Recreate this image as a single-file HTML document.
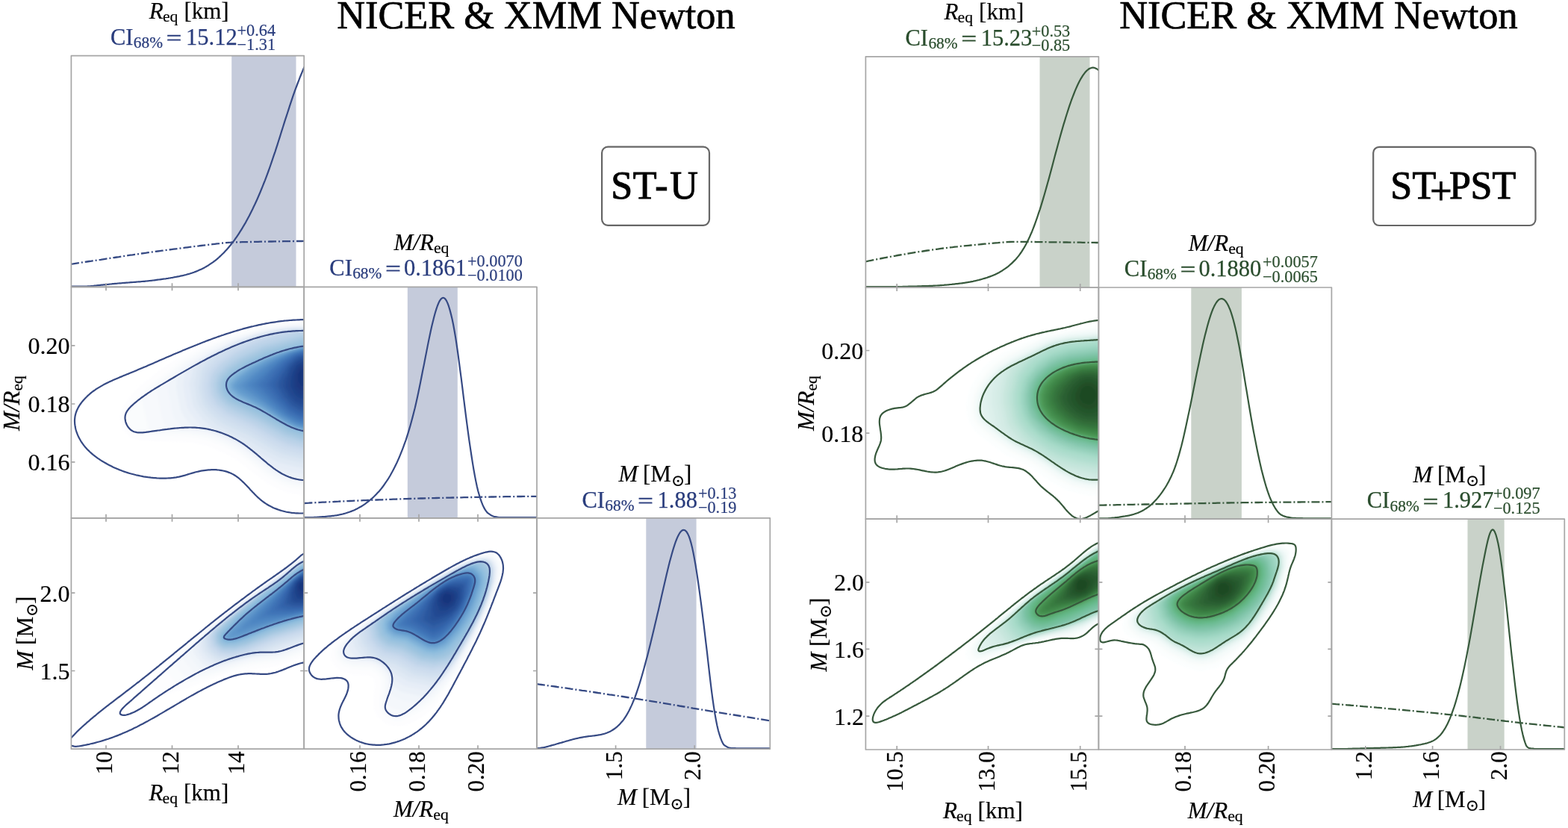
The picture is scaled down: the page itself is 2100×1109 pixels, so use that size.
<!DOCTYPE html>
<html><head><meta charset="utf-8"><style>
html,body{margin:0;padding:0;background:#fff;}
svg{display:block;}
text{font-family:"Liberation Serif","Times New Roman",serif;}
</style></head><body>
<svg width="2100" height="1109" viewBox="0 0 2100 1109">
<defs>
<filter id="bl" x="-5%" y="-5%" width="110%" height="110%"><feGaussianBlur stdDeviation="1.8"/></filter>
<clipPath id="Lclip00"><rect x="95.4" y="74.7" width="311.8" height="309.6"/></clipPath><clipPath id="Lclip11"><rect x="407.2" y="384.3" width="311.8" height="309.5"/></clipPath><clipPath id="Lclip22"><rect x="719" y="693.8" width="312.3" height="309.4"/></clipPath><clipPath id="Lclip10"><rect x="95.4" y="384.3" width="311.8" height="309.5"/></clipPath><clipPath id="Lclip20"><rect x="95.4" y="693.8" width="311.8" height="309.4"/></clipPath><clipPath id="Lclip21"><rect x="407.2" y="693.8" width="311.8" height="309.4"/></clipPath><clipPath id="Rclip00"><rect x="1159.4" y="75.8" width="312" height="309.2"/></clipPath><clipPath id="Rclip11"><rect x="1471.4" y="385" width="312" height="310.2"/></clipPath><clipPath id="Rclip22"><rect x="1783.4" y="695.2" width="311.9" height="308.8"/></clipPath><clipPath id="Rclip10"><rect x="1159.4" y="385" width="312" height="310.2"/></clipPath><clipPath id="Rclip20"><rect x="1159.4" y="695.2" width="312" height="308.8"/></clipPath><clipPath id="Rclip21"><rect x="1471.4" y="695.2" width="312" height="308.8"/></clipPath>
</defs>
<rect width="2100" height="1109" fill="#fff"/>
<rect x="310.2" y="74.7" width="86.3" height="309.6" fill="#c5cbdb"/>
<g clip-path="url(#Lclip00)">
<path d="M95 353.7L98.1 353.3L101.1 352.8L104.2 352.3L107.2 351.9L110.3 351.4L113.3 351L116.4 350.5L119.5 350L122.5 349.6L125.6 349.1L128.6 348.7L131.7 348.2L134.8 347.8L137.8 347.3L140.9 346.8L143.9 346.4L147 345.9L150 345.4L153.1 345L156.2 344.5L159.2 344.1L162.3 343.6L165.3 343.1L168.4 342.7L171.4 342.2L174.5 341.7L177.6 341.3L180.6 340.8L183.7 340.4L186.7 340L189.8 339.5L192.9 339.1L195.9 338.7L199 338.2L202 337.8L205.1 337.4L208.1 336.9L211.2 336.5L214.3 336.1L217.3 335.7L220.4 335.3L223.4 334.9L226.5 334.5L229.5 334.1L232.6 333.7L235.7 333.3L238.7 332.9L241.8 332.5L244.8 332.1L247.9 331.7L251 331.3L254 330.9L257.1 330.5L260.1 330.1L263.2 329.7L266.2 329.4L269.3 329L272.4 328.6L275.4 328.3L278.5 327.9L281.5 327.6L284.6 327.2L287.6 326.8L290.7 326.4L293.8 326.1L296.8 325.7L299.9 325.4L302.9 325.1L306 324.8L309.1 324.7L312.1 324.5L315.2 324.4L318.2 324.3L321.3 324.3L324.3 324.2L327.4 324.1L330.5 324.1L333.5 324L336.6 324L339.6 323.9L342.7 323.9L345.7 323.8L348.8 323.7L351.9 323.7L354.9 323.6L358 323.6L361 323.5L364.1 323.5L367.2 323.4L370.2 323.4L373.3 323.3L376.3 323.3L379.4 323.2L382.4 323.2L385.5 323.2L388.6 323.1L391.6 323.1L394.7 323L397.7 323L400.8 323L403.8 323L406.9 322.9" fill="none" stroke="#364a84" stroke-width="2.3" stroke-dasharray="11 3 2 3"/>
<path d="M95 383.5L96.5 383.5L98 383.5L99.5 383.5L101 383.5L102.6 383.5L104.1 383.5L105.6 383.5L107.1 383.5L108.6 383.5L110.1 383.5L111.6 383.5L113.1 383.5L114.6 383.5L116.2 383.5L117.7 383.4L119.2 383.4L120.7 383.3L122.2 383.1L123.7 383L125.2 382.9L126.7 382.7L128.2 382.6L129.7 382.4L131.3 382.2L132.8 382.1L134.3 381.9L135.8 381.7L137.3 381.6L138.8 381.4L140.3 381.3L141.8 381.1L143.3 381L144.9 380.8L146.4 380.7L147.9 380.5L149.4 380.4L150.9 380.2L152.4 380.1L153.9 379.9L155.4 379.8L156.9 379.7L158.5 379.5L160 379.4L161.5 379.3L163 379.2L164.5 379L166 378.9L167.5 378.8L169 378.7L170.5 378.6L172 378.5L173.6 378.3L175.1 378.2L176.6 378.1L178.1 378L179.6 377.9L181.1 377.8L182.6 377.6L184.1 377.5L185.6 377.4L187.2 377.3L188.7 377.2L190.2 377L191.7 376.9L193.2 376.8L194.7 376.6L196.2 376.5L197.7 376.3L199.2 376.2L200.8 376L202.3 375.8L203.8 375.7L205.3 375.5L206.8 375.3L208.3 375.1L209.8 374.9L211.3 374.7L212.8 374.5L214.4 374.3L215.9 374.1L217.4 373.9L218.9 373.7L220.4 373.5L221.9 373.3L223.4 373L224.9 372.8L226.4 372.5L227.9 372.3L229.5 372L231 371.8L232.5 371.5L234 371.2L235.5 371L237 370.7L238.5 370.4L240 370.1L241.5 369.7L243.1 369.4L244.6 369.1L246.1 368.7L247.6 368.3L249.1 368L250.6 367.5L252.1 367.1L253.6 366.7L255.1 366.2L256.7 365.7L258.2 365.2L259.7 364.7L261.2 364.1L262.7 363.6L264.2 362.9L265.7 362.3L267.2 361.6L268.7 360.9L270.3 360.2L271.8 359.5L273.3 358.7L274.8 357.9L276.3 357L277.8 356.1L279.3 355.2L280.8 354.2L282.3 353.2L283.8 352.2L285.4 351.1L286.9 349.9L288.4 348.8L289.9 347.6L291.4 346.3L292.9 345L294.4 343.6L295.9 342.2L297.4 340.8L299 339.3L300.5 337.7L302 336.1L303.5 334.5L305 332.8L306.5 331L308 329.2L309.5 327.3L311 325.4L312.6 323.4L314.1 321.4L315.6 319.2L317.1 317.1L318.6 314.9L320.1 312.6L321.6 310.2L323.1 307.8L324.6 305.4L326.1 302.8L327.7 300.2L329.2 297.6L330.7 294.8L332.2 292L333.7 289.2L335.2 286.2L336.7 283.2L338.2 280.2L339.7 277L341.3 273.8L342.8 270.5L344.3 267.2L345.8 263.7L347.3 260.2L348.8 256.7L350.3 253L351.8 249.3L353.3 245.5L354.9 241.6L356.4 237.6L357.9 233.6L359.4 229.5L360.9 225.3L362.4 221L363.9 216.6L365.4 212.2L366.9 207.7L368.5 203.1L370 198.4L371.5 193.8L373 189L374.5 184.3L376 179.5L377.5 174.7L379 170L380.5 165.2L382 160.4L383.6 155.7L385.1 151L386.6 146.3L388.1 141.7L389.6 137.1L391.1 132.7L392.6 128.2L394.1 123.9L395.6 119.7L397.2 115.5L398.7 111.5L400.2 107.6L401.7 103.7L403.2 100L404.7 96.3L406.2 92.8L407.7 89.4" fill="none" stroke="#364a84" stroke-width="2.2" stroke-linejoin="round"/>
</g>
<path d="M142 384.3v-5M230.5 384.3v-5M319 384.3v-5" stroke="#a6a6a6" stroke-width="1.7"/>
<rect x="545.8" y="384.3" width="67" height="309.5" fill="#c5cbdb"/>
<g clip-path="url(#Lclip11)">
<path d="M407.4 674L410.5 673.8L413.5 673.7L416.6 673.5L419.7 673.3L422.7 673.2L425.8 673L428.8 672.9L431.9 672.7L434.9 672.6L438 672.4L441 672.3L444.1 672.1L447.1 672L450.2 671.8L453.3 671.7L456.3 671.5L459.4 671.4L462.4 671.3L465.5 671.1L468.5 671L471.6 670.9L474.6 670.7L477.7 670.6L480.7 670.5L483.8 670.3L486.9 670.2L489.9 670.1L493 670L496 669.9L499.1 669.7L502.1 669.6L505.2 669.5L508.2 669.4L511.3 669.3L514.3 669.2L517.4 669L520.5 668.9L523.5 668.8L526.6 668.7L529.6 668.6L532.7 668.5L535.7 668.4L538.8 668.3L541.8 668.2L544.9 668.1L547.9 668L551 667.9L554.1 667.8L557.1 667.7L560.2 667.6L563.2 667.5L566.3 667.5L569.3 667.4L572.4 667.3L575.4 667.2L578.5 667.2L581.5 667.1L584.6 667L587.7 666.9L590.7 666.9L593.8 666.8L596.8 666.7L599.9 666.7L602.9 666.6L606 666.5L609 666.5L612.1 666.4L615.1 666.3L618.2 666.3L621.2 666.2L624.3 666.1L627.4 666.1L630.4 666L633.5 666L636.5 665.9L639.6 665.8L642.6 665.8L645.7 665.7L648.7 665.7L651.8 665.6L654.8 665.6L657.9 665.5L661 665.5L664 665.4L667.1 665.4L670.1 665.3L673.2 665.3L676.2 665.2L679.3 665.2L682.3 665.1L685.4 665.1L688.4 665.1L691.5 665L694.6 665L697.6 665L700.7 664.9L703.7 664.9L706.8 664.9L709.8 664.8L712.9 664.8L715.9 664.8L719 664.8" fill="none" stroke="#364a84" stroke-width="2.3" stroke-dasharray="11 3 2 3"/>
<path d="M407.4 693L409 693L410.5 693L412 693L413.5 693L415 693L416.5 693L418 693L419.5 693L421.1 692.9L422.6 692.9L424.1 692.8L425.6 692.7L427.1 692.6L428.6 692.4L430.1 692.3L431.6 692.2L433.1 692.1L434.7 692L436.2 691.8L437.7 691.7L439.2 691.5L440.7 691.4L442.2 691.3L443.7 691.1L445.2 690.9L446.8 690.8L448.3 690.5L449.8 690.3L451.3 690.1L452.8 689.8L454.3 689.5L455.8 689.2L457.3 688.8L458.9 688.5L460.4 688.1L461.9 687.7L463.4 687.3L464.9 686.8L466.4 686.3L467.9 685.8L469.4 685.2L471 684.6L472.5 684L474 683.4L475.5 682.7L477 681.9L478.5 681.2L480 680.4L481.5 679.5L483.1 678.7L484.6 677.8L486.1 676.8L487.6 675.8L489.1 674.8L490.6 673.7L492.1 672.5L493.6 671.4L495.2 670.2L496.7 668.9L498.2 667.6L499.7 666.2L501.2 664.8L502.7 663.3L504.2 661.7L505.7 660.1L507.3 658.4L508.8 656.7L510.3 654.9L511.8 653L513.3 651L514.8 648.9L516.3 646.7L517.8 644.5L519.4 642.2L520.9 639.7L522.4 637.2L523.9 634.5L525.4 631.8L526.9 628.9L528.4 626L529.9 622.9L531.5 619.7L533 616.4L534.5 613L536 609.4L537.5 605.7L539 601.8L540.5 597.8L542 593.6L543.6 589.3L545.1 584.7L546.6 579.9L548.1 574.9L549.6 569.7L551.1 564.3L552.6 558.6L554.1 552.7L555.7 546.5L557.2 540L558.7 533.3L560.2 526.2L561.7 519L563.2 511.6L564.7 504L566.2 496.3L567.8 488.6L569.3 480.8L570.8 473.1L572.3 465.4L573.8 457.9L575.3 450.6L576.8 443.5L578.3 436.7L579.9 430.3L581.4 424.3L582.9 418.8L584.4 413.9L585.9 409.5L587.4 405.8L588.9 402.8L590.4 400.6L592 399.3L593.5 398.8L595 399.2L596.5 400.6L598 402.9L599.5 406.1L601 410.2L602.5 415.1L604 420.9L605.6 427.5L607.1 434.8L608.6 443L610.1 451.9L611.6 461.6L613.1 472L614.6 483.1L616.1 494.7L617.7 506.6L619.2 518.7L620.7 530.9L622.2 542.9L623.7 554.8L625.2 566.4L626.7 577.7L628.2 588.7L629.8 599.3L631.3 609.5L632.8 619.1L634.3 628.2L635.8 636.6L637.3 644.4L638.8 651.4L640.3 657.7L641.9 663.2L643.4 668.1L644.9 672.4L646.4 676.2L647.9 679.4L649.4 682.1L650.9 684.4L652.4 686.3L654 687.6L655.5 688.7L657 689.7L658.5 690.6L660 691.3L661.5 691.8L663 692.1L664.5 692.4L666.1 692.7L667.6 692.9L669.1 693L670.6 693L672.1 693L673.6 693L675.1 693L676.6 693L678.2 693L679.7 693L681.2 693L682.7 693L684.2 693L685.7 693L687.2 693L688.7 693L690.3 693L691.8 693L693.3 693L694.8 693L696.3 693L697.8 693L699.3 693L700.8 693L702.4 693L703.9 693L705.4 693L706.9 693L708.4 693L709.9 693L711.4 693L712.9 693L714.5 693L716 693L717.5 693L719 693" fill="none" stroke="#364a84" stroke-width="2.2" stroke-linejoin="round"/>
</g>
<path d="M482 693.8v-5M561 693.8v-5M640 693.8v-5" stroke="#a6a6a6" stroke-width="1.7"/>
<rect x="865.3" y="693.8" width="67.3" height="309.4" fill="#c5cbdb"/>
<g clip-path="url(#Lclip22)">
<path d="M718.9 916.2L722 916.6L725 917L728 917.4L731.1 917.8L734.1 918.3L737.1 918.7L740.2 919.1L743.2 919.5L746.2 920L749.3 920.4L752.3 920.8L755.3 921.3L758.4 921.7L761.4 922.1L764.4 922.6L767.5 923L770.5 923.5L773.5 923.9L776.6 924.3L779.6 924.8L782.6 925.2L785.7 925.7L788.7 926.1L791.7 926.6L794.8 927L797.8 927.5L800.8 928L803.9 928.4L806.9 928.9L809.9 929.3L813 929.8L816 930.3L819 930.7L822.1 931.2L825.1 931.6L828.1 932.1L831.2 932.6L834.2 933L837.2 933.5L840.3 934L843.3 934.5L846.3 934.9L849.4 935.4L852.4 935.9L855.4 936.4L858.5 936.9L861.5 937.3L864.5 937.8L867.6 938.3L870.6 938.8L873.6 939.3L876.7 939.8L879.7 940.3L882.7 940.8L885.8 941.4L888.8 941.9L891.8 942.4L894.9 942.9L897.9 943.4L900.9 943.9L904 944.4L907 944.9L910 945.5L913.1 946L916.1 946.5L919.1 947L922.2 947.5L925.2 948L928.2 948.6L931.3 949.1L934.3 949.6L937.3 950.1L940.4 950.6L943.4 951.1L946.4 951.6L949.5 952.1L952.5 952.6L955.5 953.1L958.6 953.6L961.6 954.1L964.6 954.6L967.7 955.1L970.7 955.6L973.7 956.1L976.8 956.6L979.8 957L982.8 957.5L985.9 958L988.9 958.5L991.9 959L995 959.5L998 960L1001 960.4L1004.1 960.9L1007.1 961.4L1010.1 961.9L1013.2 962.4L1016.2 962.9L1019.2 963.3L1022.3 963.8L1025.3 964.3L1028.3 964.8L1031.4 965.2" fill="none" stroke="#364a84" stroke-width="2.3" stroke-dasharray="11 3 2 3"/>
<path d="M718.9 1002.3L720.5 1002.2L722 1002L723.5 1001.9L725 1001.6L726.5 1001.4L728 1001.2L729.5 1000.9L731 1000.5L732.5 1000.1L734 999.7L735.5 999.3L737.1 998.9L738.6 998.4L740.1 998L741.6 997.6L743.1 997.2L744.6 996.7L746.1 996.3L747.6 995.9L749.1 995.4L750.6 995L752.2 994.6L753.7 994.1L755.2 993.7L756.7 993.3L758.2 992.8L759.7 992.4L761.2 992L762.7 991.5L764.2 991.1L765.7 990.7L767.2 990.3L768.8 989.9L770.3 989.5L771.8 989.2L773.3 988.8L774.8 988.5L776.3 988.2L777.8 987.9L779.3 987.6L780.8 987.3L782.3 987L783.8 986.8L785.4 986.6L786.9 986.4L788.4 986.2L789.9 986L791.4 985.8L792.9 985.7L794.4 985.5L795.9 985.3L797.4 985.1L798.9 984.9L800.4 984.7L802 984.4L803.5 984.2L805 983.9L806.5 983.5L808 983.1L809.5 982.7L811 982.2L812.5 981.7L814 981.1L815.5 980.4L817.1 979.7L818.6 978.9L820.1 978L821.6 977L823.1 976L824.6 974.9L826.1 973.7L827.6 972.3L829.1 970.9L830.6 969.3L832.1 967.6L833.7 965.8L835.2 963.8L836.7 961.6L838.2 959.3L839.7 956.9L841.2 954.2L842.7 951.4L844.2 948.3L845.7 945.1L847.2 941.7L848.7 938L850.3 934.1L851.8 930L853.3 925.7L854.8 921.2L856.3 916.5L857.8 911.6L859.3 906.5L860.8 901.3L862.3 896L863.8 890.4L865.3 884.8L866.9 879L868.4 873.1L869.9 867.1L871.4 861L872.9 854.8L874.4 848.6L875.9 842.2L877.4 835.8L878.9 829.4L880.4 822.9L882 816.4L883.5 809.8L885 803.2L886.5 796.6L888 790.1L889.5 783.5L891 777L892.5 770.5L894 764.2L895.5 758L897 752L898.6 746.3L900.1 740.8L901.6 735.6L903.1 730.8L904.6 726.4L906.1 722.5L907.6 718.9L909.1 716L910.6 713.5L912.1 711.6L913.6 710.4L915.2 709.9L916.7 710L918.2 710.9L919.7 712.6L921.2 715.1L922.7 718.4L924.2 722.7L925.7 727.9L927.2 734.1L928.7 741.3L930.2 749.4L931.8 758.3L933.3 767.9L934.8 778L936.3 788.6L937.8 799.6L939.3 810.9L940.8 822.6L942.3 834.7L943.8 847.2L945.3 860L946.9 873.2L948.4 886.5L949.9 899.6L951.4 912.4L952.9 924.6L954.4 936L955.9 946.4L957.4 955.8L958.9 964.2L960.4 971.7L961.9 978.2L963.5 983.7L965 988.4L966.5 992.2L968 995.3L969.5 997.6L971 998.7L972.5 999.6L974 1000.5L975.5 1001.2L977 1001.7L978.5 1001.9L980.1 1002L981.6 1002.1L983.1 1002.1L984.6 1002.2L986.1 1002.3L987.6 1002.4L989.1 1002.4L990.6 1002.4L992.1 1002.4L993.6 1002.4L995.1 1002.4L996.7 1002.4L998.2 1002.4L999.7 1002.4L1001.2 1002.4L1002.7 1002.4L1004.2 1002.4L1005.7 1002.4L1007.2 1002.4L1008.7 1002.4L1010.2 1002.4L1011.8 1002.4L1013.3 1002.4L1014.8 1002.4L1016.3 1002.4L1017.8 1002.4L1019.3 1002.4L1020.8 1002.4L1022.3 1002.4L1023.8 1002.4L1025.3 1002.4L1026.8 1002.4L1028.4 1002.4L1029.9 1002.4L1031.4 1002.4" fill="none" stroke="#364a84" stroke-width="2.2" stroke-linejoin="round"/>
</g>
<path d="M824.6 1003.2v-5M930.2 1003.2v-5" stroke="#a6a6a6" stroke-width="1.7"/>
<path d="M142 693.8v-5M142 384.3v5M230.5 693.8v-5M230.5 384.3v5M319 693.8v-5M319 384.3v5M95.4 462.8h5M407.2 462.8h-5M95.4 541h5M407.2 541h-5M95.4 618.8h5M407.2 618.8h-5" stroke="#a6a6a6" stroke-width="1.7"/>
<g clip-path="url(#Lclip10)">
<g filter="url(#bl)"><path d="M447.8 430.2 446.2 428.8 399.2 428.8 376.2 430.8 350.8 435.2 310.2 446.8 285.8 456.2 257.8 469.2 236.2 480.8 215.2 494.2 189.2 515.2 176.2 528.8 165.8 542.2 161.8 550.8 160.8 562.2 164.2 574.2 172.8 584.8 184.8 589.8 254.2 592.8 269.8 595.2 284.2 599.8 312.8 613.2 359.2 648.2 372.2 655.2 383.2 659.2 407.2 663.8 436.2 663.8 440.2 662.2 446.8 653.2 449.2 636.2 450.8 578.8 450.8 462.2 449.8 440.8Z" fill="#fdfdfe" fill-rule="evenodd"/><path d="M445.8 432.2 442.8 430.8 393.2 431.2 355.8 436.8 310.8 449.8 266.2 469.2 241.8 483.8 198.8 517.8 177.8 539.8 170.8 552.8 172.2 565.8 175.8 575.2 180.8 579.8 189.2 582.2 242.2 583.8 257.8 585.2 277.2 589.2 297.8 596.8 312.8 604.2 325.8 612.8 357.2 637.8 376.8 648.8 388.2 652.8 403.8 655.8 439.2 655.2 444.2 650.2 447.2 643.2 448.8 590.8 450.2 577.8 450.2 463.2 448.8 442.2Z" fill="#fafcfd" fill-rule="evenodd"/><path d="M445.8 435.8 442.8 432.8 408.2 432.2 384.8 433.8 356.8 438.2 312.2 451.2 290.2 460.2 267.2 471.8 249.2 483.2 213.8 510.8 191.2 532.2 190.2 537.8 198.8 575.8 204.2 578.2 250.8 580.2 277.8 585.2 300.8 593.8 317.2 602.2 359.2 634.2 378.8 645.2 394.8 650.2 408.2 652.2 439.2 651.2 443.2 647.8 445.8 642.8 448.2 584.8 449.8 577.8 449.8 463.2 448.2 456.2 448.2 444.2Z" fill="#f7f9fc" fill-rule="evenodd"/><path d="M444.8 437.8 440.2 434.2 402.2 434.2 366.2 438.2 343.8 443.2 316.8 451.8 277.8 469.8 251.8 486.2 217.8 512.8 210.8 519.8 209.8 524.2 216.8 559.8 219.8 567.2 226.8 574.2 268.8 579.2 285.2 583.8 303.2 590.8 322.8 601.2 366.8 634.8 385.2 643.8 404.8 648.2 437.8 648.2 443.2 643.2 447.8 581.2 449.2 577.8 449.2 463.2 447.8 459.8 447.2 443.8Z" fill="#f4f7fb" fill-rule="evenodd"/><path d="M225.2 512.2 224.2 519.8 231.2 554.8 234.2 561.2 242.8 571.8 277.8 578.8 308.2 590.2 327.2 601.2 367.8 632.2 384.8 640.8 406.2 645.8 437.2 645.8 440.2 643.8 444.2 621.8 447.2 580.8 449.2 576.2 449.2 464.2 447.2 460.2 446.2 443.8 441.8 436.8 439.8 435.8 385.8 436.8 353.8 442.2 321.8 451.8 305.8 458.2 267.8 478.8 243.8 495.8Z" fill="#f1f5fa" fill-rule="evenodd"/><path d="M239.2 503.2 236.8 509.2 235.8 518.8 241.8 548.8 246.2 557.8 257.2 571.2 287.8 579.8 315.8 591.8 330.8 601.2 364.8 627.8 381.2 636.8 403.8 642.8 434.2 643.2 438.2 641.8 443.8 614.2 446.2 582.2 448.8 577.2 448.8 463.8 446.2 458.8 445.2 443.8 440.8 437.8 438.2 436.8 387.2 437.8 361.8 441.8 336.8 448.2 313.8 456.8 281.8 472.8 255.8 489.2Z" fill="#ebf1f8" fill-rule="evenodd"/><path d="M250.2 496.8 247.8 501.8 245.2 514.8 250.2 544.2 254.8 553.2 269.8 571.2 315.8 589.8 335.2 602.2 359.8 621.2 371.8 627.8 405.2 635.2 435.8 635.2 437.8 633.8 442.8 611.8 445.8 581.2 448.8 576.2 448.8 464.8 445.8 459.8 444.8 445.2 440.8 439.2 437.2 437.8 392.8 438.2 365.2 442.2 341.2 448.2 317.8 456.8 288.8 470.8 258.8 489.2Z" fill="#e6edf7" fill-rule="evenodd"/><path d="M258.8 492.2 253.2 514.2 257.8 541.2 259.8 546.2 271.8 562.2 284.2 572.8 321.2 590.2 348.8 607.8 372.8 619.8 404.8 627.2 436.2 627.2 437.8 625.8 441.2 612.8 445.2 581.2 448.2 577.2 448.2 463.8 445.2 459.8 443.2 443.8 440.2 440.2 436.2 438.8 393.8 439.2 371.2 442.2 342.2 449.2 317.8 458.2 290.8 471.2 274.2 480.8Z" fill="#e0e9f4" fill-rule="evenodd"/><path d="M266.2 490.2 264.2 494.2 260.2 513.8 263.8 537.2 266.8 544.2 275.2 555.8 290.2 568.8 307.2 578.2 331.8 589.2 352.2 601.8 375.2 613.2 404.2 620.2 436.2 620.2 437.8 618.8 441.8 603.2 444.2 582.2 448.2 576.2 448.2 464.8 444.2 458.8 442.2 443.8 439.2 440.8 394.2 440.2 369.2 443.8 344.8 449.8 317.2 459.8 300.2 467.8 275.8 481.8Z" fill="#dae5f2" fill-rule="evenodd"/><path d="M277.2 485.2 271.8 492.8 269.2 498.8 266.2 519.8 271.8 540.8 280.2 552.2 287.8 559.2 300.8 568.2 332.8 582.8 366.8 602.8 379.2 608.2 404.2 614.2 436.2 614.2 437.8 612.8 440.8 602.8 443.8 581.2 448.2 575.2 448.2 465.8 443.8 459.8 442.2 446.8 439.2 441.8 434.8 440.8 394.2 441.2 372.2 444.2 348.8 449.8 309.2 464.8 287.2 476.8Z" fill="#d3e1f0" fill-rule="evenodd"/><path d="M277.2 494.2 274.2 500.8 271.8 513.2 271.8 520.2 274.2 532.2 277.2 539.2 282.8 546.8 296.8 559.2 336.8 578.8 367.2 596.8 380.2 602.8 403.8 608.8 437.2 608.2 440.2 599.8 443.2 580.8 447.8 576.8 447.8 464.2 443.2 460.2 439.8 443.2 436.2 441.8 394.2 442.2 375.8 444.8 346.2 451.8 321.8 460.8 303.2 470.2 290.8 479.2Z" fill="#ceddee" fill-rule="evenodd"/><path d="M283.2 494.2 279.2 501.2 276.2 517.8 278.2 528.8 281.8 537.2 285.8 542.8 300.2 555.8 339.8 574.8 360.2 587.2 382.2 598.2 406.2 604.2 435.2 604.2 437.8 602.8 442.8 580.2 447.8 575.8 447.8 465.2 442.8 460.8 440.2 446.2 438.2 443.2 395.2 443.2 370.2 447.2 347.8 453.2 329.8 460.2 313.8 468.8 294.8 482.2Z" fill="#c8d9ec" fill-rule="evenodd"/><path d="M286.2 497.8 282.8 504.8 280.8 514.8 282.8 528.2 290.2 541.2 304.8 553.2 338.2 568.8 372.2 588.8 385.8 594.8 405.2 599.8 435.8 599.8 437.8 598.2 441.8 580.8 447.2 576.8 447.8 467.2 447.2 464.2 441.8 460.2 438.2 444.8 395.2 444.8 372.2 449.8 348.2 457.2 334.8 462.8 314.2 473.8 296.2 486.8Z" fill="#bfd4e9" fill-rule="evenodd"/><path d="M288.2 502.2 284.8 515.8 287.2 528.8 292.8 537.8 305.2 548.8 342.2 566.2 372.8 584.2 386.8 590.8 406.2 595.8 435.2 595.8 437.8 594.2 441.2 580.2 447.2 576.2 447.2 464.8 441.8 461.2 437.2 446.2 405.8 445.8 399.8 446.8 346.8 462.2 326.8 471.2 310.2 481.2 299.8 489.2Z" fill="#b8d1e7" fill-rule="evenodd"/><path d="M292.8 502.2 288.8 513.8 289.8 524.2 294.8 534.2 303.2 542.8 320.2 552.2 344.8 563.2 380.2 583.8 404.2 591.8 436.2 591.8 438.8 588.2 440.8 580.2 446.8 576.2 447.2 465.8 446.2 463.8 440.8 460.8 438.8 452.8 436.2 449.2 405.8 449.2 352.2 464.2 318.8 480.2 303.2 491.2Z" fill="#afcce4" fill-rule="evenodd"/><path d="M296.2 503.2 292.2 513.8 293.2 523.8 297.2 531.8 305.8 540.2 345.8 559.8 382.2 580.8 404.2 588.2 436.2 588.2 439.8 580.2 446.8 575.8 446.8 464.8 439.8 460.8 436.2 452.8 405.8 452.8 354.2 467.2 324.8 480.8 305.8 493.8Z" fill="#a6c8e1" fill-rule="evenodd"/><path d="M297.8 507.2 295.8 512.8 295.8 520.8 300.2 530.2 307.2 537.2 347.2 556.8 384.8 578.2 406.8 585.2 435.2 585.2 437.2 584.2 440.8 578.2 446.8 575.2 446.8 465.8 445.2 463.8 440.2 462.2 436.8 456.2 404.8 456.2 355.8 470.2 323.8 485.2 307.2 496.8Z" fill="#9ec4df" fill-rule="evenodd"/><path d="M446.2 465.2 434.2 458.8 409.8 458.8 382.2 465.2 355.2 473.8 332.8 483.8 309.8 498.8 299.8 510.2 299.2 521.8 302.2 527.8 313.8 537.8 348.2 553.8 390.2 577.2 408.2 582.2 436.8 581.8 439.8 578.2 446.2 575.8Z" fill="#98c1df" fill-rule="evenodd"/><path d="M303.8 508.8 301.2 515.2 301.8 520.2 304.8 526.2 311.2 532.8 350.2 551.8 384.2 571.8 394.8 576.2 408.2 579.8 436.8 579.2 445.8 575.8 446.2 466.2 444.2 464.2 435.2 461.2 407.2 461.2 369.2 471.8 352.2 477.8 330.2 488.2 311.8 500.8Z" fill="#90bede" fill-rule="evenodd"/><path d="M445.8 465.8 436.2 462.8 408.8 462.2 358.2 477.2 335.2 487.8 315.2 500.8 305.2 510.8 303.8 519.2 306.8 525.2 316.8 533.8 347.8 548.2 372.2 563.2 393.8 574.2 407.8 578.2 437.2 577.8 444.2 576.2 445.8 574.8Z" fill="#87b8db" fill-rule="evenodd"/><path d="M306.2 513.8 305.8 517.8 307.8 522.8 315.2 530.2 350.8 548.2 390.8 571.8 405.2 576.8 436.8 576.8 443.8 575.8 445.2 574.2 445.8 467.8 444.2 465.2 436.8 463.8 407.2 463.2 374.2 472.8 353.2 480.8 331.8 491.8 314.2 504.2Z" fill="#7fb1d8" fill-rule="evenodd"/><path d="M308.8 514.8 310.2 521.8 318.8 529.8 351.2 546.8 380.2 565.2 392.2 571.2 409.8 576.2 444.2 574.2 445.2 468.2 443.8 465.8 408.2 463.8 374.2 473.8 355.2 481.2 333.8 492.8 316.8 505.2Z" fill="#75a9d4" fill-rule="evenodd"/><path d="M311.8 515.2 312.2 519.8 319.8 527.2 352.8 545.8 383.2 565.8 395.8 571.8 409.2 575.2 441.8 573.8 443.8 571.8 444.2 467.8 442.2 466.2 408.8 464.2 376.8 473.8 360.8 480.2 338.2 492.2 321.2 504.8Z" fill="#6ba1d0" fill-rule="evenodd"/><path d="M314.8 516.2 315.8 519.8 321.8 525.2 351.2 542.8 381.2 563.2 397.2 571.2 405.8 573.8 438.2 572.8 440.8 572.2 442.2 570.2 443.8 537.2 443.2 468.8 441.2 467.2 410.2 464.8 395.2 468.2 376.8 474.8 357.8 483.2 336.2 496.2 318.2 511.2Z" fill="#649bcd" fill-rule="evenodd"/><path d="M318.8 515.8 319.2 518.8 324.8 523.8 354.8 542.8 375.8 558.2 393.2 568.2 406.2 572.8 439.2 570.8 440.8 568.8 442.8 532.2 442.2 470.2 439.8 468.2 418.8 465.8 406.8 465.8 386.8 471.8 370.2 478.8 349.2 490.2 330.8 503.8Z" fill="#5f96cb" fill-rule="evenodd"/><path d="M323.2 515.8 323.2 517.8 330.8 524.2 353.2 539.2 376.8 557.2 396.2 568.2 405.2 571.2 412.2 571.8 435.2 569.8 439.2 567.2 441.8 526.2 441.2 472.2 439.2 469.8 421.2 466.8 407.2 466.2 386.2 472.8 367.2 481.8 349.2 492.8 332.8 505.8Z" fill="#5990c7" fill-rule="evenodd"/><path d="M327.8 516.2 330.8 520.2 373.8 553.2 393.8 565.8 406.8 570.2 415.8 570.2 435.8 567.8 437.8 565.2 440.8 519.8 439.8 472.8 437.8 470.8 422.8 467.8 407.8 466.8 387.2 473.2 369.2 482.2 351.8 493.8 338.2 504.8Z" fill="#528ac4" fill-rule="evenodd"/><path d="M333.8 513.8 332.8 516.8 375.8 552.8 392.8 563.8 406.2 568.8 421.2 568.2 435.2 565.2 438.2 542.2 439.8 510.8 438.8 474.8 437.2 472.2 411.2 467.2 391.8 472.2 377.2 479.2 360.8 489.8 345.2 502.2Z" fill="#4d85c2" fill-rule="evenodd"/><path d="M337.8 514.8 337.8 516.8 371.8 547.2 383.2 556.2 396.2 563.8 406.8 567.2 415.2 567.2 431.2 564.8 434.2 562.2 438.2 520.2 437.8 479.2 436.8 474.2 434.2 472.8 414.2 468.2 407.2 468.2 393.8 472.2 379.8 479.2 362.2 491.2Z" fill="#4880be" fill-rule="evenodd"/><path d="M408.8 468.8 391.2 474.2 373.2 485.2 347.2 508.8 342.8 514.2 342.8 516.2 371.8 544.8 385.2 555.8 400.2 563.8 407.2 565.8 413.8 565.8 429.2 563.2 432.8 560.2 436.8 524.2 436.8 484.8 434.8 474.8 422.8 470.8Z" fill="#447abb" fill-rule="evenodd"/><path d="M407.2 469.8 396.8 472.8 379.2 482.8 362.2 497.2 347.2 515.2 362.8 532.8 384.8 553.2 400.8 562.2 410.8 564.2 426.8 561.8 430.8 559.2 435.2 525.8 435.8 490.8 434.8 478.2 432.8 475.8 418.2 470.8Z" fill="#4175b7" fill-rule="evenodd"/><path d="M406.8 470.8 397.8 473.2 379.8 484.2 364.8 498.2 351.8 515.2 369.8 536.8 388.2 553.8 401.8 560.8 412.8 562.2 425.8 559.8 429.2 556.8 434.2 520.2 434.2 488.8 433.2 479.2 431.2 476.8 415.8 471.2Z" fill="#3d71b5" fill-rule="evenodd"/><path d="M406.2 471.8 392.8 476.8 382.8 483.8 367.2 499.2 356.2 515.2 369.8 533.2 386.8 550.2 401.8 558.8 413.2 560.2 425.8 557.2 427.8 553.8 432.8 521.2 432.8 487.2 431.8 480.2 430.2 478.2 417.2 472.8Z" fill="#3a6cb1" fill-rule="evenodd"/><path d="M406.2 472.8 395.8 476.2 383.2 485.2 366.8 504.2 360.8 513.2 360.8 516.2 375.8 536.8 386.8 547.8 398.2 555.2 405.2 557.8 412.8 558.2 423.8 555.2 426.2 550.8 431.2 521.8 431.8 493.2 430.8 482.8 428.2 479.2 414.8 473.2Z" fill="#3667ae" fill-rule="evenodd"/><path d="M406.2 473.8 395.2 477.8 381.2 489.8 368.2 507.2 364.8 513.8 364.8 516.8 376.8 534.2 388.8 546.8 397.8 552.8 410.2 556.2 422.2 553.2 424.8 547.8 429.8 521.8 430.2 492.8 429.2 483.8 427.2 480.8 415.8 474.8Z" fill="#3363aa" fill-rule="evenodd"/><path d="M407.2 474.8 396.8 478.2 386.2 486.8 373.8 503.8 368.2 515.8 378.2 532.2 390.2 545.2 402.2 552.2 411.8 553.8 421.2 550.2 424.8 539.8 428.8 516.2 428.8 492.8 427.8 484.8 424.2 480.8 415.8 476.2Z" fill="#305ea5" fill-rule="evenodd"/><path d="M405.8 476.2 398.2 478.8 386.8 488.8 378.2 501.2 372.8 512.2 372.2 517.2 380.2 530.8 390.8 542.8 401.2 549.2 411.2 551.2 418.8 548.8 423.2 537.2 427.2 515.8 427.2 493.2 426.2 486.2 423.8 482.8 413.2 476.8Z" fill="#2c59a0" fill-rule="evenodd"/><path d="M404.8 477.8 396.8 481.2 387.8 490.2 378.8 506.2 375.8 513.8 375.8 517.2 383.8 531.2 393.2 541.8 401.8 546.8 412.2 548.2 417.2 545.8 422.8 531.2 425.8 514.8 425.8 494.2 424.2 486.2 420.8 482.8 411.2 477.8Z" fill="#29549b" fill-rule="evenodd"/><path d="M404.8 479.2 394.8 484.8 388.2 492.8 380.2 510.2 379.2 517.8 387.2 531.8 394.2 539.2 402.8 544.2 412.2 545.2 416.8 540.8 422.8 523.2 424.2 513.2 424.2 495.2 422.8 487.8 420.2 484.8 411.2 479.2Z" fill="#264f97" fill-rule="evenodd"/><path d="M405.2 480.8 397.8 484.2 390.2 493.2 384.2 507.2 382.8 518.2 388.8 529.2 396.8 537.8 403.2 541.2 411.2 541.8 415.2 537.2 420.8 523.2 422.8 511.2 422.8 497.8 421.2 489.2 417.2 484.8 411.8 481.2Z" fill="#234a92" fill-rule="evenodd"/><path d="M404.2 482.8 399.2 485.2 392.2 493.8 387.2 506.8 385.8 516.8 389.2 524.8 397.8 534.8 403.2 537.8 409.2 538.2 413.8 533.8 418.2 524.2 420.8 513.2 421.2 501.2 420.2 492.8 418.2 488.8 411.2 483.2Z" fill="#21468e" fill-rule="evenodd"/><path d="M404.8 484.8 397.8 489.2 392.8 497.8 390.2 505.8 389.2 517.2 394.2 526.8 399.2 531.8 404.2 534.2 407.8 534.2 413.8 527.8 417.2 519.8 419.2 509.2 419.2 499.2 415.8 489.2 409.2 484.8Z" fill="#1f428a" fill-rule="evenodd"/><path d="M408.8 487.2 403.2 487.8 399.2 490.8 395.2 497.8 392.8 507.8 392.8 517.2 394.2 520.8 400.8 528.2 404.2 529.8 407.8 528.8 412.2 524.2 417.2 508.8 416.2 494.8 414.2 491.2Z" fill="#1c3e85" fill-rule="evenodd"/><path d="M407.8 490.2 404.8 490.2 399.8 494.2 396.2 503.8 397.2 518.2 403.2 523.8 405.8 523.8 410.2 520.8 414.8 509.8 413.8 495.8 410.8 491.8Z" fill="#1a3980" fill-rule="evenodd"/><path d="M406.8 494.2 401.8 497.2 399.8 502.2 399.8 510.8 403.8 516.8 406.8 516.8 409.2 514.8 412.2 505.8 411.8 499.8 410.2 496.8Z" fill="#18357c" fill-rule="evenodd"/></g>
<path d="M413.1 428.1L411.1 428.1L409 428.1L406.9 428.1L404.9 428.2L402.8 428.2L400.8 428.3L398.8 428.4L396.7 428.5L394.7 428.6L392.7 428.7L390.6 428.8L388.6 429L386.6 429.2L384.6 429.3L382.6 429.5L380.6 429.7L378.6 430L376.6 430.2L374.6 430.4L372.6 430.7L370.6 431L368.6 431.3L366.6 431.6L364.6 431.9L362.6 432.2L360.7 432.5L358.7 432.9L356.7 433.2L354.8 433.6L352.8 434L350.8 434.4L348.9 434.8L346.9 435.2L345 435.6L343 436.1L341.1 436.5L339.1 437L337.2 437.4L335.3 437.9L333.3 438.4L331.4 438.9L329.5 439.4L327.5 439.9L325.6 440.4L323.7 441L321.8 441.5L319.9 442.1L317.9 442.6L316 443.2L314.1 443.8L312.2 444.4L310.3 445L308.4 445.6L306.5 446.2L304.6 446.8L302.7 447.4L300.8 448L298.9 448.7L297 449.3L295.1 450L293.2 450.6L291.3 451.3L289.4 452L287.6 452.6L285.7 453.3L283.8 454L281.9 454.7L280 455.4L278.1 456.1L276.3 456.8L274.4 457.6L272.5 458.3L270.6 459L268.8 459.7L266.9 460.5L265 461.2L263.2 462L261.3 462.7L259.4 463.5L257.6 464.2L255.7 465L253.8 465.7L252 466.5L250.1 467.3L248.2 468.1L246.4 468.8L244.5 469.6L242.7 470.4L240.8 471.2L239 472L237.1 472.8L235.2 473.5L233.4 474.3L231.5 475.1L229.7 475.9L227.8 476.7L226 477.5L224.1 478.3L222.2 479.1L220.4 479.9L218.5 480.7L216.7 481.5L214.8 482.3L213 483.1L211.1 483.9L209.3 484.7L207.4 485.6L205.5 486.4L203.7 487.2L201.8 488L200 488.8L198.1 489.6L196.3 490.4L194.4 491.2L192.5 491.9L190.7 492.7L188.8 493.5L187 494.3L185.1 495.1L183.2 495.9L181.4 496.7L179.5 497.5L177.7 498.2L175.8 499L173.9 499.8L172.1 500.6L170.2 501.3L168.3 502.1L166.5 502.8L164.6 503.6L162.7 504.4L160.9 505.1L159 505.9L157.2 506.7L155.3 507.5L153.5 508.3L151.6 509.1L149.8 509.9L148 510.7L146.2 511.6L144.4 512.4L142.6 513.3L140.8 514.2L139 515.1L137.3 516.1L135.6 517.1L133.9 518.1L132.2 519.1L130.5 520.1L128.8 521.2L127.2 522.4L125.5 523.5L123.9 524.7L122.3 525.9L120.8 527.2L119.3 528.5L117.7 529.9L116.3 531.3L114.8 532.7L113.4 534.2L112 535.7L110.7 537.3L109.4 538.9L108.2 540.5L107 542.2L105.9 543.9L104.9 545.6L104 547.4L103.1 549.2L102.4 551L101.7 552.8L101.2 554.7L100.7 556.6L100.4 558.5L100.2 560.4L100 562.4L100 564.3L100.1 566.3L100.2 568.2L100.5 570.2L100.8 572.1L101.2 574L101.7 576L102.3 577.9L103 579.8L103.7 581.7L104.5 583.6L105.3 585.4L106.3 587.2L107.3 589L108.3 590.8L109.4 592.5L110.6 594.2L111.8 595.8L113 597.4L114.3 599L115.7 600.5L117 602L118.5 603.4L119.9 604.8L121.4 606.2L123 607.6L124.5 608.9L126.1 610.1L127.7 611.4L129.4 612.6L131 613.8L132.7 614.9L134.4 616.1L136.1 617.2L137.9 618.2L139.6 619.3L141.4 620.3L143.1 621.3L144.9 622.3L146.7 623.2L148.5 624.1L150.3 625L152.1 625.9L154 626.7L155.8 627.5L157.6 628.3L159.5 629.1L161.4 629.8L163.2 630.5L165.1 631.2L167 631.9L168.9 632.5L170.8 633.1L172.7 633.7L174.6 634.3L176.5 634.8L178.5 635.3L180.4 635.8L182.4 636.3L184.3 636.7L186.3 637.1L188.2 637.5L190.2 637.9L192.2 638.3L194.1 638.6L196.1 638.9L198.1 639.2L200.1 639.4L202.1 639.7L204.1 639.9L206.1 640.1L208.1 640.2L210.1 640.4L212.1 640.5L214.1 640.6L216.1 640.6L218.1 640.7L220.1 640.6L222.1 640.6L224.1 640.5L226.1 640.4L228.1 640.3L230.1 640.1L232.1 639.9L234 639.6L236 639.3L238 638.9L239.9 638.6L241.9 638.1L243.9 637.6L245.8 637.1L247.7 636.6L249.7 636L251.6 635.4L253.5 634.8L255.5 634.2L257.4 633.6L259.4 633.1L261.3 632.5L263.3 632L265.3 631.6L267.3 631.1L269.3 630.7L271.3 630.4L273.3 630.1L275.3 629.8L277.2 629.6L279.2 629.4L281.2 629.3L283.2 629.2L285.2 629.1L287.2 629.2L289.1 629.2L291.1 629.4L293 629.5L294.9 629.8L296.8 630.1L298.7 630.5L300.6 630.9L302.4 631.4L304.2 631.9L306 632.6L307.8 633.3L309.6 634L311.3 634.9L313 635.8L314.6 636.8L316.3 637.9L317.9 639L319.4 640.2L321 641.5L322.5 642.8L324 644.2L325.5 645.6L327 647L328.4 648.5L329.9 650L331.3 651.5L332.8 653.1L334.2 654.6L335.6 656.2L337.1 657.7L338.5 659.3L340 660.8L341.4 662.3L342.9 663.8L344.4 665.2L345.9 666.6L347.5 668L349 669.3L350.6 670.6L352.2 671.8L353.8 673L355.4 674.1L357.1 675.2L358.8 676.2L360.5 677.2L362.3 678.1L364 679L365.8 679.9L367.6 680.7L369.4 681.4L371.3 682.1L373.2 682.8L375 683.4L377 684L378.9 684.5L380.8 685L382.8 685.5L384.8 685.9L386.7 686.2L388.7 686.5L390.7 686.8L392.7 687L394.7 687.2L396.8 687.3L398.8 687.4L400.8 687.5L402.8 687.5L404.8 687.5L406.9 687.4L408.9 687.3L410.9 687.1L412.9 686.9" fill="none" stroke="#364a84" stroke-width="2.2" stroke-linejoin="round"/>
<path d="M413.2 443L411.1 443L409 443L406.9 442.9L404.9 442.9L402.8 443L400.7 443L398.7 443.1L396.6 443.2L394.6 443.3L392.6 443.4L390.5 443.6L388.5 443.8L386.5 443.9L384.5 444.2L382.5 444.4L380.4 444.6L378.4 444.9L376.5 445.2L374.5 445.5L372.5 445.8L370.5 446.2L368.5 446.5L366.6 446.9L364.6 447.3L362.6 447.7L360.7 448.1L358.7 448.6L356.8 449L354.8 449.5L352.9 450L351 450.5L349 451L347.1 451.6L345.2 452.1L343.3 452.7L341.4 453.3L339.5 453.8L337.5 454.5L335.6 455.1L333.8 455.7L331.9 456.4L330 457L328.1 457.7L326.2 458.4L324.3 459.1L322.5 459.8L320.6 460.5L318.7 461.2L316.9 462L315 462.7L313.2 463.5L311.3 464.3L309.5 465.1L307.6 465.9L305.8 466.7L304 467.5L302.1 468.3L300.3 469.2L298.5 470L296.7 470.9L294.8 471.7L293 472.6L291.2 473.5L289.4 474.4L287.6 475.3L285.8 476.2L284 477.1L282.2 478L280.4 478.9L278.6 479.8L276.8 480.8L275.1 481.7L273.3 482.7L271.5 483.6L269.7 484.6L267.9 485.5L266.2 486.5L264.4 487.5L262.6 488.4L260.9 489.4L259.1 490.4L257.3 491.4L255.6 492.4L253.8 493.4L252.1 494.4L250.3 495.4L248.6 496.4L246.8 497.4L245.1 498.4L243.3 499.4L241.6 500.4L239.8 501.4L238.1 502.4L236.4 503.4L234.6 504.5L232.9 505.5L231.2 506.5L229.4 507.5L227.7 508.5L226 509.5L224.2 510.6L222.5 511.6L220.8 512.6L219.1 513.6L217.4 514.6L215.6 515.6L213.9 516.7L212.2 517.7L210.5 518.7L208.8 519.8L207.1 520.8L205.4 521.9L203.7 522.9L202 524L200.4 525.1L198.7 526.2L197 527.4L195.4 528.5L193.7 529.7L192.1 530.8L190.4 532L188.8 533.2L187.2 534.5L185.5 535.7L183.9 537L182.3 538.3L180.7 539.6L179.1 541L177.6 542.4L176 543.8L174.6 545.2L173.2 546.7L171.9 548.3L170.7 549.9L169.7 551.5L168.8 553.2L168.2 555L167.7 556.8L167.5 558.8L167.5 560.7L167.8 562.8L168.2 564.8L168.9 566.8L169.7 568.7L170.7 570.6L171.9 572.3L173.2 573.9L174.6 575.3L176.2 576.5L177.8 577.4L179.5 578.2L181.3 578.7L183.2 579.1L185.1 579.3L187 579.4L189 579.4L191.1 579.3L193.1 579.1L195.2 578.9L197.3 578.6L199.4 578.3L201.5 578L203.5 577.7L205.6 577.4L207.6 577.1L209.7 576.8L211.7 576.5L213.7 576.3L215.8 576L217.8 575.7L219.8 575.4L221.8 575.1L223.8 574.9L225.8 574.6L227.8 574.4L229.8 574.1L231.8 573.9L233.8 573.7L235.8 573.5L237.7 573.3L239.7 573.2L241.7 573L243.7 572.9L245.6 572.8L247.6 572.7L249.6 572.6L251.5 572.6L253.5 572.5L255.5 572.5L257.4 572.6L259.4 572.6L261.3 572.7L263.3 572.8L265.3 573L267.2 573.2L269.2 573.4L271.2 573.6L273.1 573.9L275.1 574.2L277.1 574.5L279 574.9L281 575.3L282.9 575.8L284.9 576.2L286.9 576.8L288.8 577.3L290.8 577.9L292.7 578.5L294.6 579.1L296.6 579.8L298.5 580.5L300.4 581.2L302.3 582L304.2 582.8L306.1 583.6L307.9 584.4L309.8 585.3L311.6 586.2L313.4 587.2L315.3 588.1L317.1 589.1L318.8 590.1L320.6 591.2L322.3 592.3L324.1 593.4L325.8 594.5L327.5 595.6L329.1 596.8L330.8 598L332.4 599.3L334 600.5L335.6 601.8L337.2 603L338.8 604.3L340.4 605.6L341.9 606.9L343.5 608.2L345 609.5L346.6 610.9L348.1 612.2L349.6 613.5L351.2 614.8L352.7 616.1L354.2 617.4L355.8 618.7L357.3 620L358.8 621.3L360.4 622.5L361.9 623.7L363.5 624.9L365.1 626.1L366.6 627.3L368.2 628.4L369.8 629.6L371.5 630.7L373.1 631.7L374.8 632.7L376.4 633.7L378.1 634.7L379.8 635.6L381.6 636.4L383.3 637.3L385.1 638L386.9 638.8L388.7 639.4L390.6 640.1L392.5 640.6L394.4 641.2L396.4 641.6L398.4 642L400.4 642.4L402.4 642.7L404.5 642.9L406.7 643L408.8 643.1L411 643.1L413.3 643" fill="none" stroke="#364a84" stroke-width="2.2" stroke-linejoin="round"/>
<path d="M413 463L410.9 463.2L408.8 463.4L406.8 463.7L404.8 463.9L402.7 464.2L400.7 464.5L398.7 464.9L396.7 465.3L394.7 465.7L392.7 466.1L390.8 466.6L388.8 467L386.9 467.5L384.9 468.1L383 468.6L381.1 469.2L379.1 469.8L377.2 470.4L375.3 471L373.4 471.7L371.5 472.3L369.6 473L367.7 473.7L365.8 474.4L364 475.2L362.1 475.9L360.2 476.7L358.4 477.5L356.5 478.2L354.6 479L352.8 479.8L350.9 480.7L349.1 481.5L347.2 482.3L345.4 483.2L343.5 484L341.7 484.9L339.8 485.7L338 486.6L336.1 487.5L334.3 488.3L332.4 489.2L330.6 490.1L328.7 491L326.9 492L325.1 492.9L323.3 493.9L321.4 494.9L319.6 496L317.8 497.1L316.1 498.3L314.3 499.5L312.5 500.8L310.8 502.1L309.2 503.5L307.7 504.9L306.4 506.4L305.2 508L304.3 509.6L303.6 511.3L303.2 513.1L303 514.9L303 516.7L303.3 518.5L303.7 520.2L304.4 522L305.2 523.7L306.1 525.3L307.3 526.8L308.5 528.2L309.9 529.5L311.4 530.8L313 532L314.7 533.1L316.5 534.2L318.4 535.2L320.3 536.2L322.2 537.1L324.2 538L326.3 538.9L328.3 539.7L330.3 540.6L332.4 541.4L334.4 542.2L336.4 543.1L338.3 543.9L340.2 544.8L342.1 545.6L344 546.5L345.8 547.4L347.5 548.3L349.3 549.3L351 550.2L352.7 551.2L354.4 552.1L356.1 553.1L357.8 554.1L359.4 555.1L361.1 556L362.8 557.1L364.5 558.1L366.1 559.1L367.9 560.1L369.6 561.2L371.3 562.2L373.1 563.2L374.8 564.3L376.6 565.3L378.4 566.3L380.3 567.3L382.1 568.3L383.9 569.3L385.8 570.2L387.7 571.1L389.5 571.9L391.4 572.8L393.4 573.5L395.3 574.2L397.2 574.9L399.1 575.5L401.1 576L403 576.5L405 576.9L406.9 577.3L408.9 577.5L410.9 577.7L412.8 577.7" fill="none" stroke="#364a84" stroke-width="2.2" stroke-linejoin="round"/>
</g>
<path d="M142 1003.2v-5M142 693.8v5M230.5 1003.2v-5M230.5 693.8v5M319 1003.2v-5M319 693.8v5M95.4 794.2h5M407.2 794.2h-5M95.4 898.5h5M407.2 898.5h-5" stroke="#a6a6a6" stroke-width="1.7"/>
<g clip-path="url(#Lclip20)">
<g filter="url(#bl)"><path d="M448.8 742.8 446.8 741.2 407.8 741.2 353.2 779.8 300.2 820.2 252.2 860.8 226.2 886.2 207.8 906.8 202.8 914.8 202.8 917.2 211.8 929.8 214.8 931.8 223.2 930.2 255.2 920.8 290.8 907.2 313.8 900.2 369.8 892.8 408.8 880.2 441.2 879.2 446.2 873.2 449.2 862.2 451.2 822.8 451.2 763.8Z" fill="#fdfdfe" fill-rule="evenodd"/><path d="M447.8 744.2 446.2 742.8 407.8 742.8 399.2 747.8 326.2 801.8 276.8 841.2 254.2 862.2 228.2 890.2 223.8 896.8 224.8 901.2 236.2 915.8 240.2 916.2 276.2 907.8 318.8 895.2 344.8 889.8 372.8 886.8 409.8 874.8 436.2 874.8 440.2 873.2 445.8 867.2 447.8 861.8 450.2 825.2 450.2 761.2Z" fill="#fafcfd" fill-rule="evenodd"/><path d="M446.8 744.8 445.2 743.8 408.2 743.8 398.8 749.2 327.8 801.8 280.8 839.2 243.2 876.8 235.2 886.8 235.2 891.8 248.2 908.2 252.2 908.8 280.8 902.8 336.8 887.8 376.8 882.2 409.2 871.2 435.8 871.2 440.2 869.8 444.8 865.2 446.8 860.8 448.8 827.2 450.2 822.2 450.2 764.2Z" fill="#f7f9fc" fill-rule="evenodd"/><path d="M446.2 746.8 443.8 744.8 409.2 744.8 399.2 750.2 328.2 802.8 278.8 842.8 250.8 871.8 245.8 878.8 246.2 884.2 259.8 900.8 265.2 901.8 298.2 894.8 337.2 884.2 372.8 879.8 407.2 868.2 437.2 867.8 441.2 865.8 445.2 859.2 447.8 829.8 449.8 823.2 449.8 763.2Z" fill="#f4f7fb" fill-rule="evenodd"/><path d="M445.2 747.2 442.8 745.8 409.2 745.8 400.8 750.2 327.8 804.2 279.8 843.2 256.2 868.2 253.2 873.2 254.8 880.2 265.8 893.8 273.2 897.2 302.8 891.2 343.2 880.8 371.2 877.8 407.8 865.8 438.2 865.2 440.8 863.8 443.8 858.2 447.2 828.8 449.2 824.2 449.2 762.2Z" fill="#f1f5fa" fill-rule="evenodd"/><path d="M444.8 748.2 442.8 746.8 408.8 746.8 400.8 751.2 319.2 811.8 283.2 841.2 267.2 857.2 260.2 866.2 259.2 872.8 261.2 877.2 270.8 888.8 277.2 893.2 282.2 893.8 336.8 880.2 371.8 875.8 408.8 863.8 436.8 863.8 439.2 862.8 441.8 859.2 445.2 843.2 446.8 828.2 449.2 822.8 449.2 763.8Z" fill="#ebf1f8" fill-rule="evenodd"/><path d="M444.8 749.8 441.2 747.2 409.8 747.2 399.8 752.8 324.2 808.8 283.8 841.8 271.8 853.8 264.2 864.2 264.8 871.2 272.2 882.2 283.8 890.8 288.8 890.8 336.8 878.8 370.8 874.2 407.2 862.2 438.2 861.2 441.8 853.8 446.2 828.2 448.8 824.2 448.8 762.2 446.2 758.2Z" fill="#e6edf7" fill-rule="evenodd"/><path d="M443.8 749.8 440.2 747.8 410.2 747.8 400.8 752.8 320.8 812.2 284.2 842.2 268.8 859.8 268.8 867.8 271.8 873.8 278.8 881.8 287.8 887.8 295.8 887.8 337.8 877.2 367.2 872.8 408.2 859.8 437.2 858.8 440.8 852.2 445.2 829.8 448.8 823.2 448.8 763.2 445.8 758.2Z" fill="#e0e9f4" fill-rule="evenodd"/><path d="M443.2 750.2 439.2 748.2 411.2 748.2 401.8 752.8 324.2 810.2 284.8 842.8 274.8 853.2 271.8 858.8 272.8 866.8 275.8 872.2 287.8 883.2 294.2 885.2 301.2 885.2 358.2 872.2 384.2 862.8 410.2 855.2 437.8 854.2 441.8 844.8 445.2 827.8 448.2 824.2 448.8 768.2 448.2 762.2 445.2 758.8Z" fill="#dae5f2" fill-rule="evenodd"/><path d="M442.8 750.8 438.2 748.8 411.8 748.8 403.2 752.2 323.2 811.8 285.8 842.8 274.8 856.2 277.8 868.8 283.8 875.8 291.2 880.8 306.2 882.8 349.2 872.2 371.2 863.2 409.2 851.8 436.8 851.2 439.8 847.2 444.2 828.8 448.2 823.8 448.2 762.8 444.2 757.8Z" fill="#d3e1f0" fill-rule="evenodd"/><path d="M441.8 750.8 437.8 749.2 411.8 749.2 401.2 754.2 324.8 811.2 286.2 843.2 277.8 854.2 280.2 866.8 285.2 872.8 293.8 878.2 309.2 880.2 333.2 874.8 369.8 860.2 407.8 848.8 437.2 847.8 440.8 841.2 443.8 828.2 448.2 822.8 448.2 763.8 443.8 758.2Z" fill="#ceddee" fill-rule="evenodd"/><path d="M441.2 751.2 437.8 749.8 411.8 749.8 402.8 753.8 332.8 805.8 286.8 843.8 280.2 853.2 281.8 862.8 284.2 867.2 294.2 875.2 303.2 877.2 311.8 877.2 328.2 873.8 370.8 856.8 407.8 845.8 437.2 844.8 440.2 839.8 443.2 828.2 447.8 823.8 447.8 762.8 443.8 759.2Z" fill="#c8d9ec" fill-rule="evenodd"/><path d="M440.8 751.8 437.2 750.2 411.8 750.2 402.2 754.8 329.8 808.8 292.8 839.2 285.2 846.8 283.2 850.8 283.2 857.2 285.8 864.8 295.2 872.8 304.8 874.8 314.2 874.2 333.2 869.2 369.8 854.2 406.8 843.2 437.8 841.8 442.8 827.8 447.8 823.2 447.8 763.2 442.8 758.8Z" fill="#bfd4e9" fill-rule="evenodd"/><path d="M447.2 762.2 442.2 758.8 439.8 751.8 436.8 750.8 412.2 750.8 403.8 754.2 333.2 806.8 290.8 842.2 287.2 846.2 285.2 853.2 287.8 863.2 296.8 870.8 311.2 872.2 327.2 868.8 366.8 852.8 406.8 840.8 437.2 839.8 442.2 827.8 447.8 822.8Z" fill="#b8d1e7" fill-rule="evenodd"/><path d="M447.2 762.8 441.8 759.2 438.2 751.8 410.2 751.8 404.8 754.2 345.2 798.2 299.8 835.2 288.8 847.2 287.8 856.2 289.8 862.2 294.2 866.8 299.8 869.2 312.8 869.8 330.2 865.2 364.2 851.2 410.2 837.8 436.8 837.8 439.8 833.8 441.8 827.2 447.2 823.8Z" fill="#afcce4" fill-rule="evenodd"/><path d="M446.8 762.2 441.2 759.2 437.2 752.2 411.2 752.2 404.2 755.2 346.2 798.2 305.2 831.8 291.2 846.8 289.8 851.8 290.8 859.8 295.8 865.2 300.2 867.2 315.2 867.2 328.2 863.8 364.8 848.8 404.8 836.8 437.2 835.2 441.2 827.2 447.2 823.2Z" fill="#a6c8e1" fill-rule="evenodd"/><path d="M446.8 762.8 442.2 760.8 436.8 753.2 410.8 753.2 403.8 756.2 346.2 799.2 315.2 824.2 300.2 838.8 292.8 848.2 291.8 851.8 292.8 859.2 295.8 862.8 300.8 865.2 315.2 865.2 329.2 861.2 363.2 847.2 404.8 834.8 437.2 833.2 440.2 827.8 447.2 822.8Z" fill="#9ec4df" fill-rule="evenodd"/><path d="M446.8 763.2 441.2 760.8 436.8 754.8 409.2 754.8 404.2 756.8 347.8 799.2 316.2 825.2 295.2 847.8 293.8 851.2 294.8 858.8 298.2 862.2 302.2 863.8 316.2 863.2 333.2 857.8 363.2 845.2 406.8 832.2 436.8 831.8 441.2 825.8 446.8 823.2Z" fill="#98c1df" fill-rule="evenodd"/><path d="M446.2 762.8 441.2 761.2 436.2 756.2 408.2 756.2 405.2 757.2 349.2 799.8 320.2 823.8 297.8 847.2 295.2 852.2 296.2 857.8 299.2 860.8 303.2 862.2 314.8 861.8 332.2 856.2 362.2 843.8 405.8 830.8 437.2 829.8 441.2 825.2 446.8 822.8Z" fill="#90bede" fill-rule="evenodd"/><path d="M446.2 763.2 435.8 757.8 408.2 757.8 404.2 759.2 322.2 824.2 299.8 847.2 297.2 851.2 297.2 856.2 302.2 860.2 314.2 860.2 330.2 855.2 362.8 841.8 406.8 828.8 435.8 828.8 440.2 825.2 445.8 823.8 446.8 821.8Z" fill="#87b8db" fill-rule="evenodd"/><path d="M446.2 763.8 436.2 759.2 407.8 759.2 405.2 760.2 322.2 826.2 298.8 851.8 299.2 856.2 305.2 859.2 313.8 858.8 329.8 853.8 359.8 841.2 404.8 827.8 435.8 827.2 446.2 822.8Z" fill="#7fb1d8" fill-rule="evenodd"/><path d="M446.2 764.2 444.8 762.8 434.8 760.2 406.2 760.8 323.2 827.2 303.2 847.8 300.2 852.2 300.8 855.8 304.8 857.8 318.2 856.2 361.2 839.2 405.8 826.2 437.2 825.8 445.2 823.2 446.2 821.8Z" fill="#75a9d4" fill-rule="evenodd"/><path d="M445.8 764.2 436.2 761.2 408.8 760.8 405.2 762.2 324.8 827.8 304.8 848.2 301.8 854.2 304.8 856.2 318.2 854.8 359.2 838.8 406.2 825.2 432.8 825.2 444.8 823.2 445.8 822.2 446.2 796.2Z" fill="#6ba1d0" fill-rule="evenodd"/><path d="M445.2 764.2 429.8 761.8 409.8 761.2 406.2 762.2 331.8 823.2 309.2 845.8 304.2 853.2 307.2 854.8 317.8 853.2 361.8 836.8 405.2 824.8 436.8 824.2 444.8 822.8 445.8 820.2Z" fill="#649bcd" fill-rule="evenodd"/><path d="M444.8 764.2 436.8 762.8 409.8 761.8 403.2 764.8 334.2 823.2 312.2 845.8 309.2 851.2 320.2 850.2 360.8 835.8 404.2 824.2 444.2 822.2 445.2 820.2Z" fill="#5f96cb" fill-rule="evenodd"/><path d="M444.8 765.8 438.8 763.8 409.2 762.2 405.8 763.8 390.8 775.2 348.8 812.2 324.8 835.8 316.2 847.2 322.2 846.8 358.8 834.8 405.2 823.2 443.8 821.2 444.8 818.2Z" fill="#5990c7" fill-rule="evenodd"/><path d="M443.8 766.2 439.8 764.8 409.2 762.8 403.2 765.8 386.8 779.2 349.2 814.2 327.8 836.8 325.2 841.8 404.2 822.8 442.8 820.2 444.2 804.8Z" fill="#528ac4" fill-rule="evenodd"/><path d="M442.2 766.8 408.8 763.2 404.8 765.2 373.2 792.8 344.2 822.8 334.2 835.8 405.2 821.8 440.8 819.2 442.2 817.8 443.2 802.2 443.2 769.2Z" fill="#4d85c2" fill-rule="evenodd"/><path d="M441.2 768.2 414.2 763.8 408.8 763.8 404.8 765.8 388.8 778.8 373.8 793.8 348.2 822.2 343.2 830.2 384.2 825.2 405.8 820.8 421.8 820.2 439.8 817.8 441.2 813.8 442.2 795.2Z" fill="#4880be" fill-rule="evenodd"/><path d="M440.2 769.8 433.2 767.2 408.8 764.2 394.2 774.2 379.2 789.2 354.2 819.2 350.2 826.2 384.8 823.8 406.2 819.8 420.8 819.2 438.2 816.2 439.8 812.8 440.8 799.8Z" fill="#447abb" fill-rule="evenodd"/><path d="M438.8 771.2 435.8 769.2 417.2 765.2 409.2 764.8 404.8 766.8 384.8 784.2 366.8 806.8 356.8 822.2 365.8 823.2 389.8 821.8 406.2 818.8 422.8 817.8 436.8 814.8 438.2 811.8 439.8 790.2Z" fill="#4175b7" fill-rule="evenodd"/><path d="M437.2 772.2 432.2 769.8 415.8 765.8 409.2 765.2 404.8 767.2 394.2 775.2 385.8 784.2 364.8 813.8 362.8 819.8 390.8 820.2 420.8 816.8 435.2 813.2 436.8 809.8 438.2 792.8Z" fill="#3d71b5" fill-rule="evenodd"/><path d="M435.8 773.2 414.2 766.2 408.2 766.2 404.2 768.2 393.2 776.8 386.8 784.2 373.8 803.8 367.2 816.2 373.2 818.2 389.8 818.8 418.2 815.8 432.8 812.2 434.8 810.2 436.2 799.8 436.8 777.2Z" fill="#3a6cb1" fill-rule="evenodd"/><path d="M434.2 774.8 415.8 767.2 408.8 766.8 397.8 773.2 386.2 786.2 378.8 798.8 371.8 814.2 383.8 816.8 397.8 816.8 418.8 814.2 431.8 810.2 433.8 805.8 435.2 791.8Z" fill="#3667ae" fill-rule="evenodd"/><path d="M432.8 776.2 420.8 769.8 411.2 767.2 401.2 771.2 393.2 778.2 386.8 787.2 375.8 811.8 377.2 813.2 384.8 814.8 398.2 815.2 416.2 813.2 429.2 809.2 431.8 806.2 433.2 796.2Z" fill="#3363aa" fill-rule="evenodd"/><path d="M431.2 777.8 423.2 772.2 412.2 768.2 408.8 768.2 402.2 771.2 393.2 779.2 388.8 785.8 383.2 797.2 379.8 810.2 389.8 813.2 404.2 813.2 415.8 811.8 428.2 807.2 430.2 803.8 431.8 794.2Z" fill="#305ea5" fill-rule="evenodd"/><path d="M429.8 779.2 420.2 772.2 412.8 769.2 408.2 769.2 400.8 772.8 393.2 780.2 387.8 790.2 383.2 804.8 383.2 808.8 393.8 811.8 404.8 811.8 415.2 810.2 426.2 805.8 428.2 803.2 429.8 795.8Z" fill="#2c59a0" fill-rule="evenodd"/><path d="M427.8 780.2 422.2 775.2 412.8 770.2 407.8 770.2 401.2 773.2 395.2 778.8 390.2 787.2 386.8 798.8 386.2 806.8 391.2 809.2 403.8 810.2 414.2 808.8 423.8 804.8 426.2 802.2 427.8 796.2Z" fill="#29549b" fill-rule="evenodd"/><path d="M425.2 780.8 418.2 774.2 412.2 771.2 407.2 771.2 400.8 774.2 392.2 785.2 389.2 796.2 389.2 805.2 394.8 807.8 407.2 808.2 415.8 806.2 423.2 802.2 425.2 798.2 426.8 788.8Z" fill="#264f97" fill-rule="evenodd"/><path d="M418.2 776.2 412.8 772.8 407.8 772.2 402.2 774.2 396.8 779.2 391.8 791.2 391.2 800.2 393.2 804.8 398.2 806.2 408.8 806.2 414.2 804.8 421.8 800.2 423.8 795.8 424.8 785.2Z" fill="#234a92" fill-rule="evenodd"/><path d="M412.8 774.2 404.2 774.2 396.8 780.8 393.2 792.2 393.8 799.2 396.2 803.2 410.8 803.8 416.2 801.2 420.8 797.2 422.2 792.2 421.8 784.2 418.2 778.8Z" fill="#21468e" fill-rule="evenodd"/><path d="M412.2 775.8 409.2 774.8 403.2 775.8 397.2 781.8 395.2 788.2 395.2 793.8 397.8 800.8 401.2 802.2 409.8 801.8 418.2 796.2 419.8 792.8 419.8 786.2 417.2 780.8Z" fill="#1f428a" fill-rule="evenodd"/><path d="M408.2 776.2 401.2 778.2 397.2 785.2 397.8 794.2 399.2 797.2 402.8 799.8 409.2 799.2 413.8 796.8 416.8 792.8 417.2 788.8 415.2 781.8 411.8 777.8Z" fill="#1c3e85" fill-rule="evenodd"/><path d="M404.2 778.2 399.8 782.2 398.8 789.2 402.8 795.8 408.2 796.2 412.8 792.2 413.2 783.8 409.2 778.8Z" fill="#1a3980" fill-rule="evenodd"/><path d="M404.8 780.2 402.2 781.8 400.8 786.2 403.2 791.2 406.8 791.8 409.2 789.8 410.2 784.8 407.8 780.8Z" fill="#18357c" fill-rule="evenodd"/></g>
<path d="M412.9 741.5L410.6 741.1L408.6 741.2L406.8 741.7L405.1 742.6L403.5 743.7L402 745L400.5 746.3L399 747.7L397.5 749L396 750.4L394.4 751.7L392.9 752.9L391.3 754.2L389.7 755.5L388.1 756.7L386.5 757.9L384.9 759.1L383.3 760.3L381.7 761.5L380.1 762.7L378.4 763.9L376.8 765L375.2 766.2L373.5 767.4L371.9 768.5L370.2 769.7L368.6 770.8L366.9 772L365.3 773.1L363.6 774.3L362 775.4L360.3 776.6L358.7 777.7L357 778.9L355.4 780L353.8 781.2L352.1 782.4L350.5 783.5L348.9 784.7L347.2 785.9L345.6 787L344 788.2L342.3 789.4L340.7 790.6L339.1 791.7L337.5 792.9L335.9 794.1L334.2 795.3L332.6 796.5L331 797.7L329.4 798.9L327.8 800.1L326.2 801.3L324.6 802.5L323 803.7L321.4 804.9L319.8 806.1L318.2 807.3L316.6 808.5L315 809.7L313.4 810.9L311.8 812.1L310.2 813.4L308.6 814.6L307 815.8L305.4 817L303.8 818.3L302.2 819.5L300.7 820.7L299.1 822L297.5 823.2L295.9 824.5L294.3 825.7L292.8 826.9L291.2 828.2L289.6 829.4L288 830.7L286.5 831.9L284.9 833.2L283.3 834.4L281.7 835.7L280.2 837L278.6 838.2L277 839.5L275.5 840.7L273.9 842L272.3 843.3L270.8 844.5L269.2 845.8L267.7 847L266.1 848.3L264.5 849.6L263 850.8L261.4 852.1L259.8 853.4L258.3 854.7L256.7 855.9L255.2 857.2L253.6 858.5L252 859.7L250.5 861L248.9 862.3L247.4 863.6L245.8 864.8L244.3 866.1L242.7 867.4L241.1 868.6L239.6 869.9L238 871.2L236.5 872.5L234.9 873.7L233.3 875L231.8 876.3L230.2 877.6L228.7 878.8L227.1 880.1L225.6 881.4L224 882.6L222.4 883.9L220.9 885.2L219.3 886.4L217.8 887.7L216.2 889L214.6 890.2L213.1 891.5L211.5 892.8L209.9 894L208.4 895.3L206.8 896.5L205.2 897.8L203.7 899L202.1 900.3L200.5 901.6L199 902.8L197.4 904.1L195.8 905.3L194.3 906.5L192.7 907.8L191.1 909L189.5 910.3L188 911.5L186.4 912.8L184.8 914L183.2 915.2L181.6 916.5L180.1 917.7L178.5 918.9L176.9 920.1L175.3 921.4L173.7 922.6L172.1 923.8L170.5 925L168.9 926.2L167.4 927.4L165.8 928.6L164.2 929.9L162.6 931.1L161 932.3L159.4 933.5L157.8 934.7L156.2 935.9L154.6 937.1L153 938.3L151.4 939.6L149.8 940.8L148.2 942L146.7 943.2L145.1 944.5L143.5 945.7L141.9 946.9L140.3 948.2L138.7 949.4L137.2 950.7L135.6 951.9L134 953.2L132.4 954.4L130.9 955.7L129.3 957L127.8 958.3L126.2 959.5L124.6 960.8L123.1 962.1L121.5 963.4L120 964.8L118.5 966.1L116.9 967.4L115.4 968.8L113.9 970.1L112.3 971.5L110.8 972.8L109.3 974.2L107.8 975.6L106.3 977L104.9 978.4L103.4 979.8L102 981.3L100.6 982.7L99.2 984.2L97.8 985.6L96.5 987.1L95.1 988.6L93.9 990.1L92.8 991.5L92.1 993L91.8 994.3L92 995.6L92.8 996.8L94 997.8L95.6 998.6L97.4 999.2L99.3 999.6L101.3 999.8L103.3 999.7L105.4 999.5L107.4 999.2L109.5 998.8L111.5 998.4L113.6 998L115.6 997.6L117.6 997.2L119.6 996.8L121.6 996.3L123.6 995.8L125.6 995.4L127.5 994.9L129.5 994.3L131.4 993.8L133.4 993.3L135.3 992.7L137.3 992.1L139.2 991.5L141.1 990.9L143 990.3L144.9 989.7L146.8 989L148.7 988.4L150.6 987.7L152.5 987L154.3 986.3L156.2 985.6L158.1 984.9L159.9 984.1L161.8 983.4L163.6 982.6L165.4 981.8L167.3 981L169.1 980.2L170.9 979.4L172.7 978.6L174.6 977.7L176.4 976.9L178.2 976L180 975.1L181.8 974.3L183.6 973.4L185.3 972.5L187.1 971.5L188.9 970.6L190.7 969.7L192.5 968.7L194.2 967.8L196 966.8L197.8 965.9L199.5 964.9L201.3 963.9L203.1 962.9L204.8 962L206.6 961L208.3 960L210.1 959L211.8 958L213.6 956.9L215.3 955.9L217.1 954.9L218.8 953.9L220.5 952.9L222.3 951.8L224 950.8L225.8 949.8L227.5 948.8L229.2 947.7L231 946.7L232.7 945.7L234.5 944.6L236.2 943.6L237.9 942.6L239.7 941.6L241.4 940.5L243.1 939.5L244.9 938.5L246.6 937.5L248.4 936.5L250.1 935.4L251.9 934.4L253.6 933.4L255.4 932.4L257.1 931.4L258.9 930.5L260.6 929.5L262.4 928.5L264.1 927.5L265.9 926.6L267.7 925.6L269.4 924.7L271.2 923.7L273 922.8L274.7 921.9L276.5 921L278.3 920.1L280.1 919.2L281.9 918.3L283.7 917.4L285.5 916.6L287.3 915.7L289.1 914.9L290.9 914.1L292.7 913.3L294.5 912.5L296.4 911.7L298.2 910.9L300 910.1L301.9 909.4L303.7 908.7L305.5 908L307.4 907.3L309.3 906.6L311.1 906L313 905.4L314.9 904.9L316.8 904.4L318.7 903.9L320.7 903.5L322.6 903.1L324.5 902.8L326.5 902.6L328.5 902.4L330.5 902.3L332.5 902.2L334.5 902.2L336.5 902.2L338.6 902.3L340.6 902.4L342.7 902.5L344.7 902.6L346.8 902.7L348.8 902.8L350.9 902.9L352.9 902.9L354.9 902.8L356.9 902.8L358.9 902.6L360.9 902.3L362.9 902L364.9 901.6L366.8 901.2L368.8 900.7L370.7 900.1L372.6 899.5L374.5 898.8L376.4 898.1L378.3 897.4L380.2 896.6L382.1 895.9L384 895.1L385.9 894.3L387.7 893.5L389.6 892.8L391.5 892L393.4 891.3L395.3 890.6L397.2 890L399.1 889.4L401 888.8L402.9 888.3L404.8 887.8L406.7 887.4L408.7 887.1L410.6 886.9L412.6 886.8" fill="none" stroke="#364a84" stroke-width="2.2" stroke-linejoin="round"/>
<path d="M412.8 750.2L410.9 750.6L409 751.1L407.2 751.7L405.5 752.4L403.8 753.3L402.1 754.2L400.4 755.2L398.8 756.3L397.2 757.4L395.7 758.6L394.1 759.8L392.6 761.1L391 762.4L389.5 763.8L388 765.1L386.4 766.5L384.9 767.9L383.4 769.2L381.8 770.5L380.2 771.8L378.7 773.1L377.1 774.4L375.5 775.6L373.9 776.9L372.2 778.1L370.6 779.3L369 780.4L367.3 781.6L365.6 782.8L364 783.9L362.3 785L360.6 786.1L359 787.3L357.3 788.4L355.6 789.5L353.9 790.6L352.3 791.7L350.6 792.8L348.9 793.9L347.3 795L345.6 796.2L343.9 797.3L342.3 798.4L340.6 799.6L339 800.7L337.3 801.9L335.7 803L334.1 804.2L332.5 805.4L330.8 806.5L329.2 807.7L327.6 808.9L326 810.1L324.4 811.3L322.8 812.5L321.2 813.7L319.6 814.9L318 816.1L316.4 817.3L314.8 818.6L313.3 819.8L311.7 821L310.1 822.3L308.5 823.5L307 824.7L305.4 826L303.9 827.2L302.3 828.5L300.7 829.8L299.2 831L297.6 832.3L296.1 833.6L294.5 834.8L293 836.1L291.5 837.4L289.9 838.7L288.4 840L286.8 841.3L285.3 842.6L283.8 843.9L282.2 845.2L280.7 846.5L279.2 847.8L277.7 849.1L276.1 850.4L274.6 851.7L273.1 853L271.5 854.3L270 855.6L268.5 856.9L267 858.2L265.5 859.6L263.9 860.9L262.4 862.2L260.9 863.5L259.4 864.9L257.9 866.2L256.3 867.5L254.8 868.8L253.3 870.2L251.8 871.5L250.2 872.8L248.7 874.1L247.2 875.5L245.7 876.8L244.2 878.1L242.6 879.4L241.1 880.8L239.6 882.1L238.1 883.4L236.6 884.8L235 886.1L233.5 887.4L232 888.7L230.5 890.1L229 891.4L227.5 892.7L225.9 894L224.4 895.4L222.9 896.7L221.4 898L219.9 899.3L218.4 900.7L216.9 902L215.4 903.3L213.9 904.6L212.4 905.9L210.9 907.2L209.4 908.6L207.9 909.9L206.4 911.2L204.9 912.5L203.4 913.8L201.9 915.1L200.5 916.4L199 917.7L197.5 919L196 920.3L194.5 921.6L193.1 922.9L191.6 924.2L190.1 925.5L188.7 926.8L187.2 928.1L185.7 929.3L184.3 930.6L182.8 931.9L181.4 933.2L179.9 934.4L178.5 935.7L177.1 937L175.6 938.3L174.2 939.5L172.7 940.8L171.2 942.1L169.7 943.4L168.2 944.8L166.7 946.2L165.2 947.7L163.8 949.3L162.5 950.9L161.5 952.5L160.9 953.9L160.7 955.2L161.1 956.3L162.1 957.1L163.5 957.6L165.3 957.9L167.3 957.8L169.3 957.5L171.4 956.9L173.6 956.2L175.7 955.4L177.7 954.6L179.7 953.7L181.6 952.7L183.4 951.8L185.2 950.8L187 949.8L188.7 948.7L190.4 947.7L192 946.6L193.7 945.5L195.3 944.4L196.9 943.3L198.5 942.2L200.1 941L201.7 939.9L203.3 938.8L204.9 937.6L206.6 936.5L208.2 935.4L209.8 934.3L211.5 933.1L213.1 932L214.8 930.9L216.5 929.8L218.2 928.7L219.8 927.6L221.5 926.5L223.2 925.4L224.9 924.3L226.6 923.2L228.4 922.2L230.1 921.1L231.8 920L233.5 918.9L235.2 917.9L237 916.8L238.7 915.8L240.4 914.7L242.2 913.7L243.9 912.7L245.7 911.7L247.4 910.6L249.1 909.6L250.9 908.6L252.6 907.7L254.4 906.7L256.2 905.7L257.9 904.7L259.7 903.8L261.5 902.8L263.2 901.9L265 900.9L266.8 900L268.6 899.1L270.4 898.2L272.2 897.3L274 896.4L275.8 895.6L277.6 894.7L279.4 893.9L281.2 893L283 892.2L284.9 891.4L286.7 890.6L288.5 889.8L290.4 889L292.2 888.3L294.1 887.5L295.9 886.8L297.8 886L299.6 885.3L301.5 884.6L303.4 884L305.3 883.3L307.2 882.6L309.1 882L311 881.4L312.9 880.8L314.8 880.2L316.7 879.6L318.7 879.1L320.6 878.5L322.5 878L324.5 877.5L326.5 877L328.4 876.5L330.4 876.1L332.4 875.7L334.3 875.3L336.3 875L338.3 874.7L340.3 874.4L342.3 874.2L344.3 874L346.3 873.8L348.3 873.7L350.3 873.6L352.3 873.6L354.4 873.6L356.4 873.6L358.4 873.7L360.4 873.7L362.4 873.7L364.4 873.6L366.4 873.5L368.4 873.4L370.3 873.1L372.3 872.8L374.3 872.4L376.2 872L378.1 871.5L380.1 870.9L382 870.3L383.9 869.6L385.8 868.9L387.7 868.2L389.6 867.5L391.5 866.8L393.4 866L395.3 865.3L397.2 864.6L399.1 863.9L400.9 863.2L402.8 862.6L404.7 862L406.6 861.6L408.6 861.3L410.6 861.2L412.6 861.3" fill="none" stroke="#364a84" stroke-width="2.2" stroke-linejoin="round"/>
<path d="M412.7 760.9L410.9 761.4L409.1 762L407.3 762.6L405.5 763.4L403.8 764.2L402.1 765.2L400.5 766.2L398.8 767.2L397.2 768.3L395.6 769.5L394 770.7L392.4 772L390.9 773.2L389.3 774.6L387.8 775.9L386.2 777.2L384.7 778.6L383.1 779.9L381.5 781.2L380 782.5L378.4 783.9L376.8 785.2L375.2 786.5L373.6 787.7L372 789L370.4 790.3L368.8 791.5L367.2 792.8L365.6 794L364 795.3L362.4 796.5L360.8 797.7L359.2 799L357.6 800.2L356 801.4L354.4 802.7L352.8 803.9L351.2 805.1L349.6 806.3L348 807.6L346.4 808.8L344.8 810L343.3 811.3L341.7 812.5L340.1 813.8L338.6 815L337 816.3L335.5 817.6L334 818.8L332.5 820.1L331 821.4L329.5 822.7L328 824L326.5 825.4L325.1 826.7L323.6 828.1L322.2 829.4L320.7 830.8L319.2 832.2L317.8 833.7L316.3 835.1L314.8 836.6L313.3 838L311.9 839.5L310.3 841.1L308.8 842.6L307.3 844.2L305.7 845.8L304.2 847.4L302.6 849.1L301.2 850.7L300.2 852.2L299.8 853.5L300.2 854.6L301.4 855.5L303 856L304.7 856.4L306.5 856.6L308.4 856.6L310.3 856.4L312.2 856.1L314.2 855.7L316.3 855.1L318.3 854.5L320.4 853.8L322.5 853L324.5 852.2L326.6 851.4L328.6 850.6L330.6 849.9L332.5 849.1L334.4 848.3L336.4 847.6L338.2 846.8L340.1 846.1L341.9 845.4L343.8 844.6L345.6 843.9L347.4 843.2L349.2 842.5L351 841.8L352.9 841.2L354.7 840.5L356.5 839.8L358.3 839.1L360.1 838.5L362 837.8L363.8 837.2L365.7 836.5L367.6 835.8L369.5 835.2L371.5 834.5L373.4 833.9L375.4 833.3L377.3 832.7L379.3 832L381.3 831.4L383.2 830.9L385.2 830.3L387.2 829.7L389.2 829.2L391.2 828.6L393.2 828.1L395.1 827.6L397.1 827.1L399.1 826.7L401 826.2L403 825.8L404.9 825.4L406.8 825L408.7 824.6L410.6 824.3L412.5 824" fill="none" stroke="#364a84" stroke-width="2.2" stroke-linejoin="round"/>
</g>
<path d="M482 1003.2v-5M482 693.8v5M561 1003.2v-5M561 693.8v5M640 1003.2v-5M640 693.8v5M407.2 794.2h5M719 794.2h-5M407.2 898.5h5M719 898.5h-5" stroke="#a6a6a6" stroke-width="1.7"/>
<g clip-path="url(#Lclip21)">
<g filter="url(#bl)"><path d="M664.2 741.2 658.2 739.2 651.2 739.2 640.2 741.8 621.8 748.8 598.8 760.8 500.2 821.8 463.8 847.8 446.8 864.8 442.8 871.8 441.8 878.8 443.8 885.8 452.2 895.8 457.2 898.8 472.8 903.8 494.2 904.8 500.8 909.2 501.8 918.2 499.8 941.2 501.2 950.8 506.2 960.8 516.2 969.2 525.8 972.2 534.2 972.8 545.2 970.8 558.2 964.8 570.8 956.8 581.8 946.8 605.2 916.8 625.2 883.2 644.8 845.8 660.2 809.2 669.8 782.8 673.2 768.8 673.2 756.2 670.2 748.2Z" fill="#fdfdfe" fill-rule="evenodd"/><path d="M662.2 743.2 650.8 741.2 635.2 744.8 618.2 751.8 596.8 763.2 539.8 797.8 497.8 825.2 465.8 849.2 451.2 865.2 448.8 870.8 449.2 878.8 451.8 884.2 458.2 890.8 471.8 895.8 496.2 897.2 503.8 901.2 509.2 907.2 510.8 910.8 510.8 921.8 508.8 934.2 508.8 947.2 511.8 955.2 520.2 962.8 531.8 965.2 539.8 964.2 563.8 952.2 579.2 941.2 588.2 932.8 609.2 904.8 625.2 878.2 644.2 842.2 658.8 808.2 667.2 783.8 670.8 769.8 671.2 760.8 668.2 750.2Z" fill="#fafcfd" fill-rule="evenodd"/><path d="M661.2 744.8 655.2 742.8 649.2 742.8 635.2 745.8 620.2 751.8 593.2 766.2 543.8 796.2 500.2 824.8 472.2 845.8 455.2 863.2 452.8 868.2 452.2 874.8 454.8 881.8 458.8 886.2 472.2 891.8 498.2 893.8 506.2 898.2 513.2 905.8 515.2 910.2 515.2 922.8 512.8 946.2 515.2 953.2 522.2 959.2 529.8 961.2 537.2 960.8 559.2 950.2 582.2 933.8 597.8 917.2 609.2 901.2 629.2 867.8 646.2 834.8 662.8 793.2 668.8 771.8 669.2 758.8 666.8 751.2Z" fill="#f7f9fc" fill-rule="evenodd"/><path d="M660.8 746.8 652.8 744.2 635.8 746.8 616.2 754.8 597.8 764.8 543.2 797.8 503.8 823.8 473.8 846.8 459.2 861.8 456.2 868.2 455.8 873.2 457.2 878.8 461.8 883.8 474.2 888.2 491.2 888.8 500.8 890.8 509.8 896.2 516.2 903.2 519.8 913.8 517.8 932.8 517.8 942.2 519.8 944.8 528.2 949.2 540.8 952.2 545.2 952.2 552.8 949.2 579.2 931.2 597.8 912.8 607.8 899.8 634.8 854.2 648.2 826.8 658.8 800.2 664.8 781.2 667.8 765.2 666.2 754.8Z" fill="#f4f7fb" fill-rule="evenodd"/><path d="M663.2 752.2 660.8 748.8 654.2 745.8 644.8 745.8 631.2 749.2 610.2 758.8 563.2 786.2 511.2 819.8 475.2 847.2 461.8 861.8 458.8 869.2 459.8 877.8 462.8 881.2 469.2 884.2 498.2 887.2 512.8 895.2 520.8 905.8 522.2 910.2 522.2 928.2 526.8 932.8 537.8 937.8 555.2 941.2 559.8 940.8 565.2 937.8 581.2 925.8 603.2 902.8 618.8 879.8 636.2 848.8 654.2 809.2 663.8 780.2 666.2 760.8Z" fill="#f1f5fa" fill-rule="evenodd"/><path d="M662.2 753.2 657.8 748.2 653.2 746.8 644.2 746.8 635.2 748.8 612.8 758.2 566.2 785.2 514.8 818.2 475.2 848.8 463.2 863.2 461.2 869.8 462.8 876.2 466.8 880.2 472.8 882.8 496.2 884.8 510.8 891.2 522.2 903.8 525.8 918.8 537.2 926.2 562.8 932.2 567.8 932.2 572.8 929.8 595.2 908.8 607.2 894.8 633.8 851.2 652.8 810.2 662.8 780.2 664.8 770.2 664.8 759.8Z" fill="#ebf1f8" fill-rule="evenodd"/><path d="M661.2 754.2 658.2 750.2 653.2 747.8 637.8 748.8 618.2 756.2 582.2 776.2 515.2 818.8 487.2 839.8 469.2 857.2 466.8 863.2 468.8 870.8 477.2 880.8 498.8 883.8 510.8 889.2 520.8 898.2 528.8 911.2 541.8 918.8 570.8 925.2 577.8 923.2 590.2 911.8 607.2 892.2 623.2 867.8 641.8 833.8 652.8 808.2 662.2 778.2 663.8 761.2Z" fill="#e6edf7" fill-rule="evenodd"/><path d="M659.8 754.2 655.8 749.8 651.2 748.2 643.8 748.2 634.8 750.2 607.8 762.2 571.8 783.2 519.2 816.8 483.8 843.8 473.2 855.2 472.8 859.2 474.8 866.8 485.2 879.8 498.8 882.2 509.2 886.8 517.2 892.2 526.2 901.2 546.2 912.8 577.8 919.2 581.2 917.8 595.8 903.8 611.8 883.8 627.8 858.2 643.2 828.8 655.2 799.2 661.2 779.2 662.8 762.8Z" fill="#e0e9f4" fill-rule="evenodd"/><path d="M657.2 752.8 652.2 749.2 645.2 748.8 624.2 754.8 599.8 767.2 550.2 797.2 513.8 821.2 486.8 842.2 478.2 851.8 480.2 863.8 491.8 878.2 511.2 886.2 519.2 891.8 532.2 897.2 548.2 906.8 577.8 913.2 584.2 912.2 596.8 900.8 611.8 881.8 630.2 852.2 642.2 829.2 653.2 802.8 660.8 777.2 661.8 764.2 660.2 757.8Z" fill="#dae5f2" fill-rule="evenodd"/><path d="M656.8 753.8 650.8 749.8 641.8 749.8 629.2 753.2 599.8 767.8 556.8 793.8 516.8 819.8 490.2 840.2 482.8 849.2 485.2 861.2 495.2 874.2 513.8 885.8 528.8 889.2 554.8 903.2 577.2 907.8 588.2 906.2 599.8 895.8 613.2 877.8 630.8 849.8 644.8 822.2 652.8 802.2 659.8 778.2 660.8 763.8Z" fill="#d3e1f0" fill-rule="evenodd"/><path d="M656.8 755.2 652.8 751.2 649.8 750.2 641.8 750.2 629.2 753.8 609.8 762.8 568.8 786.8 519.8 818.2 494.2 837.8 487.2 845.8 489.8 859.2 499.2 871.2 510.8 879.8 530.8 884.8 553.8 897.8 576.2 902.8 583.8 902.8 592.8 900.2 601.8 891.8 618.8 867.8 633.8 842.8 644.2 821.8 653.8 797.8 658.8 779.8 659.8 762.8Z" fill="#ceddee" fill-rule="evenodd"/><path d="M657.2 757.8 652.8 752.2 649.2 750.8 636.8 751.8 608.8 763.8 575.2 783.2 522.8 816.8 498.2 835.2 491.2 842.8 493.8 857.2 503.2 868.8 512.8 875.8 533.8 881.2 555.8 893.8 579.2 898.8 595.2 895.8 603.8 887.8 617.8 867.8 642.2 824.8 652.8 798.8 657.8 780.8 658.8 762.2Z" fill="#c8d9ec" fill-rule="evenodd"/><path d="M655.8 756.8 652.8 753.2 648.2 751.2 641.8 751.2 631.8 753.8 607.8 764.8 572.8 785.2 524.2 816.2 498.8 835.8 494.8 840.8 497.2 855.2 505.2 865.2 514.8 872.2 534.8 877.2 557.8 890.2 578.8 894.8 598.8 890.8 608.2 880.2 623.8 856.8 636.2 835.2 645.8 815.2 653.2 795.2 657.2 779.8 658.2 763.8Z" fill="#bfd4e9" fill-rule="evenodd"/><path d="M654.2 756.2 649.2 752.2 642.2 751.8 623.8 757.2 589.2 775.8 540.2 806.2 512.2 825.2 499.2 836.8 497.8 841.8 501.2 854.8 509.2 863.8 515.2 868.2 520.8 870.8 537.2 874.2 561.8 887.8 583.2 890.8 600.2 886.8 610.8 875.2 627.2 849.8 647.8 808.8 653.8 791.2 657.2 774.2 657.2 762.8Z" fill="#b8d1e7" fill-rule="evenodd"/><path d="M653.8 757.2 650.2 753.8 645.8 752.2 638.8 752.8 628.8 755.8 604.8 767.2 563.8 791.8 520.8 819.8 502.2 835.2 501.2 842.2 503.8 852.2 510.2 860.2 517.8 865.8 537.8 870.8 563.8 884.8 580.2 887.8 596.2 884.8 601.8 882.2 609.8 874.8 625.8 850.8 635.8 833.2 646.2 810.8 651.8 795.8 656.2 776.8 656.8 765.2Z" fill="#afcce4" fill-rule="evenodd"/><path d="M652.2 757.8 646.2 753.2 638.8 753.2 622.2 758.8 589.8 776.2 541.8 806.2 518.8 821.8 506.2 832.2 504.2 835.8 504.2 841.2 507.2 851.8 512.2 857.8 519.8 863.2 538.8 867.8 564.8 881.8 583.2 884.2 595.2 881.8 602.2 878.2 610.2 871.8 625.8 849.2 635.8 831.8 646.8 807.8 655.2 778.8 655.8 765.8Z" fill="#a6c8e1" fill-rule="evenodd"/><path d="M652.8 762.8 644.8 754.2 634.8 754.8 611.8 764.2 574.8 785.8 513.8 826.2 508.8 831.2 507.2 834.8 507.2 841.8 509.8 850.2 519.8 859.8 540.8 865.2 566.8 879.2 583.2 881.2 593.2 879.2 599.8 876.2 608.2 870.2 617.8 859.2 631.8 837.2 641.2 818.8 647.2 804.2 653.8 781.8 654.8 770.8Z" fill="#9ec4df" fill-rule="evenodd"/><path d="M649.8 763.2 641.8 755.2 631.8 756.2 609.8 765.8 576.2 785.2 534.2 812.2 513.8 827.2 510.8 831.8 509.8 836.2 512.2 848.8 522.8 858.2 540.8 862.2 566.2 876.2 581.8 878.8 591.8 876.8 599.2 873.2 605.8 868.8 618.2 855.2 629.2 839.2 638.8 821.8 648.2 798.2 652.8 781.2 652.8 770.8Z" fill="#98c1df" fill-rule="evenodd"/><path d="M648.2 765.8 638.8 756.2 630.2 757.2 607.8 767.2 580.2 783.2 518.8 824.2 514.8 828.2 512.2 839.2 514.8 847.8 524.8 856.2 542.8 860.2 568.8 874.2 580.8 876.2 591.2 874.2 602.8 867.8 618.2 851.2 637.2 821.2 644.8 803.2 650.8 782.2 651.2 776.8Z" fill="#90bede" fill-rule="evenodd"/><path d="M645.2 765.8 636.8 757.8 629.2 758.2 605.8 768.8 572.2 788.8 534.2 813.8 520.2 824.8 516.2 830.2 514.8 836.8 516.8 846.2 525.2 853.8 543.2 857.8 570.8 872.2 581.2 873.8 595.2 869.8 601.2 865.8 618.2 847.2 628.8 831.8 636.8 816.8 648.2 782.8 648.2 773.2Z" fill="#87b8db" fill-rule="evenodd"/><path d="M643.8 767.8 637.2 760.8 634.2 759.2 628.8 759.2 605.8 769.2 584.2 781.8 527.8 820.2 518.2 831.8 517.2 835.8 518.2 844.2 522.8 849.2 527.8 852.2 544.8 855.8 561.8 865.8 572.2 870.2 582.2 871.2 594.8 867.2 601.2 862.8 613.2 849.8 624.8 833.8 632.8 819.8 639.2 804.8 645.2 785.8 646.2 775.2Z" fill="#7fb1d8" fill-rule="evenodd"/><path d="M641.8 768.8 636.2 762.8 631.2 760.8 626.8 760.8 617.8 763.8 589.2 779.2 547.2 807.2 529.8 821.2 520.2 832.8 519.2 837.2 520.2 843.2 527.8 849.8 545.8 853.8 573.2 868.2 584.2 868.8 593.8 865.2 598.2 862.2 614.8 844.2 624.2 830.2 633.2 813.2 643.8 782.2 644.2 776.8Z" fill="#75a9d4" fill-rule="evenodd"/><path d="M639.8 769.8 633.8 763.8 623.2 762.8 602.2 772.2 566.8 794.8 531.2 822.8 522.8 832.2 521.8 835.2 522.8 843.2 529.8 848.2 547.8 852.2 572.2 865.8 583.2 866.8 595.2 861.8 613.2 842.8 629.2 816.8 634.8 804.2 641.8 781.8 641.8 774.8Z" fill="#6ba1d0" fill-rule="evenodd"/><path d="M637.8 770.2 631.8 765.2 621.2 764.8 611.8 768.2 589.8 780.2 572.2 792.2 536.2 820.8 525.2 832.2 523.8 835.2 524.2 841.8 530.2 846.2 548.2 850.2 574.2 864.2 583.2 864.8 592.2 861.2 602.2 852.8 612.2 840.8 626.2 818.2 633.8 801.2 639.8 781.8 639.8 774.8Z" fill="#649bcd" fill-rule="evenodd"/><path d="M637.2 772.8 631.2 766.8 621.2 766.2 608.2 770.8 591.8 779.8 573.8 792.8 531.2 827.8 525.8 835.2 526.2 841.2 534.2 845.8 549.2 848.8 575.2 862.8 582.2 863.2 589.8 860.8 595.8 856.8 607.8 843.8 624.8 817.8 636.8 786.8 638.2 780.8Z" fill="#5f96cb" fill-rule="evenodd"/><path d="M635.2 771.8 630.8 767.8 619.8 767.8 606.8 772.2 589.8 781.8 533.2 827.8 526.8 836.2 527.2 840.2 532.2 843.8 550.2 847.8 568.8 858.8 576.8 861.8 585.2 861.2 593.8 856.8 610.2 838.8 626.8 811.2 636.8 782.2 637.2 776.2Z" fill="#5990c7" fill-rule="evenodd"/><path d="M634.8 772.8 629.2 768.2 621.8 768.2 607.2 772.8 593.2 780.2 540.2 822.8 530.2 832.8 528.2 839.2 533.2 842.8 550.8 846.8 575.2 860.2 582.8 860.8 590.2 857.8 595.2 854.2 606.8 841.8 623.2 816.8 634.8 786.8 636.2 780.2Z" fill="#528ac4" fill-rule="evenodd"/><path d="M633.8 772.8 629.2 769.2 620.8 769.2 606.8 773.8 591.8 781.8 540.8 823.8 531.2 833.8 529.8 838.8 536.2 842.2 550.2 845.2 575.8 859.2 581.8 859.8 589.8 856.8 594.2 853.8 607.8 839.2 622.8 816.2 633.8 787.2 635.2 780.8 635.2 775.8Z" fill="#4d85c2" fill-rule="evenodd"/><path d="M633.2 773.8 627.8 769.8 619.8 770.2 604.8 775.2 590.2 783.2 541.8 824.8 531.8 836.2 532.2 838.8 550.2 843.8 577.2 858.2 583.2 858.2 590.8 854.8 606.2 839.8 622.2 815.8 632.2 789.8 634.2 781.2Z" fill="#4880be" fill-rule="evenodd"/><path d="M632.2 774.2 627.2 770.8 619.2 771.2 605.2 775.8 591.2 783.2 574.8 796.2 547.2 821.8 536.8 832.8 534.8 836.8 536.2 838.2 551.2 842.2 577.8 856.8 584.8 856.2 591.2 852.8 606.2 838.2 621.2 816.2 631.2 790.2 633.2 781.2Z" fill="#447abb" fill-rule="evenodd"/><path d="M631.8 775.8 628.2 772.2 619.8 772.2 605.8 776.2 591.2 783.8 575.8 796.2 542.8 829.2 538.8 835.8 552.8 840.8 577.8 854.8 583.2 854.8 589.8 851.8 605.2 837.8 621.2 814.8 629.8 792.2 632.2 780.8Z" fill="#4175b7" fill-rule="evenodd"/><path d="M629.8 775.2 626.8 773.2 611.2 775.2 602.8 778.2 587.8 786.8 569.8 803.2 545.8 829.8 543.8 834.8 555.8 839.8 578.2 852.8 582.8 852.8 591.8 848.2 606.2 834.8 619.2 816.8 627.2 797.8 630.8 781.8Z" fill="#3d71b5" fill-rule="evenodd"/><path d="M628.8 776.8 626.2 774.8 611.8 776.2 598.8 780.8 589.2 786.2 570.2 804.2 551.8 826.8 548.2 833.2 577.8 850.2 583.2 850.2 591.8 845.8 606.8 832.2 620.2 813.2 627.8 791.2Z" fill="#3a6cb1" fill-rule="evenodd"/><path d="M627.2 777.8 624.8 776.2 607.8 778.2 598.2 781.8 586.8 788.8 571.8 804.2 553.8 829.2 553.2 832.2 578.2 847.8 582.8 847.8 592.2 842.8 607.2 829.8 618.2 814.8 625.8 794.8Z" fill="#3667ae" fill-rule="evenodd"/><path d="M625.2 779.2 615.2 778.2 606.2 779.8 597.8 782.8 587.8 788.8 572.2 805.8 558.2 828.2 557.8 831.2 569.2 839.8 579.8 845.2 587.8 842.8 598.2 835.8 610.8 823.8 619.2 810.8 624.2 795.8Z" fill="#3363aa" fill-rule="evenodd"/><path d="M623.2 780.8 610.2 780.2 603.2 781.8 591.8 786.8 586.2 790.8 573.8 806.2 562.2 828.8 562.8 831.2 578.8 841.8 582.2 841.8 590.2 838.2 603.2 829.2 613.8 817.8 619.8 806.8 623.2 793.2Z" fill="#305ea5" fill-rule="evenodd"/><path d="M621.8 783.8 617.8 781.8 605.8 782.2 597.2 784.8 586.8 791.2 581.2 797.2 574.8 807.8 567.2 827.2 567.8 831.2 580.8 838.8 595.8 832.2 605.2 825.2 613.2 816.2 619.2 804.8 621.2 797.2Z" fill="#2c59a0" fill-rule="evenodd"/><path d="M618.2 784.2 609.2 783.2 597.2 785.8 591.2 788.8 583.2 796.2 577.2 806.8 574.2 815.2 571.8 829.2 573.8 831.8 578.8 834.8 588.2 832.8 600.2 826.8 611.2 816.8 616.2 808.8 619.2 799.8 619.8 785.8Z" fill="#29549b" fill-rule="evenodd"/><path d="M616.2 786.2 600.2 785.8 592.8 788.8 585.8 794.8 580.8 802.8 577.8 812.2 576.8 828.8 578.2 830.2 582.2 830.8 594.2 827.2 601.8 823.2 609.8 816.2 613.8 810.8 617.2 801.8 618.2 790.8Z" fill="#264f97" fill-rule="evenodd"/><path d="M615.2 788.8 609.2 786.8 601.2 786.8 593.8 789.2 586.2 795.8 580.8 809.2 580.2 816.8 582.2 825.8 585.8 826.2 595.8 823.8 604.8 818.8 610.2 813.2 615.8 801.2Z" fill="#234a92" fill-rule="evenodd"/><path d="M612.8 790.2 606.2 788.2 600.2 788.2 593.2 790.8 587.2 796.2 583.2 807.2 583.8 815.8 585.8 821.2 592.2 821.8 598.8 819.8 609.2 811.8 614.2 800.2 614.2 792.8Z" fill="#21468e" fill-rule="evenodd"/><path d="M610.8 792.2 604.2 789.8 599.8 789.8 593.8 791.8 588.8 796.2 585.8 803.8 585.8 809.8 589.2 817.8 598.2 817.2 608.2 810.2 612.2 800.8 612.2 794.8Z" fill="#1f428a" fill-rule="evenodd"/><path d="M606.8 792.8 597.2 791.8 590.2 796.8 587.8 804.2 589.2 810.8 592.2 814.2 600.2 813.8 607.2 808.2 609.8 802.8 610.2 797.2Z" fill="#1c3e85" fill-rule="evenodd"/><path d="M604.8 794.8 600.8 793.2 596.8 793.8 591.2 798.2 590.2 804.8 594.2 810.8 600.2 810.8 606.8 804.8 607.8 798.8Z" fill="#1a3980" fill-rule="evenodd"/><path d="M597.8 795.8 594.2 797.8 593.2 803.8 595.8 806.8 599.8 807.2 603.2 804.8 604.2 799.2 602.2 796.8Z" fill="#18357c" fill-rule="evenodd"/></g>
<path d="M414 897.3L414 895.5L414.2 893.7L414.8 891.9L415.6 890.1L416.6 888.3L417.8 886.5L419 884.8L420.4 883.1L421.9 881.5L423.3 879.9L424.8 878.4L426.2 876.9L427.7 875.4L429.2 874L430.6 872.6L432.1 871.2L433.6 869.9L435.1 868.5L436.7 867.3L438.2 866L439.7 864.7L441.2 863.5L442.8 862.3L444.3 861L445.9 859.8L447.5 858.6L449.1 857.4L450.7 856.3L452.3 855.1L453.9 853.9L455.5 852.7L457.1 851.6L458.7 850.4L460.3 849.3L462 848.2L463.6 847L465.3 845.9L466.9 844.8L468.6 843.7L470.2 842.5L471.9 841.4L473.6 840.3L475.2 839.2L476.9 838.1L478.6 837L480.3 835.9L482 834.8L483.6 833.7L485.3 832.6L487 831.5L488.7 830.5L490.4 829.4L492.1 828.3L493.8 827.2L495.5 826.1L497.2 825L498.9 823.9L500.6 822.8L502.3 821.7L504 820.7L505.7 819.6L507.4 818.5L509.1 817.4L510.8 816.3L512.5 815.2L514.2 814.1L515.9 813.1L517.6 812L519.3 810.9L521 809.8L522.7 808.7L524.4 807.7L526.1 806.6L527.8 805.5L529.5 804.4L531.2 803.4L532.9 802.3L534.6 801.2L536.3 800.2L538 799.1L539.7 798L541.4 797L543.1 795.9L544.9 794.8L546.6 793.8L548.3 792.7L550 791.7L551.7 790.6L553.4 789.6L555.1 788.5L556.8 787.5L558.5 786.4L560.3 785.4L562 784.3L563.7 783.3L565.4 782.3L567.1 781.2L568.8 780.2L570.5 779.2L572.2 778.1L574 777.1L575.7 776.1L577.4 775.1L579.1 774L580.8 773L582.5 772L584.2 771L585.9 770L587.7 769L589.4 768L591.1 767L592.8 766L594.5 765L596.2 764L597.9 763L599.7 762L601.4 761L603.1 760.1L604.8 759.1L606.6 758.1L608.3 757.2L610.1 756.3L611.8 755.3L613.6 754.4L615.4 753.5L617.2 752.6L619 751.7L620.8 750.8L622.6 750L624.5 749.1L626.3 748.3L628.2 747.5L630.1 746.6L632 745.9L633.9 745.1L635.9 744.3L637.9 743.6L639.9 742.9L641.9 742.2L643.9 741.5L646 740.9L648.1 740.2L650.1 739.7L652.2 739.3L654.2 738.9L656.2 738.7L658.2 738.7L660 738.8L661.8 739.2L663.5 739.8L665.1 740.6L666.5 741.7L667.9 743L669.1 744.5L670.1 746.1L671.1 747.9L671.9 749.7L672.6 751.5L673.1 753.4L673.5 755.3L673.8 757.2L673.9 759.1L674 761.1L673.9 763L673.7 764.9L673.5 766.9L673.1 768.8L672.7 770.8L672.2 772.7L671.7 774.7L671.1 776.7L670.5 778.6L669.8 780.6L669.1 782.5L668.4 784.5L667.6 786.4L666.9 788.4L666.1 790.3L665.4 792.2L664.6 794.2L663.9 796.1L663.2 798L662.4 799.9L661.7 801.8L661 803.7L660.3 805.6L659.5 807.5L658.8 809.4L658.1 811.2L657.4 813.1L656.6 815L655.9 816.8L655.2 818.7L654.5 820.5L653.7 822.4L653 824.2L652.2 826.1L651.5 827.9L650.7 829.7L650 831.6L649.2 833.4L648.4 835.2L647.6 837L646.8 838.8L646 840.7L645.2 842.5L644.4 844.3L643.6 846.1L642.8 847.9L641.9 849.7L641.1 851.5L640.2 853.3L639.4 855.1L638.5 856.9L637.7 858.7L636.8 860.5L635.9 862.3L635 864.1L634.1 865.8L633.2 867.6L632.3 869.4L631.4 871.2L630.5 873L629.6 874.8L628.7 876.6L627.7 878.3L626.8 880.1L625.9 881.9L625 883.7L624 885.5L623.1 887.3L622.1 889L621.2 890.8L620.3 892.6L619.3 894.4L618.4 896.2L617.4 898L616.5 899.8L615.5 901.6L614.6 903.3L613.6 905.1L612.7 906.9L611.7 908.7L610.8 910.5L609.8 912.3L608.8 914.1L607.9 915.9L606.9 917.7L606 919.5L605 921.3L604 923.1L603 924.8L602.1 926.6L601.1 928.4L600.1 930.2L599.1 931.9L598 933.7L597 935.4L596 937.1L594.9 938.9L593.9 940.6L592.8 942.3L591.7 944L590.6 945.6L589.5 947.3L588.4 948.9L587.2 950.6L586 952.2L584.9 953.8L583.7 955.4L582.4 957L581.2 958.5L579.9 960L578.7 961.6L577.4 963L576 964.5L574.7 966L573.3 967.4L571.9 968.8L570.5 970.2L569.1 971.5L567.6 972.9L566.1 974.2L564.6 975.5L563 976.7L561.5 977.9L559.9 979.1L558.2 980.3L556.5 981.4L554.9 982.5L553.1 983.6L551.4 984.7L549.6 985.7L547.9 986.6L546.1 987.6L544.2 988.5L542.4 989.4L540.5 990.2L538.7 991L536.8 991.7L534.9 992.5L533 993.1L531 993.8L529.1 994.4L527.2 994.9L525.2 995.4L523.3 995.9L521.3 996.3L519.3 996.6L517.3 997L515.4 997.2L513.4 997.5L511.4 997.6L509.4 997.8L507.5 997.8L505.5 997.9L503.5 997.8L501.5 997.7L499.6 997.6L497.6 997.4L495.7 997.2L493.8 996.9L491.8 996.5L489.9 996.1L488 995.6L486.1 995L484.3 994.4L482.4 993.8L480.6 993.1L478.7 992.3L476.9 991.4L475.2 990.5L473.4 989.5L471.7 988.5L469.9 987.4L468.3 986.2L466.6 984.9L465.1 983.6L463.6 982.2L462.1 980.8L460.8 979.2L459.5 977.6L458.4 975.9L457.3 974.2L456.4 972.4L455.6 970.5L454.9 968.6L454.4 966.6L453.9 964.7L453.6 962.6L453.5 960.6L453.4 958.6L453.5 956.6L453.8 954.6L454.2 952.7L454.7 950.7L455.3 948.8L456 946.9L456.8 945L457.6 943.1L458.5 941.3L459.4 939.4L460.4 937.6L461.3 935.7L462.2 933.9L463.1 932.1L463.9 930.3L464.6 928.4L465.2 926.6L465.8 924.7L466.2 922.9L466.5 921L466.6 919.1L466.6 917.3L466.3 915.5L465.7 913.8L464.8 912.3L463.6 911.1L462.1 910L460.5 909.2L458.8 908.6L456.8 908.2L454.8 908L452.7 907.9L450.5 907.9L448.3 908.1L446 908.3L443.7 908.5L441.5 908.8L439.2 909.1L437 909.4L434.9 909.6L432.8 909.7L430.7 909.8L428.8 909.7L426.8 909.5L425 909.1L423.2 908.6L421.5 907.8L420 906.9L418.5 905.6L417.1 904.2L416 902.6L415 900.9L414.3 899.2L414 897.3Z" fill="none" stroke="#364a84" stroke-width="2.2" stroke-linejoin="round"/>
<path d="M460.2 874.1L460.1 872.4L460.4 870.6L461 868.8L461.8 867L462.9 865.1L464.1 863.3L465.5 861.6L466.9 859.9L468.4 858.2L469.9 856.6L471.4 855.1L472.9 853.7L474.5 852.4L476 851.1L477.6 849.8L479.2 848.6L480.8 847.4L482.4 846.2L484 845.1L485.6 844L487.2 842.9L488.8 841.8L490.4 840.7L492.1 839.5L493.7 838.4L495.3 837.3L497 836.2L498.6 835L500.2 833.9L501.9 832.8L503.5 831.6L505.2 830.5L506.8 829.3L508.5 828.2L510.1 827.1L511.8 825.9L513.4 824.8L515.1 823.6L516.8 822.5L518.4 821.4L520.1 820.2L521.8 819.1L523.5 818L525.1 816.9L526.8 815.7L528.5 814.6L530.2 813.5L531.9 812.4L533.6 811.3L535.3 810.2L537 809.1L538.7 808L540.4 806.9L542.1 805.9L543.8 804.8L545.5 803.7L547.2 802.6L548.9 801.6L550.6 800.5L552.3 799.5L554.1 798.4L555.8 797.3L557.5 796.3L559.2 795.2L560.9 794.2L562.6 793.2L564.4 792.1L566.1 791.1L567.8 790L569.5 789L571.3 788L573 787L574.7 785.9L576.5 784.9L578.2 783.9L579.9 782.9L581.6 781.9L583.4 780.9L585.1 779.9L586.8 778.9L588.6 777.9L590.3 776.9L592 775.9L593.7 774.9L595.5 773.9L597.2 772.9L598.9 771.9L600.7 770.9L602.4 769.9L604.1 768.9L605.8 768L607.6 767L609.3 766L611 765L612.8 764.1L614.5 763.1L616.3 762.2L618 761.2L619.8 760.3L621.7 759.4L623.5 758.5L625.4 757.6L627.3 756.8L629.2 756L631.2 755.1L633.2 754.4L635.3 753.7L637.3 753.1L639.4 752.6L641.5 752.3L643.6 752.2L645.6 752.3L647.6 752.7L649.5 753.3L651.1 754.2L652.5 755.2L653.6 756.4L654.5 757.8L655.1 759.4L655.6 761L655.8 762.8L655.9 764.7L655.9 766.6L655.7 768.7L655.5 770.7L655.2 772.8L654.8 774.9L654.4 776.9L654 779L653.5 781L653.1 783.1L652.6 785.1L652.1 787.1L651.5 789L651 791L650.4 793L649.8 794.9L649.2 796.9L648.5 798.8L647.8 800.7L647.2 802.6L646.5 804.5L645.7 806.4L645 808.3L644.3 810.1L643.5 812L642.7 813.8L641.9 815.7L641.1 817.5L640.3 819.3L639.4 821.2L638.6 823L637.7 824.8L636.8 826.6L635.9 828.4L635 830.1L634.1 831.9L633.2 833.7L632.2 835.5L631.3 837.2L630.3 839L629.4 840.7L628.4 842.5L627.5 844.2L626.5 846L625.5 847.7L624.5 849.4L623.5 851.2L622.5 852.9L621.5 854.7L620.5 856.4L619.5 858.1L618.5 859.8L617.5 861.6L616.5 863.3L615.5 865L614.4 866.8L613.4 868.5L612.4 870.2L611.4 871.9L610.4 873.7L609.4 875.4L608.3 877.1L607.3 878.8L606.3 880.6L605.2 882.3L604.2 884L603.1 885.7L602.1 887.4L601 889.1L600 890.8L598.9 892.5L597.8 894.2L596.7 895.9L595.6 897.5L594.5 899.2L593.4 900.9L592.3 902.5L591.2 904.2L590 905.8L588.9 907.5L587.7 909.1L586.5 910.7L585.3 912.3L584.1 914L582.9 915.5L581.7 917.1L580.4 918.7L579.2 920.3L577.9 921.8L576.6 923.4L575.3 924.9L574 926.4L572.7 928L571.3 929.5L570 931L568.6 932.4L567.2 933.9L565.8 935.4L564.3 936.8L562.9 938.2L561.4 939.6L559.9 941L558.4 942.4L556.8 943.8L555.3 945.1L553.7 946.5L552.1 947.8L550.5 949.1L548.8 950.4L547.2 951.7L545.5 952.9L543.8 954.1L542 955.2L540.3 956.1L538.5 957L536.8 957.8L535 958.4L533.2 958.8L531.5 959.1L529.7 959.2L527.9 959L526.1 958.6L524.3 958L522.6 957L520.9 955.9L519.4 954.6L518 953L516.9 951.4L516.2 949.6L515.8 947.8L515.8 945.9L516.1 943.9L516.6 942L517.2 940L517.9 938L518.5 936L519.2 934L519.9 932.1L520.7 930.1L521.4 928.1L522 926.1L522.7 924.2L523.3 922.2L523.8 920.2L524.3 918.3L524.7 916.3L525 914.4L525.2 912.5L525.3 910.6L525.3 908.7L525.1 906.8L524.8 904.9L524.4 903L523.8 901.1L523 899.3L522.1 897.5L521 895.7L519.8 894L518.5 892.4L517.1 890.8L515.6 889.3L514 887.9L512.4 886.6L510.6 885.3L508.9 884.2L507.1 883.3L505.2 882.4L503.4 881.8L501.5 881.2L499.7 880.8L497.8 880.6L495.9 880.4L494 880.4L492 880.4L490.1 880.5L488.1 880.6L486 880.8L484 881L481.9 881.2L479.7 881.4L477.5 881.6L475.3 881.7L473.1 881.7L471 881.6L469 881.4L467.1 881L465.3 880.5L463.8 879.7L462.4 878.6L461.4 877.3L460.6 875.8L460.2 874.1Z" fill="none" stroke="#364a84" stroke-width="2.2" stroke-linejoin="round"/>
<path d="M526.7 839.4L526.4 838L526.7 836.4L527.4 834.9L528.5 833.2L529.8 831.6L531.2 830L532.7 828.4L534.3 826.9L535.8 825.5L537.3 824.1L538.9 822.7L540.5 821.4L542 820.1L543.6 818.8L545.2 817.6L546.8 816.3L548.4 815.1L550 813.9L551.6 812.7L553.1 811.5L554.7 810.3L556.3 809L557.9 807.8L559.5 806.5L561 805.3L562.6 804L564.2 802.7L565.7 801.4L567.3 800.1L568.9 798.9L570.4 797.6L572 796.3L573.6 795L575.2 793.7L576.7 792.4L578.3 791.2L579.9 789.9L581.5 788.7L583.1 787.5L584.7 786.2L586.4 785.1L588 783.9L589.7 782.7L591.3 781.6L593 780.5L594.7 779.4L596.4 778.3L598.1 777.3L599.9 776.3L601.6 775.3L603.4 774.4L605.2 773.5L607.1 772.7L608.9 771.9L610.8 771.1L612.8 770.4L614.8 769.7L616.8 769.1L618.9 768.5L621 768L623.1 767.6L625.1 767.4L627.1 767.4L629 767.8L630.8 768.4L632.3 769.4L633.7 770.7L634.8 772.2L635.6 773.9L636.1 775.8L636.2 777.7L636.1 779.8L635.7 781.9L635.1 784L634.5 786.1L633.9 788.2L633.2 790.2L632.6 792.2L631.9 794.2L631.3 796.1L630.6 798L629.9 799.9L629.2 801.8L628.4 803.6L627.7 805.4L626.9 807.2L626.2 809L625.4 810.7L624.5 812.5L623.7 814.2L622.8 816L621.9 817.7L621 819.4L620.1 821.1L619.1 822.8L618.1 824.5L617.1 826.2L616 827.9L614.9 829.6L613.8 831.4L612.6 833.1L611.4 834.8L610.2 836.6L609 838.3L607.7 840.1L606.3 841.9L605 843.6L603.6 845.4L602.1 847.1L600.7 848.7L599.2 850.3L597.7 851.8L596.1 853.3L594.6 854.6L593 855.9L591.4 857L589.8 858.1L588.1 859L586.5 859.8L584.8 860.4L583.1 860.8L581.4 861.1L579.7 861.2L578 861.1L576.2 860.9L574.5 860.4L572.7 859.8L571 859.1L569.2 858.2L567.4 857.2L565.6 856.2L563.8 855.1L561.9 854L560.1 852.8L558.2 851.7L556.3 850.6L554.4 849.5L552.5 848.5L550.5 847.5L548.5 846.7L546.5 846L544.5 845.4L542.5 845L540.4 844.6L538.4 844.3L536.4 844L534.5 843.7L532.6 843.2L530.8 842.6L529.1 841.7L527.7 840.6L526.7 839.4Z" fill="none" stroke="#364a84" stroke-width="2.2" stroke-linejoin="round"/>
</g>
<rect x="95.4" y="74.7" width="311.8" height="309.6" fill="none" stroke="#a6a6a6" stroke-width="1.7" stroke-linejoin="round"/>
<rect x="95.4" y="384.3" width="311.8" height="309.5" fill="none" stroke="#a6a6a6" stroke-width="1.7" stroke-linejoin="round"/>
<rect x="407.2" y="384.3" width="311.8" height="309.5" fill="none" stroke="#a6a6a6" stroke-width="1.7" stroke-linejoin="round"/>
<rect x="95.4" y="693.8" width="311.8" height="309.4" fill="none" stroke="#a6a6a6" stroke-width="1.7" stroke-linejoin="round"/>
<rect x="407.2" y="693.8" width="311.8" height="309.4" fill="none" stroke="#a6a6a6" stroke-width="1.7" stroke-linejoin="round"/>
<rect x="719" y="693.8" width="312.3" height="309.4" fill="none" stroke="#a6a6a6" stroke-width="1.7" stroke-linejoin="round"/>
<rect x="1392.5" y="75.8" width="67" height="309.2" fill="#c9d2c9"/>
<g clip-path="url(#Rclip00)">
<path d="M1159.5 350.3L1162.6 349.7L1165.6 349L1168.7 348.4L1171.8 347.8L1174.8 347.2L1177.9 346.6L1180.9 346L1184 345.4L1187 344.8L1190.1 344.2L1193.2 343.7L1196.2 343.1L1199.3 342.6L1202.3 342L1205.4 341.5L1208.4 341L1211.5 340.5L1214.6 339.9L1217.6 339.4L1220.7 338.9L1223.7 338.4L1226.8 337.9L1229.8 337.4L1232.9 337L1236 336.5L1239 336L1242.1 335.5L1245.1 335.1L1248.2 334.6L1251.2 334.2L1254.3 333.8L1257.4 333.3L1260.4 332.9L1263.5 332.5L1266.5 332.2L1269.6 331.8L1272.6 331.4L1275.7 331.1L1278.8 330.7L1281.8 330.4L1284.9 330L1287.9 329.7L1291 329.4L1294 329.1L1297.1 328.8L1300.2 328.5L1303.2 328.2L1306.3 327.9L1309.3 327.6L1312.4 327.3L1315.4 327L1318.5 326.7L1321.6 326.5L1324.6 326.2L1327.7 326L1330.7 325.7L1333.8 325.4L1336.8 325.2L1339.9 324.9L1343 324.6L1346 324.4L1349.1 324.1L1352.1 324L1355.2 323.9L1358.2 323.8L1361.3 323.8L1364.4 323.8L1367.4 323.8L1370.5 323.9L1373.5 323.9L1376.6 323.9L1379.7 323.9L1382.7 324L1385.8 324L1388.8 324.1L1391.9 324.1L1394.9 324.1L1398 324.2L1401.1 324.2L1404.1 324.3L1407.2 324.3L1410.2 324.3L1413.3 324.4L1416.3 324.4L1419.4 324.4L1422.5 324.5L1425.5 324.5L1428.6 324.5L1431.6 324.6L1434.7 324.6L1437.7 324.6L1440.8 324.7L1443.9 324.7L1446.9 324.7L1450 324.8L1453 324.8L1456.1 324.8L1459.1 324.9L1462.2 324.9L1465.3 324.9L1468.3 325L1471.4 325" fill="none" stroke="#37593c" stroke-width="2.3" stroke-dasharray="11 3 2 3"/>
<path d="M1159.5 384.2L1161 384.2L1162.5 384.2L1164.1 384.2L1165.6 384.2L1167.1 384.2L1168.6 384.2L1170.1 384.2L1171.6 384.2L1173.1 384.2L1174.7 384.2L1176.2 384.2L1177.7 384.2L1179.2 384.2L1180.7 384.2L1182.2 384.2L1183.7 384.2L1185.3 384.2L1186.8 384.2L1188.3 384.2L1189.8 384.2L1191.3 384.2L1192.8 384.2L1194.3 384.2L1195.9 384.2L1197.4 384.2L1198.9 384.2L1200.4 384.1L1201.9 384.1L1203.4 384.1L1204.9 384L1206.5 384L1208 384L1209.5 383.9L1211 383.9L1212.5 383.8L1214 383.8L1215.5 383.8L1217 383.7L1218.6 383.7L1220.1 383.7L1221.6 383.6L1223.1 383.6L1224.6 383.5L1226.1 383.5L1227.6 383.5L1229.2 383.4L1230.7 383.4L1232.2 383.3L1233.7 383.3L1235.2 383.2L1236.7 383.2L1238.2 383.2L1239.8 383.1L1241.3 383L1242.8 383L1244.3 382.9L1245.8 382.9L1247.3 382.8L1248.8 382.8L1250.4 382.7L1251.9 382.6L1253.4 382.5L1254.9 382.5L1256.4 382.4L1257.9 382.3L1259.4 382.2L1260.9 382.1L1262.5 382L1264 381.9L1265.5 381.7L1267 381.6L1268.5 381.5L1270 381.3L1271.5 381.2L1273.1 381L1274.6 380.9L1276.1 380.7L1277.6 380.6L1279.1 380.4L1280.6 380.2L1282.1 380.1L1283.7 379.9L1285.2 379.7L1286.7 379.5L1288.2 379.3L1289.7 379.1L1291.2 378.9L1292.7 378.7L1294.3 378.4L1295.8 378.2L1297.3 377.9L1298.8 377.7L1300.3 377.4L1301.8 377.1L1303.3 376.8L1304.8 376.4L1306.4 376.1L1307.9 375.7L1309.4 375.3L1310.9 375L1312.4 374.6L1313.9 374.2L1315.4 373.8L1317 373.3L1318.5 372.9L1320 372.4L1321.5 372L1323 371.4L1324.5 370.9L1326 370.4L1327.6 369.8L1329.1 369.2L1330.6 368.6L1332.1 367.9L1333.6 367.2L1335.1 366.5L1336.6 365.7L1338.2 364.9L1339.7 364L1341.2 363.1L1342.7 362.2L1344.2 361.2L1345.7 360.2L1347.2 359.1L1348.8 358L1350.3 356.8L1351.8 355.5L1353.3 354.2L1354.8 352.9L1356.3 351.4L1357.8 349.9L1359.3 348.4L1360.9 346.7L1362.4 344.9L1363.9 343.1L1365.4 341.1L1366.9 339L1368.4 336.8L1369.9 334.4L1371.5 331.9L1373 329.3L1374.5 326.5L1376 323.6L1377.5 320.5L1379 317.3L1380.5 313.8L1382.1 310.2L1383.6 306.4L1385.1 302.5L1386.6 298.4L1388.1 294.2L1389.6 289.8L1391.1 285.2L1392.7 280.6L1394.2 275.8L1395.7 270.9L1397.2 265.9L1398.7 260.7L1400.2 255.5L1401.7 250.1L1403.2 244.7L1404.8 239.1L1406.3 233.5L1407.8 227.9L1409.3 222.2L1410.8 216.5L1412.3 210.8L1413.8 205.1L1415.4 199.4L1416.9 193.8L1418.4 188.2L1419.9 182.7L1421.4 177.4L1422.9 172.1L1424.4 166.9L1426 161.8L1427.5 156.8L1429 152L1430.5 147.3L1432 142.7L1433.5 138.3L1435 134L1436.6 129.9L1438.1 126L1439.6 122.2L1441.1 118.6L1442.6 115.2L1444.1 112L1445.6 109L1447.1 106.2L1448.7 103.6L1450.2 101.2L1451.7 99.1L1453.2 97.1L1454.7 95.4L1456.2 94L1457.7 92.8L1459.3 91.8L1460.8 91.2L1462.3 90.7L1463.8 90.6L1465.3 90.7L1466.8 91.2L1468.3 91.9L1469.9 92.9L1471.4 94.2" fill="none" stroke="#37593c" stroke-width="2.2" stroke-linejoin="round"/>
</g>
<path d="M1201.2 385v-5M1323.5 385v-5M1446.7 385v-5" stroke="#a6a6a6" stroke-width="1.7"/>
<rect x="1595.3" y="385" width="67.6" height="310.2" fill="#c9d2c9"/>
<g clip-path="url(#Rclip11)">
<path d="M1471.5 676.7L1474.6 676.6L1477.7 676.6L1480.7 676.5L1483.8 676.4L1486.8 676.4L1489.9 676.3L1492.9 676.3L1496 676.2L1499.1 676.1L1502.1 676.1L1505.2 676L1508.2 676L1511.3 675.9L1514.3 675.9L1517.4 675.8L1520.5 675.7L1523.5 675.7L1526.6 675.6L1529.6 675.6L1532.7 675.5L1535.8 675.5L1538.8 675.4L1541.9 675.3L1544.9 675.3L1548 675.2L1551 675.2L1554.1 675.1L1557.2 675.1L1560.2 675L1563.3 675L1566.3 674.9L1569.4 674.8L1572.4 674.8L1575.5 674.7L1578.6 674.7L1581.6 674.6L1584.7 674.6L1587.7 674.5L1590.8 674.5L1593.8 674.4L1596.9 674.4L1600 674.3L1603 674.2L1606.1 674.2L1609.1 674.1L1612.2 674.1L1615.2 674L1618.3 674L1621.4 673.9L1624.4 673.9L1627.5 673.8L1630.5 673.7L1633.6 673.7L1636.6 673.6L1639.7 673.6L1642.8 673.5L1645.8 673.5L1648.9 673.4L1651.9 673.4L1655 673.3L1658 673.3L1661.1 673.3L1664.2 673.2L1667.2 673.2L1670.3 673.1L1673.3 673.1L1676.4 673.1L1679.4 673L1682.5 673L1685.6 673L1688.6 672.9L1691.7 672.9L1694.7 672.9L1697.8 672.8L1700.8 672.8L1703.9 672.8L1707 672.7L1710 672.7L1713.1 672.7L1716.1 672.7L1719.2 672.6L1722.2 672.6L1725.3 672.6L1728.4 672.6L1731.4 672.5L1734.5 672.5L1737.5 672.5L1740.6 672.5L1743.7 672.4L1746.7 672.4L1749.8 672.4L1752.8 672.4L1755.9 672.3L1758.9 672.3L1762 672.3L1765.1 672.3L1768.1 672.3L1771.2 672.3L1774.2 672.2L1777.3 672.2L1780.3 672.2L1783.4 672.2" fill="none" stroke="#37593c" stroke-width="2.3" stroke-dasharray="11 3 2 3"/>
<path d="M1471.5 694.4L1473.1 694.4L1474.6 694.4L1476.1 694.4L1477.6 694.4L1479.1 694.4L1480.6 694.4L1482.1 694.4L1483.7 694.3L1485.2 694.2L1486.7 694.1L1488.2 693.9L1489.7 693.7L1491.2 693.5L1492.7 693.4L1494.3 693.2L1495.8 693L1497.3 692.8L1498.8 692.6L1500.3 692.3L1501.8 692.1L1503.3 691.9L1504.9 691.7L1506.4 691.5L1507.9 691.2L1509.4 691L1510.9 690.7L1512.4 690.4L1513.9 690L1515.4 689.6L1517 689.2L1518.5 688.8L1520 688.3L1521.5 687.8L1523 687.3L1524.5 686.7L1526 686L1527.6 685.3L1529.1 684.6L1530.6 683.7L1532.1 682.9L1533.6 681.9L1535.1 681L1536.6 679.9L1538.2 678.8L1539.7 677.6L1541.2 676.3L1542.7 675L1544.2 673.6L1545.7 672.1L1547.2 670.5L1548.8 668.9L1550.3 667.1L1551.8 665.3L1553.3 663.4L1554.8 661.4L1556.3 659.3L1557.8 657.1L1559.3 654.9L1560.9 652.5L1562.4 650L1563.9 647.3L1565.4 644.6L1566.9 641.6L1568.4 638.5L1569.9 635.1L1571.5 631.5L1573 627.6L1574.5 623.5L1576 619L1577.5 614.2L1579 609.1L1580.5 603.6L1582.1 597.8L1583.6 591.8L1585.1 585.4L1586.6 578.8L1588.1 572L1589.6 565.1L1591.1 557.9L1592.7 550.6L1594.2 543.2L1595.7 535.7L1597.2 528.2L1598.7 520.6L1600.2 513L1601.7 505.4L1603.2 497.9L1604.8 490.5L1606.3 483.2L1607.8 476L1609.3 469L1610.8 462.1L1612.3 455.5L1613.8 449.2L1615.4 443.1L1616.9 437.3L1618.4 431.9L1619.9 426.8L1621.4 422.1L1622.9 417.8L1624.4 414L1626 410.6L1627.5 407.7L1629 405.2L1630.5 403.3L1632 401.7L1633.5 400.7L1635 400.2L1636.6 400.1L1638.1 400.6L1639.6 401.5L1641.1 403L1642.6 405L1644.1 407.5L1645.6 410.6L1647.2 414.2L1648.7 418.4L1650.2 423.1L1651.7 428.3L1653.2 434.1L1654.7 440.3L1656.2 447.1L1657.7 454.5L1659.3 462.3L1660.8 470.6L1662.3 479.3L1663.8 488.2L1665.3 497.4L1666.8 506.7L1668.3 516.1L1669.9 525.4L1671.4 534.6L1672.9 543.7L1674.4 552.5L1675.9 561.2L1677.4 569.7L1678.9 578L1680.5 586.1L1682 593.9L1683.5 601.5L1685 608.8L1686.5 615.8L1688 622.5L1689.5 629L1691.1 635.1L1692.6 640.9L1694.1 646.3L1695.6 651.4L1697.1 656.1L1698.6 660.5L1700.1 664.6L1701.6 668.3L1703.2 671.7L1704.7 674.9L1706.2 677.7L1707.7 680.3L1709.2 682.6L1710.7 684.7L1712.2 686.5L1713.8 688.1L1715.3 689.2L1716.8 690.1L1718.3 690.8L1719.8 691.4L1721.3 691.9L1722.8 692.3L1724.4 692.6L1725.9 692.9L1727.4 693.2L1728.9 693.5L1730.4 693.7L1731.9 693.8L1733.4 693.9L1735 693.9L1736.5 694L1738 694L1739.5 694.1L1741 694.1L1742.5 694.2L1744 694.2L1745.5 694.3L1747.1 694.4L1748.6 694.4L1750.1 694.4L1751.6 694.4L1753.1 694.4L1754.6 694.4L1756.1 694.4L1757.7 694.4L1759.2 694.4L1760.7 694.4L1762.2 694.4L1763.7 694.4L1765.2 694.4L1766.7 694.4L1768.3 694.4L1769.8 694.4L1771.3 694.4L1772.8 694.4L1774.3 694.4L1775.8 694.4L1777.3 694.4L1778.9 694.4L1780.4 694.4L1781.9 694.4L1783.4 694.4" fill="none" stroke="#37593c" stroke-width="2.2" stroke-linejoin="round"/>
</g>
<path d="M1587 695.2v-5M1698.6 695.2v-5" stroke="#a6a6a6" stroke-width="1.7"/>
<rect x="1965.5" y="695.2" width="49.2" height="308.8" fill="#c9d2c9"/>
<g clip-path="url(#Rclip22)">
<path d="M1783.2 942.6L1786.2 942.8L1789.3 943.1L1792.3 943.3L1795.3 943.6L1798.4 943.8L1801.4 944.1L1804.4 944.3L1807.4 944.5L1810.5 944.8L1813.5 945L1816.5 945.3L1819.6 945.6L1822.6 945.8L1825.6 946.1L1828.7 946.3L1831.7 946.6L1834.7 946.9L1837.7 947.1L1840.8 947.4L1843.8 947.7L1846.8 947.9L1849.9 948.2L1852.9 948.5L1855.9 948.8L1859 949.1L1862 949.3L1865 949.6L1868.1 949.9L1871.1 950.2L1874.1 950.5L1877.1 950.8L1880.2 951L1883.2 951.3L1886.2 951.6L1889.3 951.9L1892.3 952.2L1895.3 952.5L1898.4 952.8L1901.4 953.1L1904.4 953.4L1907.4 953.7L1910.5 954L1913.5 954.3L1916.5 954.6L1919.6 954.9L1922.6 955.2L1925.6 955.5L1928.7 955.9L1931.7 956.2L1934.7 956.5L1937.7 956.8L1940.8 957.1L1943.8 957.4L1946.8 957.7L1949.9 958L1952.9 958.4L1955.9 958.7L1959 959L1962 959.4L1965 959.7L1968 960L1971.1 960.4L1974.1 960.7L1977.1 961.1L1980.2 961.5L1983.2 961.8L1986.2 962.2L1989.3 962.6L1992.3 962.9L1995.3 963.3L1998.3 963.7L2001.4 964L2004.4 964.4L2007.4 964.8L2010.5 965.1L2013.5 965.5L2016.5 965.9L2019.6 966.2L2022.6 966.6L2025.6 966.9L2028.6 967.3L2031.7 967.6L2034.7 968L2037.7 968.3L2040.8 968.6L2043.8 969L2046.8 969.3L2049.9 969.6L2052.9 969.9L2055.9 970.2L2058.9 970.6L2062 970.9L2065 971.2L2068 971.5L2071.1 971.8L2074.1 972.1L2077.1 972.4L2080.2 972.8L2083.2 973.1L2086.2 973.4L2089.3 973.7L2092.3 974L2095.3 974.3" fill="none" stroke="#37593c" stroke-width="2.3" stroke-dasharray="11 3 2 3"/>
<path d="M1783.2 1003.2L1784.7 1003.2L1786.2 1003.2L1787.7 1003.2L1789.2 1003.2L1790.7 1003.2L1792.3 1003.2L1793.8 1003.2L1795.3 1003.2L1796.8 1003.2L1798.3 1003.2L1799.8 1003.1L1801.3 1003.1L1802.8 1003L1804.3 1003L1805.8 1002.9L1807.3 1002.9L1808.8 1002.8L1810.3 1002.8L1811.9 1002.7L1813.4 1002.7L1814.9 1002.6L1816.4 1002.6L1817.9 1002.6L1819.4 1002.5L1820.9 1002.5L1822.4 1002.4L1823.9 1002.4L1825.4 1002.3L1826.9 1002.3L1828.4 1002.3L1829.9 1002.2L1831.5 1002.2L1833 1002.1L1834.5 1002.1L1836 1002L1837.5 1002L1839 1002L1840.5 1001.9L1842 1001.9L1843.5 1001.9L1845 1001.8L1846.5 1001.8L1848 1001.8L1849.5 1001.7L1851.1 1001.7L1852.6 1001.7L1854.1 1001.6L1855.6 1001.6L1857.1 1001.5L1858.6 1001.5L1860.1 1001.4L1861.6 1001.4L1863.1 1001.3L1864.6 1001.3L1866.1 1001.2L1867.6 1001.2L1869.1 1001.1L1870.7 1001L1872.2 1000.9L1873.7 1000.9L1875.2 1000.8L1876.7 1000.7L1878.2 1000.6L1879.7 1000.5L1881.2 1000.3L1882.7 1000.2L1884.2 1000L1885.7 999.9L1887.2 999.7L1888.7 999.5L1890.3 999.3L1891.8 999.1L1893.3 998.9L1894.8 998.6L1896.3 998.4L1897.8 998.1L1899.3 997.8L1900.8 997.5L1902.3 997.3L1903.8 997L1905.3 996.6L1906.8 996.3L1908.3 996L1909.9 995.6L1911.4 995.3L1912.9 994.8L1914.4 994.3L1915.9 993.8L1917.4 993.1L1918.9 992.4L1920.4 991.6L1921.9 990.6L1923.4 989.6L1924.9 988.4L1926.4 987L1928 985.5L1929.5 983.9L1931 982L1932.5 980L1934 977.7L1935.5 975.3L1937 972.6L1938.5 969.7L1940 966.5L1941.5 963.1L1943 959.4L1944.5 955.4L1946 951.2L1947.6 946.7L1949.1 941.9L1950.6 936.8L1952.1 931.5L1953.6 925.9L1955.1 920.1L1956.6 913.9L1958.1 907.5L1959.6 900.8L1961.1 893.9L1962.6 886.6L1964.1 879.1L1965.6 871.4L1967.2 863.3L1968.7 855.1L1970.2 846.6L1971.7 838L1973.2 829.3L1974.7 820.5L1976.2 811.7L1977.7 802.8L1979.2 794L1980.7 785.3L1982.2 776.6L1983.7 768.2L1985.2 759.9L1986.8 751.8L1988.3 744L1989.8 736.5L1991.3 729.4L1992.8 723.1L1994.3 717.6L1995.8 713.4L1997.3 710.6L1998.8 709.4L2000.3 709.9L2001.8 712.1L2003.3 715.8L2004.8 721L2006.4 727.7L2007.9 735.8L2009.4 745.1L2010.9 755.5L2012.4 766.9L2013.9 779.1L2015.4 792L2016.9 805.5L2018.4 819.4L2019.9 833.5L2021.4 847.8L2022.9 862.2L2024.4 876.3L2026 890.2L2027.5 903.7L2029 916.7L2030.5 929L2032 940.6L2033.5 951.2L2035 960.9L2036.5 969.6L2038 977.4L2039.5 984.1L2041 989.9L2042.5 994.7L2044 998.6L2045.6 1000.7L2047.1 1001.7L2048.6 1002.2L2050.1 1002.4L2051.6 1002.5L2053.1 1002.7L2054.6 1002.9L2056.1 1003L2057.6 1003L2059.1 1003L2060.6 1003.1L2062.1 1003.1L2063.6 1003.2L2065.2 1003.2L2066.7 1003.2L2068.2 1003.2L2069.7 1003.2L2071.2 1003.2L2072.7 1003.2L2074.2 1003.2L2075.7 1003.2L2077.2 1003.2L2078.7 1003.2L2080.2 1003.2L2081.7 1003.2L2083.2 1003.2L2084.8 1003.2L2086.3 1003.2L2087.8 1003.2L2089.3 1003.2L2090.8 1003.2L2092.3 1003.2L2093.8 1003.2L2095.3 1003.2" fill="none" stroke="#37593c" stroke-width="2.2" stroke-linejoin="round"/>
</g>
<path d="M1828.8 1004v-5M1918.6 1004v-5M2009.5 1004v-5" stroke="#a6a6a6" stroke-width="1.7"/>
<path d="M1201.2 695.2v-5M1201.2 385v5M1323.5 695.2v-5M1323.5 385v5M1446.7 695.2v-5M1446.7 385v5M1159.4 469.5h5M1471.4 469.5h-5M1159.4 580.2h5M1471.4 580.2h-5" stroke="#a6a6a6" stroke-width="1.7"/>
<g clip-path="url(#Rclip10)">
<g filter="url(#bl)"><path d="M1315.2 493.2 1300.8 516.2 1296.2 529.8 1294.2 542.8 1294.2 550.8 1297.2 564.2 1305.8 577.2 1313.8 584.8 1345.8 609.2 1377.8 624.2 1406.2 644.8 1429.8 657.2 1458.8 664.2 1500.8 664.2 1505.2 662.2 1508.8 658.8 1511.8 652.8 1513.8 643.2 1515.2 589.2 1515.2 485.2 1513.8 450.2 1510.8 438.8 1507.2 434.2 1465.8 434.2 1394.8 448.8 1345.2 470.8 1328.8 480.8Z" fill="#fcfefe" fill-rule="evenodd"/><path d="M1321.2 496.2 1311.2 510.2 1304.8 523.8 1301.2 537.8 1300.8 551.2 1303.2 561.8 1307.8 569.2 1325.2 585.8 1351.8 605.2 1377.8 618.2 1415.2 642.8 1434.8 652.2 1454.2 657.2 1470.8 658.2 1501.2 657.8 1509.2 651.8 1512.8 641.8 1513.2 601.8 1514.8 587.8 1514.8 486.2 1512.8 451.8 1509.8 443.2 1505.8 438.8 1502.2 437.2 1466.2 437.8 1437.8 442.2 1397.8 451.2 1349.8 473.8 1332.8 485.2Z" fill="#fafdfc" fill-rule="evenodd"/><path d="M1322.8 499.8 1314.2 511.8 1307.8 525.2 1305.2 533.8 1303.8 549.2 1306.2 560.2 1310.8 567.8 1331.8 586.8 1353.2 602.2 1379.2 615.2 1416.8 639.8 1436.2 649.2 1460.2 654.8 1502.2 654.2 1508.2 649.8 1511.8 642.8 1512.8 598.8 1514.2 589.2 1514.2 485.2 1512.8 475.8 1512.2 452.8 1509.2 445.8 1504.8 441.2 1501.2 439.8 1470.2 439.8 1431.8 445.2 1399.8 452.8 1348.8 478.2 1334.2 488.2Z" fill="#f6fbfa" fill-rule="evenodd"/><path d="M1324.8 502.2 1316.8 513.8 1310.2 527.2 1307.2 540.8 1307.2 552.2 1309.2 559.2 1313.2 565.8 1338.8 588.2 1355.2 599.8 1386.2 615.8 1418.8 637.2 1437.2 646.2 1461.8 651.8 1501.8 651.2 1507.8 647.2 1510.8 641.8 1512.2 594.2 1513.8 589.8 1513.8 484.8 1512.2 480.2 1511.8 454.8 1509.2 448.8 1504.8 444.2 1501.2 442.8 1470.2 442.8 1437.8 446.2 1408.8 452.2 1393.2 458.2 1350.8 480.8 1336.2 490.8Z" fill="#f3faf9" fill-rule="evenodd"/><path d="M1326.8 503.2 1317.2 517.2 1312.2 528.2 1309.2 541.8 1309.2 551.2 1310.8 557.2 1315.2 564.8 1339.8 586.2 1356.2 597.8 1388.8 614.8 1418.8 634.8 1440.8 645.2 1454.2 648.8 1465.8 649.8 1501.2 649.2 1508.8 643.8 1510.8 627.8 1511.8 594.2 1513.8 587.8 1513.8 486.8 1511.8 480.2 1510.8 454.2 1505.2 446.8 1499.8 444.8 1472.2 444.8 1432.8 448.8 1411.8 453.2 1398.2 458.2 1354.2 481.2 1339.2 491.2Z" fill="#eff8f7" fill-rule="evenodd"/><path d="M1327.8 504.8 1319.8 516.2 1314.2 527.8 1311.2 539.8 1310.8 549.8 1312.2 556.2 1316.2 563.2 1339.2 583.8 1358.8 597.2 1379.2 607.2 1421.2 634.2 1438.8 642.8 1459.2 647.8 1500.2 647.8 1503.8 646.8 1507.8 643.2 1510.2 623.2 1511.2 594.8 1513.2 589.2 1513.2 485.2 1511.2 479.8 1510.2 455.2 1506.2 449.2 1502.2 446.8 1468.2 446.8 1433.2 450.2 1412.2 454.8 1400.2 459.2 1353.2 483.8 1338.8 493.8Z" fill="#eaf6f4" fill-rule="evenodd"/><path d="M1328.8 505.8 1320.2 518.2 1315.2 529.2 1312.8 540.2 1312.8 551.2 1314.2 556.8 1318.2 563.2 1340.2 582.8 1356.2 594.2 1387.2 610.2 1422.2 633.2 1441.2 642.2 1454.2 645.8 1464.2 646.8 1501.2 646.2 1506.8 642.8 1509.2 625.8 1510.8 595.2 1513.2 588.2 1513.2 486.2 1510.8 479.2 1509.8 456.2 1505.2 449.8 1500.2 447.8 1471.2 447.8 1431.8 451.8 1411.8 456.2 1401.2 460.2 1354.2 484.8 1339.8 494.8Z" fill="#e6f4f1" fill-rule="evenodd"/><path d="M1330.2 505.8 1322.8 516.8 1317.8 527.2 1315.2 537.2 1315.2 545.2 1319.8 561.8 1340.2 581.2 1355.2 592.2 1387.8 609.2 1420.2 630.8 1443.2 641.8 1459.2 645.2 1500.8 645.2 1505.8 642.2 1508.8 622.2 1510.2 596.2 1512.8 589.2 1512.8 485.2 1510.2 478.2 1508.8 455.2 1505.8 451.2 1502.2 449.2 1467.8 449.2 1429.2 453.2 1412.2 457.2 1401.8 461.2 1352.2 487.2 1339.8 496.2Z" fill="#e1f2ee" fill-rule="evenodd"/><path d="M1330.8 507.2 1322.8 522.2 1321.2 529.2 1321.8 541.2 1327.8 567.2 1345.2 583.8 1359.8 593.8 1391.2 610.2 1422.2 630.8 1440.8 639.8 1459.8 644.2 1500.2 644.2 1504.8 641.8 1507.8 623.8 1510.2 592.8 1512.8 588.8 1512.8 485.8 1510.2 481.8 1508.2 456.2 1505.8 452.2 1502.2 450.2 1467.2 450.2 1432.2 453.8 1412.2 458.2 1400.8 462.8 1354.2 487.2 1340.2 497.2Z" fill="#ddf0eb" fill-rule="evenodd"/><path d="M1338.8 500.2 1333.8 506.2 1331.2 511.8 1328.2 526.8 1328.2 540.2 1334.8 571.2 1344.8 581.8 1361.8 593.8 1383.8 604.8 1420.8 628.8 1439.8 638.2 1460.8 643.2 1500.2 643.2 1503.8 641.2 1506.8 625.2 1509.8 593.2 1512.8 587.8 1512.8 486.8 1509.8 481.2 1507.8 457.2 1505.2 452.8 1501.2 450.8 1470.2 450.8 1434.8 454.2 1417.2 457.8 1401.8 463.2 1352.8 489.2Z" fill="#d8ede8" fill-rule="evenodd"/><path d="M1340.2 501.2 1334.2 526.2 1333.8 537.2 1340.2 569.8 1344.8 578.2 1352.2 585.8 1363.8 593.8 1389.8 607.2 1419.2 626.8 1438.2 636.2 1451.8 640.2 1466.2 642.2 1501.2 641.8 1502.8 640.2 1506.8 619.2 1509.2 593.2 1512.2 589.2 1512.2 485.2 1509.2 481.2 1506.8 456.2 1504.2 452.8 1502.2 451.8 1468.2 451.8 1433.2 455.2 1414.8 459.2 1398.2 465.8 1364.8 483.2 1348.8 493.2Z" fill="#d4ebe5" fill-rule="evenodd"/><path d="M1347.2 496.8 1344.8 501.2 1339.8 525.2 1339.2 538.8 1345.8 568.8 1351.8 579.2 1361.2 590.2 1389.8 606.2 1417.2 624.2 1431.2 631.2 1470.8 639.8 1498.8 639.8 1501.2 638.8 1505.8 620.8 1508.8 593.2 1512.2 588.8 1512.2 485.8 1508.8 481.2 1506.2 457.2 1503.8 453.2 1501.2 452.2 1470.2 452.2 1434.8 455.8 1417.2 459.2 1403.2 464.2 1357.2 488.8Z" fill="#cfe9e2" fill-rule="evenodd"/><path d="M1354.2 493.2 1348.2 507.2 1344.2 527.2 1344.2 539.8 1350.2 566.8 1355.2 575.8 1369.2 592.8 1411.8 619.2 1423.2 624.8 1468.8 634.8 1500.2 634.8 1501.8 633.2 1506.2 612.8 1508.2 593.2 1512.2 588.2 1512.2 486.2 1508.2 481.2 1505.8 458.8 1503.2 453.8 1472.2 452.8 1436.2 456.2 1416.2 460.2 1403.8 464.8 1365.8 484.8Z" fill="#c8e6dd" fill-rule="evenodd"/><path d="M1364.8 487.2 1356.8 497.2 1352.8 507.2 1348.8 527.2 1348.8 539.8 1354.8 565.8 1367.8 584.8 1377.8 594.8 1402.2 611.2 1416.2 617.8 1436.8 623.8 1468.8 630.2 1500.2 630.2 1503.8 622.2 1507.8 593.8 1512.2 587.2 1512.2 487.2 1507.8 480.8 1504.2 455.8 1501.8 453.8 1468.8 453.8 1425.2 458.8 1403.2 465.8Z" fill="#c2e4da" fill-rule="evenodd"/><path d="M1372.2 484.2 1363.8 494.2 1358.8 502.8 1352.8 528.2 1352.8 538.8 1356.8 558.8 1360.2 567.2 1370.2 581.2 1381.2 592.2 1391.8 600.2 1404.8 608.2 1420.2 614.8 1439.8 620.2 1469.8 626.2 1500.8 625.8 1503.8 618.2 1507.2 593.8 1511.8 588.8 1511.8 485.8 1507.2 480.8 1503.2 455.8 1500.8 454.2 1470.8 454.2 1426.2 459.2 1399.8 468.2Z" fill="#bbe2d5" fill-rule="evenodd"/><path d="M1380.2 481.2 1371.2 490.8 1363.2 502.2 1356.8 527.2 1356.8 539.8 1360.8 558.8 1365.8 568.8 1373.2 578.8 1383.8 589.2 1403.8 603.2 1419.2 610.2 1443.8 617.2 1468.8 622.2 1500.2 622.2 1503.8 614.2 1506.8 593.8 1511.8 588.2 1511.8 486.2 1506.8 480.8 1502.8 456.8 1501.2 455.2 1469.2 455.2 1428.8 459.8 1404.2 467.2Z" fill="#b4dfd1" fill-rule="evenodd"/><path d="M1386.2 480.8 1377.2 489.2 1367.8 501.8 1363.2 512.8 1360.2 527.8 1360.2 539.2 1363.8 556.2 1367.2 564.2 1376.2 576.8 1396.2 594.2 1407.8 601.2 1421.8 607.2 1442.2 613.2 1469.2 618.8 1500.8 618.2 1503.8 610.8 1506.2 593.8 1511.8 587.8 1511.8 486.8 1506.2 480.8 1501.8 457.8 1498.8 456.2 1473.2 456.2 1429.2 461.2 1405.2 468.8Z" fill="#adddcd" fill-rule="evenodd"/><path d="M1386.8 484.8 1378.2 493.2 1370.2 504.2 1366.8 512.8 1363.8 527.2 1363.8 539.8 1366.8 554.2 1369.8 561.8 1377.8 573.2 1397.2 590.8 1405.8 596.2 1424.8 604.8 1468.2 615.2 1500.2 615.2 1502.8 611.2 1505.8 593.8 1511.2 588.8 1511.8 487.8 1511.2 485.8 1505.8 480.8 1501.8 460.8 1500.2 459.2 1464.8 459.2 1429.2 464.2 1406.2 471.8Z" fill="#a8dbc9" fill-rule="evenodd"/><path d="M1388.2 487.8 1373.8 504.8 1369.8 513.8 1366.8 528.2 1366.8 538.8 1369.8 553.2 1373.2 561.2 1380.2 571.2 1391.2 582.2 1405.2 592.2 1427.2 602.2 1469.8 612.2 1500.8 611.8 1502.8 608.2 1505.2 593.8 1511.2 588.2 1511.2 486.2 1505.2 480.8 1501.2 463.2 1499.8 462.2 1466.2 462.2 1430.2 467.2 1409.8 473.8 1397.2 480.8Z" fill="#a0d7c4" fill-rule="evenodd"/><path d="M1388.8 491.2 1375.8 507.2 1369.8 528.2 1369.8 538.8 1372.8 552.8 1376.8 561.2 1383.8 570.8 1391.8 578.8 1408.8 590.8 1435.8 601.8 1469.8 609.2 1500.8 608.8 1502.8 605.2 1505.2 592.2 1511.2 587.8 1511.2 486.8 1504.8 480.8 1501.2 466.2 1499.8 465.2 1466.2 465.2 1432.8 469.8 1408.2 477.8Z" fill="#98d2bd" fill-rule="evenodd"/><path d="M1387.8 496.2 1382.2 502.8 1376.2 513.2 1372.8 527.2 1372.8 539.8 1377.8 557.2 1383.8 566.2 1392.8 575.8 1410.2 588.2 1422.8 594.2 1439.2 599.8 1468.8 606.2 1500.2 606.2 1501.8 604.8 1504.8 592.2 1510.2 589.2 1511.2 587.2 1511.2 487.2 1510.2 485.2 1504.8 482.2 1502.8 472.2 1500.2 468.2 1464.8 468.2 1432.2 472.8 1416.8 477.2 1406.8 481.8Z" fill="#91ceb7" fill-rule="evenodd"/><path d="M1388.8 499.2 1378.8 514.2 1375.2 528.8 1375.2 538.2 1377.8 550.2 1381.2 557.8 1395.8 574.8 1417.2 588.8 1442.2 597.8 1470.2 603.8 1499.8 603.8 1501.2 602.8 1504.2 592.2 1510.8 588.2 1511.2 505.8 1510.8 486.2 1504.2 482.2 1500.8 471.2 1466.8 470.8 1433.2 475.2 1419.2 479.2 1406.2 485.2Z" fill="#88c9b0" fill-rule="evenodd"/><path d="M1388.8 503.2 1382.8 511.8 1379.2 521.2 1377.8 529.8 1379.2 545.8 1381.8 553.2 1386.2 560.8 1405.2 578.8 1428.8 590.8 1450.8 597.2 1471.2 601.2 1498.8 601.2 1501.2 600.2 1503.8 592.2 1510.2 588.8 1510.8 486.8 1503.8 482.2 1501.2 474.2 1498.8 473.2 1467.8 473.2 1431.8 478.2 1418.8 482.2 1407.2 487.8 1396.8 495.2Z" fill="#80c4a9" fill-rule="evenodd"/><path d="M1390.8 504.8 1386.2 510.8 1381.2 523.8 1380.2 537.8 1381.8 545.8 1389.8 561.2 1406.8 576.8 1419.8 584.2 1433.2 589.8 1470.8 598.8 1499.2 598.8 1501.2 597.8 1505.2 590.2 1510.2 588.2 1510.8 487.2 1503.2 482.2 1500.8 476.2 1467.2 475.8 1433.8 480.2 1419.2 484.8 1408.8 489.8 1401.2 494.8Z" fill="#78c1a0" fill-rule="evenodd"/><path d="M1391.2 507.8 1386.8 514.8 1383.2 525.2 1382.8 538.8 1384.2 545.8 1391.2 559.2 1400.2 568.8 1408.8 575.2 1433.2 587.2 1469.8 596.2 1499.8 596.2 1504.2 590.2 1510.2 587.8 1510.8 490.2 1510.2 486.8 1504.2 484.2 1500.8 478.8 1465.8 478.2 1431.8 483.2 1409.2 492.2 1401.2 497.8Z" fill="#72be99" fill-rule="evenodd"/><path d="M1392.2 510.2 1387.8 518.2 1385.2 526.8 1386.2 544.8 1393.8 558.8 1403.8 568.8 1413.8 575.8 1426.8 582.2 1442.2 587.8 1468.2 593.8 1500.2 593.8 1504.2 589.8 1509.8 588.2 1509.8 486.2 1504.2 484.8 1500.2 480.8 1463.2 480.8 1436.8 484.2 1423.2 488.2 1411.2 493.8 1400.8 501.2Z" fill="#6bbb90" fill-rule="evenodd"/><path d="M1393.8 511.8 1389.8 518.8 1387.2 527.2 1388.2 544.2 1395.2 557.2 1405.8 567.8 1413.8 573.2 1436.2 583.8 1468.2 591.8 1500.8 591.8 1509.8 587.8 1510.2 488.2 1509.2 486.2 1500.8 482.8 1468.2 482.2 1439.2 485.8 1426.2 489.2 1412.8 495.2 1403.2 501.8Z" fill="#64b787" fill-rule="evenodd"/><path d="M1393.2 515.2 1389.8 523.2 1388.2 531.2 1390.8 546.8 1396.8 556.8 1406.2 566.2 1415.8 572.8 1427.2 578.8 1442.2 584.2 1470.8 590.8 1499.2 590.8 1509.8 587.2 1509.8 487.2 1500.2 483.8 1466.2 483.8 1436.2 487.8 1422.2 492.2 1408.2 499.8 1397.2 509.8Z" fill="#60b27e" fill-rule="evenodd"/><path d="M1394.2 515.8 1389.8 528.2 1389.8 538.8 1391.8 546.2 1397.8 556.2 1406.8 565.2 1415.2 571.2 1433.8 580.2 1467.8 589.2 1501.8 589.2 1509.2 587.2 1509.8 488.8 1508.8 486.8 1500.2 484.8 1464.8 484.8 1434.2 489.2 1411.8 498.8 1404.2 504.2Z" fill="#5cac75" fill-rule="evenodd"/><path d="M1395.2 516.2 1390.8 528.8 1390.8 537.8 1392.8 545.8 1398.8 555.8 1407.8 564.8 1417.2 571.2 1437.8 580.8 1467.8 588.2 1489.2 588.8 1508.8 586.8 1509.2 488.8 1508.2 487.2 1500.8 485.8 1467.8 485.2 1437.2 489.2 1424.8 493.2 1412.8 499.2 1405.8 504.2Z" fill="#57a66b" fill-rule="evenodd"/><path d="M1396.8 516.2 1392.8 525.8 1391.8 533.2 1394.2 545.8 1400.8 556.2 1407.8 563.2 1419.2 571.2 1442.2 581.2 1467.8 587.2 1507.8 586.2 1508.8 574.8 1508.8 489.8 1507.8 487.8 1465.2 486.2 1436.8 490.2 1414.8 499.2 1405.8 505.8Z" fill="#52a061" fill-rule="evenodd"/><path d="M1398.2 516.8 1393.8 529.2 1395.2 543.8 1403.8 557.2 1417.8 568.8 1438.2 578.8 1463.2 585.2 1486.8 586.2 1504.8 585.2 1506.8 583.8 1508.2 541.8 1507.8 491.2 1506.8 489.2 1469.2 486.8 1450.8 488.2 1436.2 491.2 1423.8 495.8 1410.2 503.8Z" fill="#4e9b59" fill-rule="evenodd"/><path d="M1400.2 517.2 1395.8 529.8 1397.2 543.2 1407.2 558.2 1420.8 568.8 1429.8 573.8 1445.8 579.8 1469.2 584.8 1496.2 583.8 1504.8 581.8 1506.8 545.2 1506.2 495.8 1504.8 490.8 1468.8 487.8 1453.8 488.8 1438.2 491.8 1426.8 495.8 1415.8 501.8 1409.8 506.2Z" fill="#4a9453" fill-rule="evenodd"/><path d="M1402.2 518.2 1398.2 529.2 1398.2 537.8 1400.8 545.2 1409.2 557.2 1424.2 568.8 1446.2 578.2 1467.8 582.8 1500.2 580.8 1502.2 579.2 1504.8 547.2 1504.8 508.8 1503.2 493.2 1475.2 489.2 1459.2 489.2 1445.2 491.2 1431.8 495.2 1419.8 501.2 1412.8 506.2Z" fill="#458e4f" fill-rule="evenodd"/><path d="M1405.2 518.2 1400.8 530.2 1402.2 541.8 1410.8 555.2 1424.2 566.2 1444.2 575.8 1464.2 580.2 1477.8 580.8 1499.2 577.2 1502.8 542.2 1501.8 497.8 1499.8 494.8 1474.8 490.8 1455.8 490.8 1444.2 492.8 1429.8 497.8 1413.8 508.2Z" fill="#41894a" fill-rule="evenodd"/><path d="M1408.2 518.8 1403.8 530.8 1405.2 541.2 1412.2 552.8 1426.2 564.8 1444.8 573.8 1462.2 577.8 1477.2 578.2 1492.8 575.8 1496.8 573.8 1500.2 543.8 1500.2 512.2 1499.2 500.2 1497.2 497.2 1472.8 492.2 1462.2 491.8 1446.2 493.8 1427.2 501.2 1415.2 510.2Z" fill="#3c8245" fill-rule="evenodd"/><path d="M1411.2 519.8 1407.2 529.8 1407.2 536.8 1409.2 542.2 1416.2 552.8 1430.2 564.2 1443.2 570.8 1461.8 575.2 1474.2 575.8 1490.2 572.8 1493.8 570.8 1497.8 540.8 1497.8 515.2 1496.8 503.8 1495.2 500.2 1469.8 493.8 1449.2 494.8 1429.8 502.2 1419.8 509.8Z" fill="#387b41" fill-rule="evenodd"/><path d="M1416.2 518.2 1411.8 526.8 1411.2 537.8 1417.2 548.8 1428.8 559.8 1442.8 567.8 1459.8 572.2 1473.2 572.8 1486.8 569.8 1490.2 567.8 1493.2 554.8 1495.2 534.8 1493.8 505.2 1492.2 502.8 1469.2 495.8 1459.8 495.2 1448.2 496.8 1438.2 500.2 1428.2 506.2Z" fill="#34733c" fill-rule="evenodd"/><path d="M1435.8 504.2 1422.2 516.2 1416.2 525.8 1414.8 535.8 1420.2 546.8 1432.8 558.8 1449.8 567.2 1459.8 569.2 1473.2 569.2 1486.2 565.2 1490.2 551.8 1492.2 534.2 1492.2 521.8 1490.2 506.8 1478.8 500.8 1461.8 497.2 1446.8 499.2Z" fill="#316d39" fill-rule="evenodd"/><path d="M1434.2 508.8 1425.2 518.2 1418.8 531.8 1421.8 541.8 1428.2 550.2 1440.2 559.8 1452.8 564.8 1471.2 565.8 1482.8 561.8 1486.8 550.2 1488.8 537.2 1488.8 518.8 1487.2 509.8 1477.8 503.8 1463.8 499.8 1449.8 500.8 1441.8 503.8Z" fill="#2d6534" fill-rule="evenodd"/><path d="M1445.8 504.8 1437.2 510.2 1427.8 521.8 1423.2 532.8 1426.2 540.8 1434.2 550.8 1448.2 559.8 1465.2 562.2 1478.2 558.8 1482.8 549.8 1485.2 536.8 1485.2 519.2 1483.2 511.8 1470.8 504.2 1462.8 502.2 1454.8 502.2Z" fill="#2a5e30" fill-rule="evenodd"/><path d="M1446.2 507.8 1436.8 515.8 1430.2 526.8 1428.8 535.2 1432.2 541.8 1441.8 551.8 1453.2 557.2 1465.8 557.8 1474.8 554.8 1478.2 549.2 1481.2 537.8 1481.8 522.2 1479.8 514.8 1471.2 508.2 1462.8 505.2 1453.8 505.2Z" fill="#27592d" fill-rule="evenodd"/><path d="M1454.8 508.2 1447.8 510.8 1439.8 518.2 1435.8 526.2 1434.2 534.8 1439.2 543.2 1447.2 550.2 1455.8 553.2 1463.2 553.2 1470.8 550.8 1474.8 544.8 1477.8 532.2 1477.2 520.8 1474.2 515.8 1468.8 511.2 1460.8 508.2Z" fill="#24542a" fill-rule="evenodd"/><path d="M1454.2 512.2 1448.8 514.8 1443.8 520.2 1440.8 527.2 1440.2 534.8 1443.8 540.8 1450.2 546.2 1457.8 548.2 1462.2 547.8 1467.2 545.8 1471.2 539.8 1473.2 531.8 1473.2 524.8 1470.8 519.2 1465.2 514.2 1460.8 512.2Z" fill="#204e27" fill-rule="evenodd"/><path d="M1456.2 516.8 1452.2 518.2 1448.8 521.8 1446.2 530.2 1446.8 533.8 1450.8 539.2 1458.2 541.8 1462.8 540.2 1465.2 537.8 1467.8 531.2 1467.8 526.8 1466.2 522.8 1462.2 518.2Z" fill="#1d4924" fill-rule="evenodd"/></g>
<path d="M1477.1 428.7L1475.1 428.8L1473.1 428.9L1471.1 429L1469.2 429.2L1467.2 429.4L1465.2 429.7L1463.2 430L1461.2 430.3L1459.3 430.7L1457.3 431.1L1455.3 431.5L1453.4 432L1451.4 432.5L1449.5 433L1447.5 433.4L1445.6 434L1443.6 434.5L1441.7 435L1439.7 435.5L1437.8 436L1435.8 436.5L1433.9 437.1L1431.9 437.6L1430 438L1428 438.5L1426.1 439L1424.1 439.4L1422.2 439.8L1420.2 440.3L1418.2 440.7L1416.3 441.1L1414.3 441.5L1412.4 441.9L1410.4 442.3L1408.5 442.7L1406.5 443.1L1404.6 443.5L1402.6 443.9L1400.7 444.3L1398.7 444.8L1396.8 445.2L1394.9 445.6L1392.9 446.1L1391 446.6L1389 447L1387.1 447.5L1385.2 448.1L1383.2 448.6L1381.3 449.1L1379.4 449.7L1377.4 450.3L1375.5 450.9L1373.6 451.5L1371.7 452.1L1369.8 452.8L1367.9 453.4L1366 454.1L1364.1 454.8L1362.2 455.5L1360.3 456.2L1358.4 456.9L1356.5 457.7L1354.6 458.4L1352.8 459.2L1350.9 460L1349 460.8L1347.2 461.6L1345.3 462.4L1343.5 463.2L1341.7 464L1339.8 464.8L1338 465.7L1336.2 466.5L1334.4 467.4L1332.6 468.3L1330.8 469.1L1329 470L1327.2 470.9L1325.5 471.8L1323.7 472.7L1321.9 473.7L1320.2 474.6L1318.4 475.6L1316.7 476.5L1315 477.5L1313.2 478.5L1311.5 479.5L1309.8 480.5L1308.1 481.5L1306.4 482.5L1304.7 483.6L1303 484.6L1301.3 485.7L1299.6 486.8L1297.9 487.9L1296.2 489L1294.6 490.1L1292.9 491.3L1291.3 492.4L1289.6 493.6L1288 494.8L1286.3 496L1284.7 497.2L1283.1 498.4L1281.5 499.6L1279.9 500.8L1278.3 502.1L1276.7 503.3L1275.1 504.6L1273.5 505.8L1272 507.1L1270.4 508.4L1268.9 509.7L1267.3 511L1265.8 512.3L1264.3 513.6L1262.8 515L1261.3 516.3L1259.8 517.6L1258.3 518.9L1256.8 520.2L1255.3 521.4L1253.7 522.6L1252 523.6L1250.2 524.5L1248.4 525.2L1246.5 525.9L1244.5 526.5L1242.6 527L1240.6 527.5L1238.6 528L1236.7 528.6L1234.7 529.2L1232.9 529.9L1231.1 530.7L1229.4 531.6L1227.7 532.7L1226.1 534L1224.5 535.3L1223 536.6L1221.4 538L1219.8 539.4L1218.2 540.7L1216.6 541.9L1215 543.1L1213.3 544L1211.5 544.7L1209.8 545.3L1207.9 545.7L1206.1 546L1204.1 546.2L1202.1 546.4L1200.1 546.6L1198 546.9L1195.9 547.3L1193.8 547.9L1191.6 548.5L1189.5 549.2L1187.5 550L1185.7 551L1183.9 552.1L1182.3 553.3L1181 554.6L1179.9 556.1L1179.1 557.6L1178.5 559.3L1178.1 561.1L1177.9 563L1177.8 565L1177.9 567L1178.1 569.1L1178.4 571.2L1178.7 573.3L1179 575.5L1179.4 577.6L1179.7 579.8L1179.9 581.9L1180.1 584L1180.2 586L1180.1 588L1179.9 589.9L1179.5 591.7L1178.9 593.5L1178.3 595.2L1177.6 596.9L1176.8 598.7L1176 600.5L1175.2 602.3L1174.4 604.2L1173.6 606.2L1172.9 608.2L1172.3 610.3L1171.9 612.4L1171.6 614.4L1171.6 616.4L1171.8 618.3L1172.3 620L1173.1 621.6L1174.2 622.9L1175.6 624.1L1177.3 625.2L1179.1 626L1181.1 626.8L1183.2 627.3L1185.4 627.8L1187.5 628.1L1189.7 628.4L1191.8 628.6L1193.8 628.6L1195.9 628.6L1197.9 628.6L1199.9 628.5L1201.9 628.4L1203.8 628.2L1205.8 628L1207.7 627.9L1209.6 627.7L1211.6 627.6L1213.5 627.5L1215.5 627.5L1217.4 627.5L1219.4 627.6L1221.4 627.8L1223.4 628L1225.4 628.3L1227.4 628.7L1229.5 629L1231.5 629.4L1233.6 629.9L1235.6 630.3L1237.7 630.7L1239.7 631.1L1241.8 631.5L1243.8 631.8L1245.8 632.1L1247.9 632.3L1249.9 632.5L1251.9 632.6L1253.8 632.6L1255.8 632.5L1257.7 632.2L1259.6 631.9L1261.5 631.5L1263.4 631L1265.2 630.5L1267.1 629.9L1268.9 629.2L1270.8 628.5L1272.6 627.7L1274.5 627L1276.3 626.2L1278.2 625.4L1280 624.6L1281.9 623.8L1283.8 623L1285.7 622.3L1287.6 621.6L1289.5 620.9L1291.4 620.2L1293.4 619.6L1295.3 619L1297.2 618.5L1299.2 618L1301.1 617.6L1303.1 617.3L1305 617L1307 616.8L1308.9 616.6L1310.9 616.6L1312.8 616.6L1314.8 616.7L1316.7 617L1318.6 617.3L1320.6 617.7L1322.5 618.2L1324.4 618.7L1326.3 619.3L1328.3 620L1330.2 620.6L1332.1 621.3L1334.1 621.9L1336.1 622.6L1338 623.2L1340 623.8L1342 624.3L1344 624.7L1346 625.1L1348 625.4L1350.1 625.6L1352.1 625.8L1354.2 626L1356.2 626.2L1358.2 626.4L1360.2 626.6L1362.1 626.9L1364.1 627.2L1366 627.6L1367.8 628.2L1369.6 628.8L1371.4 629.6L1373.1 630.5L1374.7 631.6L1376.3 632.8L1377.9 634L1379.4 635.4L1380.9 636.8L1382.4 638.3L1383.8 639.9L1385.2 641.4L1386.6 643L1388.1 644.6L1389.5 646.2L1390.9 647.7L1392.3 649.2L1393.7 650.7L1395.2 652.1L1396.7 653.4L1398.1 654.7L1399.6 655.9L1401.1 657.1L1402.6 658.3L1404.1 659.5L1405.6 660.7L1407.1 661.9L1408.6 663L1410.1 664.2L1411.6 665.5L1413.1 666.7L1414.5 668.1L1416 669.4L1417.4 670.9L1418.8 672.3L1420.2 673.9L1421.6 675.5L1423 677.1L1424.4 678.8L1425.8 680.5L1427.1 682.1L1428.5 683.7L1429.9 685.3L1431.4 686.8L1432.8 688.2L1434.3 689.5L1435.8 690.8L1437.3 691.9L1438.9 692.8L1440.5 693.6L1442.2 694.3L1443.9 694.7L1445.6 695L1447.5 695L1449.3 694.8L1451.3 694.3L1453.3 693.7L1455.3 692.9L1457.3 692L1459.4 691L1461.4 689.9L1463.4 688.7L1465.3 687.6L1467.2 686.5L1468.9 685.5L1470.6 684.6L1472.2 683.8L1473.7 683.2L1475.1 682.9L1476.7 682.9" fill="none" stroke="#37593c" stroke-width="2.2" stroke-linejoin="round"/>
<path d="M1477 454.4L1475.1 454.6L1473.2 454.8L1471.3 455L1469.3 455.1L1467.3 455.3L1465.4 455.4L1463.4 455.6L1461.4 455.7L1459.3 455.8L1457.3 456L1455.3 456.1L1453.2 456.2L1451.2 456.4L1449.1 456.5L1447.1 456.7L1445.1 456.8L1443 457L1441 457.2L1438.9 457.5L1436.9 457.7L1434.9 457.9L1432.8 458.2L1430.8 458.5L1428.8 458.9L1426.8 459.2L1424.8 459.6L1422.9 460.1L1420.9 460.5L1419 461L1417.1 461.6L1415.2 462.1L1413.3 462.8L1411.5 463.4L1409.6 464.1L1407.8 464.8L1406 465.5L1404.2 466.3L1402.4 467.1L1400.6 467.9L1398.8 468.7L1397 469.6L1395.2 470.4L1393.5 471.3L1391.7 472.2L1389.9 473L1388.1 473.9L1386.4 474.8L1384.6 475.7L1382.8 476.6L1381 477.4L1379.2 478.3L1377.4 479.1L1375.5 480L1373.7 480.8L1371.9 481.7L1370.1 482.5L1368.2 483.4L1366.4 484.2L1364.6 485.1L1362.8 486L1361 486.9L1359.2 487.8L1357.4 488.7L1355.6 489.6L1353.8 490.5L1352.1 491.5L1350.3 492.5L1348.6 493.5L1346.9 494.6L1345.2 495.7L1343.6 496.8L1341.9 497.9L1340.3 499.1L1338.7 500.3L1337.2 501.5L1335.6 502.8L1334.1 504.2L1332.7 505.5L1331.2 507L1329.9 508.4L1328.5 510L1327.2 511.5L1325.9 513.1L1324.7 514.7L1323.5 516.4L1322.4 518.1L1321.3 519.8L1320.3 521.6L1319.3 523.4L1318.4 525.2L1317.5 527L1316.7 528.9L1316 530.7L1315.3 532.6L1314.7 534.6L1314.2 536.5L1313.7 538.4L1313.3 540.4L1313 542.4L1312.8 544.3L1312.6 546.3L1312.6 548.3L1312.7 550.2L1312.9 552.1L1313.4 553.9L1314 555.6L1314.8 557.2L1315.9 558.8L1317 560.2L1318.4 561.7L1319.8 563L1321.3 564.3L1323 565.6L1324.6 566.9L1326.4 568.1L1328.1 569.3L1329.9 570.5L1331.6 571.7L1333.3 573L1335 574.2L1336.6 575.4L1338.3 576.6L1340 577.8L1341.6 579.1L1343.2 580.2L1344.9 581.4L1346.5 582.6L1348.1 583.7L1349.8 584.9L1351.4 586L1353.1 587L1354.8 588.1L1356.5 589.1L1358.2 590.1L1359.9 591L1361.7 591.9L1363.4 592.8L1365.2 593.6L1367 594.5L1368.8 595.3L1370.6 596.1L1372.4 596.9L1374.2 597.8L1376 598.6L1377.8 599.4L1379.6 600.3L1381.4 601.1L1383.2 602L1385 603L1386.7 603.9L1388.5 604.9L1390.2 605.9L1391.9 607L1393.7 608L1395.4 609.1L1397.1 610.2L1398.8 611.4L1400.5 612.5L1402.2 613.6L1403.9 614.8L1405.5 615.9L1407.2 617.1L1408.9 618.3L1410.6 619.4L1412.3 620.6L1413.9 621.8L1415.6 622.9L1417.3 624.1L1419 625.2L1420.7 626.3L1422.4 627.4L1424.1 628.5L1425.8 629.5L1427.5 630.6L1429.3 631.6L1431 632.6L1432.7 633.5L1434.5 634.4L1436.3 635.3L1438 636.1L1439.8 636.9L1441.6 637.7L1443.5 638.4L1445.3 639.1L1447.2 639.7L1449 640.3L1450.9 640.8L1452.9 641.3L1454.8 641.7L1456.7 642L1458.7 642.3L1460.7 642.5L1462.7 642.6L1464.8 642.7L1466.9 642.7L1469 642.6L1471.1 642.5L1473.2 642.2L1475.4 641.9L1477.6 641.5" fill="none" stroke="#37593c" stroke-width="2.2" stroke-linejoin="round"/>
<path d="M1477 484.6L1475.1 484.6L1473.1 484.6L1471.1 484.6L1469.1 484.7L1467.1 484.7L1465.1 484.8L1463.1 484.9L1461.1 485L1459.1 485.2L1457.1 485.3L1455.1 485.5L1453.1 485.7L1451.1 485.9L1449 486.2L1447 486.5L1445 486.8L1443 487.1L1441 487.5L1439 487.9L1437 488.4L1435 488.8L1433.1 489.4L1431.1 489.9L1429.1 490.5L1427.2 491.2L1425.3 491.9L1423.3 492.6L1421.4 493.4L1419.5 494.3L1417.7 495.2L1415.8 496.1L1413.9 497.1L1412.1 498.1L1410.3 499.2L1408.6 500.4L1406.9 501.6L1405.2 502.9L1403.6 504.2L1402 505.5L1400.5 506.9L1399.1 508.4L1397.8 509.9L1396.5 511.4L1395.3 513L1394.2 514.7L1393.2 516.4L1392.3 518.1L1391.5 519.9L1390.8 521.8L1390.2 523.7L1389.8 525.6L1389.4 527.5L1389.2 529.5L1389 531.5L1389 533.5L1389.1 535.5L1389.3 537.4L1389.6 539.4L1390 541.3L1390.5 543.1L1391.1 545L1391.8 546.8L1392.6 548.5L1393.5 550.2L1394.5 551.9L1395.5 553.5L1396.7 555.1L1397.9 556.6L1399.1 558.1L1400.5 559.6L1401.9 561L1403.4 562.4L1404.9 563.7L1406.5 565L1408.1 566.3L1409.8 567.5L1411.5 568.7L1413.2 569.9L1415 571L1416.9 572.1L1418.7 573.1L1420.6 574.1L1422.5 575.1L1424.4 576L1426.4 576.9L1428.3 577.8L1430.3 578.6L1432.2 579.4L1434.2 580.2L1436.2 580.9L1438.1 581.6L1440.1 582.3L1442 582.9L1443.9 583.5L1445.9 584.1L1447.8 584.7L1449.7 585.2L1451.6 585.6L1453.5 586.1L1455.4 586.5L1457.3 586.9L1459.3 587.3L1461.2 587.6L1463.1 587.9L1465.1 588.2L1467 588.5L1469 588.7L1471 589L1473 589.2L1475 589.3L1477.1 589.5" fill="none" stroke="#37593c" stroke-width="2.2" stroke-linejoin="round"/>
</g>
<path d="M1201.2 1004v-5M1201.2 695.2v5M1323.5 1004v-5M1323.5 695.2v5M1446.7 1004v-5M1446.7 695.2v5M1159.4 779.8h5M1471.4 779.8h-5M1159.4 869.4h5M1471.4 869.4h-5M1159.4 959.2h5M1471.4 959.2h-5" stroke="#a6a6a6" stroke-width="1.7"/>
<g clip-path="url(#Rclip20)">
<g filter="url(#bl)"><path d="M1512.8 725.8 1510.8 724.2 1471.8 724.2 1438.2 749.8 1374.2 795.8 1313.2 846.2 1300.2 859.2 1294.2 868.2 1292.8 876.8 1295.8 883.2 1302.8 888.2 1311.8 887.8 1386.2 861.8 1409.2 856.8 1443.8 852.8 1453.2 848.2 1472.2 835.2 1510.2 834.2 1512.2 830.8 1514.2 820.2 1515.2 750.8Z" fill="#fcfefe" fill-rule="evenodd"/><path d="M1511.8 727.2 1509.8 725.8 1471.8 725.8 1466.8 728.8 1442.2 748.2 1378.2 794.2 1325.8 837.8 1307.2 855.8 1300.8 864.2 1298.2 871.8 1301.2 879.8 1305.2 883.2 1313.2 883.8 1387.2 859.8 1409.8 854.8 1441.8 850.2 1453.8 844.8 1471.8 833.2 1509.2 831.2 1513.2 819.8 1514.8 793.8 1514.8 751.8Z" fill="#fafdfc" fill-rule="evenodd"/><path d="M1511.2 728.8 1509.2 726.8 1472.2 726.8 1466.2 730.2 1438.8 751.8 1375.8 797.2 1327.2 838.2 1304.8 861.8 1301.8 867.8 1303.2 876.8 1307.8 880.8 1314.8 881.2 1386.2 858.8 1410.8 853.2 1440.2 848.8 1453.8 842.8 1473.2 831.2 1507.8 829.8 1511.2 824.2 1512.8 818.8 1514.2 794.8 1514.2 750.8Z" fill="#f6fbfa" fill-rule="evenodd"/><path d="M1510.2 729.8 1507.2 727.8 1473.2 727.8 1467.2 730.8 1443.8 749.2 1379.2 795.8 1327.2 840.2 1313.2 854.2 1306.8 862.8 1304.8 867.8 1305.8 874.8 1311.8 878.8 1317.8 878.2 1386.8 857.2 1438.2 847.2 1445.8 844.8 1467.8 831.8 1474.8 829.2 1506.2 828.2 1511.8 819.8 1513.8 794.8 1513.8 750.8 1512.2 735.2Z" fill="#f3faf9" fill-rule="evenodd"/><path d="M1509.2 730.2 1506.8 728.8 1473.2 728.8 1467.2 731.8 1378.8 797.2 1330.8 838.8 1313.2 856.2 1308.8 862.8 1307.2 866.8 1308.2 874.2 1313.2 876.8 1317.8 876.2 1386.2 856.2 1437.8 845.8 1446.2 842.8 1473.2 828.2 1503.2 827.8 1506.2 826.2 1509.8 822.2 1511.8 816.8 1512.2 797.2 1513.8 793.8 1513.8 751.8 1512.2 748.2 1511.8 735.8Z" fill="#eff8f7" fill-rule="evenodd"/><path d="M1509.2 731.8 1506.8 729.8 1472.8 729.8 1467.8 732.2 1379.8 797.2 1333.8 837.2 1313.2 858.2 1308.8 867.8 1309.8 873.2 1312.2 874.8 1318.2 874.2 1347.8 867.2 1386.8 855.2 1432.2 845.8 1450.8 839.2 1473.2 827.2 1504.8 825.8 1510.8 818.2 1511.8 797.8 1513.2 794.8 1513.2 750.8 1511.8 747.8 1511.2 736.2Z" fill="#eaf6f4" fill-rule="evenodd"/><path d="M1509.8 733.8 1505.2 730.2 1473.8 730.2 1466.8 733.8 1385.2 793.8 1357.8 816.8 1318.8 853.2 1311.2 865.2 1311.2 872.2 1317.8 872.8 1340.2 868.2 1385.8 854.8 1429.8 845.2 1451.2 837.8 1473.2 826.2 1501.8 825.8 1505.8 823.8 1510.2 817.8 1511.2 798.2 1513.2 793.8 1513.2 751.8 1511.2 747.2Z" fill="#e6f4f1" fill-rule="evenodd"/><path d="M1509.2 734.2 1504.2 730.8 1474.2 730.8 1467.8 733.8 1388.8 791.8 1359.2 816.2 1319.2 854.2 1313.8 864.2 1314.2 869.8 1321.2 870.2 1342.8 866.8 1385.2 854.2 1427.8 844.8 1453.2 835.8 1473.8 825.2 1504.2 823.8 1509.8 817.8 1510.8 798.8 1513.2 792.2 1513.2 753.2 1510.8 746.8 1510.8 738.8Z" fill="#e1f2ee" fill-rule="evenodd"/><path d="M1508.2 733.8 1503.8 731.2 1474.8 731.2 1467.8 734.2 1370.8 806.8 1325.2 848.8 1318.2 858.8 1319.2 863.2 1323.2 867.2 1345.8 865.2 1384.8 853.8 1432.8 842.2 1453.2 834.8 1474.2 824.2 1504.2 822.8 1509.2 817.2 1510.2 799.8 1512.8 794.2 1512.8 751.2 1510.8 748.2 1510.2 738.8Z" fill="#ddf0eb" fill-rule="evenodd"/><path d="M1508.2 734.8 1503.2 731.8 1474.8 731.8 1469.2 733.8 1372.8 805.8 1328.2 846.8 1324.8 851.2 1323.2 856.2 1330.2 864.8 1343.8 864.8 1426.8 843.2 1452.2 834.2 1472.8 823.8 1503.8 822.2 1508.8 816.8 1510.2 797.8 1512.8 793.8 1512.8 751.8 1510.2 747.8 1509.8 738.2Z" fill="#d8ede8" fill-rule="evenodd"/><path d="M1508.2 735.8 1503.2 732.2 1474.8 732.2 1469.2 734.2 1372.8 806.2 1334.2 841.8 1329.2 847.8 1328.8 852.8 1337.2 863.2 1346.8 863.2 1424.2 843.2 1450.2 834.2 1473.8 822.8 1503.2 821.8 1508.2 816.8 1509.8 798.2 1512.8 792.8 1512.8 752.8 1509.8 747.2Z" fill="#d4ebe5" fill-rule="evenodd"/><path d="M1507.8 735.8 1503.8 732.8 1474.2 732.8 1469.2 734.8 1372.8 806.8 1335.2 842.2 1333.2 845.8 1333.8 849.8 1342.8 861.2 1352.2 861.2 1426.8 841.8 1450.8 833.2 1472.8 822.2 1503.8 820.8 1507.8 816.2 1509.2 798.2 1512.2 794.2 1512.2 751.2 1509.2 747.2Z" fill="#cfe9e2" fill-rule="evenodd"/><path d="M1506.8 735.2 1503.8 733.2 1473.8 733.2 1467.8 736.2 1390.8 792.8 1368.2 811.2 1339.8 838.8 1337.8 841.8 1337.8 845.2 1347.8 859.2 1355.2 859.8 1426.2 841.2 1452.8 831.8 1473.8 821.2 1502.2 820.8 1504.2 819.8 1507.2 815.8 1508.8 798.8 1512.2 793.8 1512.2 751.8 1509.2 748.2 1508.2 738.2Z" fill="#c8e6dd" fill-rule="evenodd"/><path d="M1506.8 736.2 1501.2 733.2 1476.2 733.2 1469.8 735.2 1399.2 786.8 1368.8 811.2 1343.8 835.8 1341.8 839.2 1343.8 846.2 1352.2 857.2 1360.8 857.8 1424.2 841.2 1451.2 831.8 1473.2 820.8 1502.2 820.2 1504.2 819.2 1506.8 815.8 1508.2 798.8 1512.2 793.2 1512.2 752.2 1508.2 746.8Z" fill="#c2e4da" fill-rule="evenodd"/><path d="M1506.2 736.2 1502.2 733.8 1475.2 733.8 1468.2 736.8 1387.2 796.2 1368.8 811.8 1346.8 834.2 1345.8 838.8 1348.2 844.8 1357.2 855.8 1363.2 856.2 1428.8 839.2 1453.2 830.2 1472.8 820.2 1503.2 819.2 1506.2 815.2 1507.8 799.2 1512.2 792.2 1512.2 753.2 1508.2 747.8Z" fill="#bbe2d5" fill-rule="evenodd"/><path d="M1505.8 736.2 1502.8 734.2 1474.2 734.2 1468.8 736.8 1389.8 794.8 1369.2 811.8 1349.8 832.2 1349.8 837.8 1352.8 843.8 1361.2 853.8 1369.8 854.2 1434.8 836.8 1454.2 829.2 1472.8 819.8 1501.8 819.2 1503.8 818.2 1505.8 814.8 1507.8 797.8 1511.8 793.8 1511.8 751.8 1507.8 747.8Z" fill="#b4dfd1" fill-rule="evenodd"/><path d="M1505.8 737.2 1502.8 734.8 1473.8 734.8 1469.2 736.8 1390.2 794.8 1369.8 811.8 1353.2 829.2 1352.8 833.2 1354.8 839.8 1364.2 851.2 1366.8 852.8 1373.2 852.8 1433.2 836.8 1450.8 830.2 1472.8 819.2 1501.8 818.8 1503.8 817.8 1505.2 814.8 1507.2 797.8 1511.8 793.8 1511.8 751.8 1507.2 747.8Z" fill="#adddcd" fill-rule="evenodd"/><path d="M1505.2 737.2 1501.2 734.8 1475.8 734.8 1467.8 738.2 1390.8 794.8 1369.8 812.2 1356.2 827.2 1355.8 829.8 1358.2 838.2 1368.2 849.8 1370.8 851.2 1377.2 851.2 1410.2 843.2 1441.8 833.2 1472.8 818.8 1502.8 817.8 1504.8 814.2 1506.8 798.2 1511.8 793.2 1511.8 752.2 1506.8 747.2Z" fill="#a8dbc9" fill-rule="evenodd"/><path d="M1504.8 737.2 1501.8 735.2 1474.8 735.2 1468.2 738.2 1391.2 794.8 1369.8 812.8 1362.2 820.2 1358.8 826.2 1360.2 834.2 1363.2 839.2 1372.8 848.8 1380.8 849.8 1410.2 842.8 1440.2 833.2 1472.2 818.2 1502.2 817.2 1504.2 813.8 1506.2 798.2 1510.8 794.8 1511.8 792.2 1511.8 753.2 1510.8 750.8 1506.2 747.2Z" fill="#a0d7c4" fill-rule="evenodd"/><path d="M1503.8 736.8 1502.2 735.8 1473.8 735.8 1470.2 737.2 1401.8 787.2 1375.2 808.2 1362.2 821.8 1361.8 826.2 1364.8 835.8 1372.2 844.2 1377.8 848.2 1384.2 848.2 1408.2 842.8 1434.2 834.8 1454.8 826.8 1472.2 817.8 1501.8 816.8 1503.8 812.8 1505.8 798.2 1511.2 793.8 1511.2 751.8 1506.2 748.2Z" fill="#98d2bd" fill-rule="evenodd"/><path d="M1503.8 737.8 1502.2 736.2 1473.2 736.2 1402.2 787.2 1375.2 808.8 1364.2 821.8 1365.8 830.2 1368.2 835.2 1374.8 842.2 1380.8 846.2 1390.8 846.2 1415.2 840.2 1438.2 832.8 1471.8 817.2 1501.8 815.8 1505.8 797.2 1511.2 793.2 1511.2 752.2 1505.8 748.2Z" fill="#91ceb7" fill-rule="evenodd"/><path d="M1503.2 737.8 1500.2 736.2 1471.8 737.2 1400.8 788.8 1379.8 805.2 1367.8 817.8 1368.2 828.2 1371.2 834.2 1381.2 843.2 1394.2 844.8 1437.2 832.2 1456.8 824.2 1470.8 816.8 1477.8 815.2 1500.8 814.8 1502.8 811.2 1505.2 797.2 1511.2 792.8 1511.2 752.8 1505.2 748.2Z" fill="#88c9b0" fill-rule="evenodd"/><path d="M1502.8 738.2 1499.2 736.8 1476.8 736.8 1471.8 737.8 1379.2 806.2 1369.8 817.8 1370.8 826.8 1373.2 832.2 1382.8 840.8 1390.8 842.8 1398.8 842.8 1436.2 831.2 1476.8 813.2 1500.2 812.8 1502.8 808.2 1505.2 796.8 1510.2 794.2 1511.2 792.2 1511.2 753.2 1510.2 751.2 1505.2 748.8Z" fill="#80c4a9" fill-rule="evenodd"/><path d="M1502.2 738.8 1500.8 737.8 1472.2 738.2 1402.8 788.2 1381.2 805.2 1373.8 813.2 1372.2 819.8 1373.2 825.8 1376.2 831.8 1383.8 838.2 1394.8 840.8 1412.2 837.8 1435.2 829.2 1477.2 810.2 1500.8 809.8 1504.8 796.8 1510.8 793.2 1510.8 752.2 1504.8 748.8Z" fill="#78c1a0" fill-rule="evenodd"/><path d="M1510.2 751.8 1504.2 748.8 1500.8 738.8 1473.2 738.8 1470.8 739.8 1383.2 804.2 1375.8 813.8 1375.2 822.8 1376.8 827.8 1381.2 833.2 1385.8 836.2 1396.2 838.2 1408.8 836.2 1433.2 827.2 1476.2 807.8 1500.2 807.2 1502.2 804.8 1504.2 796.8 1510.8 792.8Z" fill="#72be99" fill-rule="evenodd"/><path d="M1510.2 752.2 1503.8 748.8 1501.8 742.2 1498.8 740.2 1474.2 740.2 1467.2 742.8 1386.2 802.8 1380.8 808.8 1378.2 813.8 1378.8 826.2 1386.2 833.8 1395.2 835.8 1401.2 835.2 1432.8 824.8 1475.8 805.2 1500.2 804.8 1503.8 796.8 1510.8 792.2Z" fill="#6bbb90" fill-rule="evenodd"/><path d="M1510.2 752.2 1504.8 750.2 1499.8 742.8 1471.2 742.8 1466.8 744.2 1429.8 770.2 1389.8 801.2 1384.2 807.2 1380.8 813.8 1379.8 820.8 1381.2 825.8 1385.2 830.2 1394.2 833.2 1404.8 832.2 1444.8 817.2 1475.2 802.8 1500.8 802.2 1502.8 797.2 1509.8 793.8 1510.8 791.2Z" fill="#64b787" fill-rule="evenodd"/><path d="M1510.2 752.8 1504.8 750.8 1500.2 745.2 1469.8 745.2 1459.8 749.8 1427.8 772.8 1392.2 801.8 1383.2 813.8 1382.2 821.8 1383.8 825.2 1390.8 830.2 1403.2 830.2 1450.8 812.2 1473.8 800.8 1500.2 800.2 1504.8 794.8 1510.2 792.8Z" fill="#60b27e" fill-rule="evenodd"/><path d="M1509.8 752.8 1503.8 750.8 1499.8 747.2 1470.8 747.2 1455.8 753.8 1427.8 774.2 1390.8 806.2 1384.2 817.8 1385.8 824.2 1388.2 826.8 1394.2 828.8 1406.2 827.2 1449.8 810.2 1474.2 798.2 1499.8 798.2 1503.2 795.2 1509.2 793.2 1510.2 791.8Z" fill="#5cac75" fill-rule="evenodd"/><path d="M1509.8 753.2 1500.8 749.2 1472.8 748.8 1455.2 755.8 1439.8 766.2 1400.8 799.2 1389.2 811.2 1386.2 817.8 1386.8 822.2 1388.8 824.8 1393.2 826.8 1402.8 826.2 1450.2 808.2 1473.2 796.8 1498.2 796.8 1509.8 792.2Z" fill="#57a66b" fill-rule="evenodd"/><path d="M1509.8 753.8 1500.8 750.2 1470.8 750.2 1459.2 754.8 1439.2 767.8 1399.8 801.8 1390.2 812.2 1387.8 817.2 1387.8 821.2 1392.8 825.2 1403.8 824.8 1447.8 808.2 1472.8 795.8 1500.8 795.2 1509.2 792.8Z" fill="#52a061" fill-rule="evenodd"/><path d="M1509.2 753.8 1501.2 751.2 1472.8 750.8 1456.2 757.2 1435.2 771.8 1401.2 801.8 1391.2 812.8 1388.8 818.2 1389.2 821.2 1392.2 823.8 1396.8 824.8 1405.2 823.2 1448.2 807.2 1473.2 794.8 1501.2 794.2 1508.2 792.8 1509.2 791.8Z" fill="#4e9b59" fill-rule="evenodd"/><path d="M1508.8 754.2 1501.2 752.2 1471.8 751.8 1455.8 758.2 1437.2 770.8 1402.8 801.8 1392.2 813.2 1390.2 817.2 1390.8 821.2 1394.2 823.2 1404.8 822.2 1450.2 805.8 1472.2 794.2 1507.8 792.2 1508.8 791.2Z" fill="#4a9453" fill-rule="evenodd"/><path d="M1507.8 755.2 1503.2 753.8 1471.2 752.8 1450.8 761.8 1436.8 771.8 1409.2 797.2 1394.8 812.2 1391.8 818.2 1392.2 820.2 1395.2 821.8 1400.2 821.8 1411.8 818.8 1448.8 805.8 1471.8 793.8 1507.2 791.2 1508.2 789.8Z" fill="#458e4f" fill-rule="evenodd"/><path d="M1505.8 756.8 1471.2 753.8 1450.2 762.8 1438.2 771.2 1407.2 800.8 1396.8 812.8 1394.8 818.8 1396.8 819.8 1405.8 818.8 1441.8 807.8 1456.2 801.8 1472.2 792.8 1505.2 789.8 1506.8 787.8Z" fill="#41894a" fill-rule="evenodd"/><path d="M1503.2 759.2 1482.8 755.8 1470.2 755.2 1452.2 762.2 1432.2 777.2 1409.2 801.2 1398.8 815.8 1403.2 816.8 1437.8 808.2 1453.8 802.2 1472.8 791.8 1503.2 787.2 1504.2 785.8Z" fill="#3c8245" fill-rule="evenodd"/><path d="M1500.2 762.2 1489.8 759.2 1471.2 756.8 1461.2 759.2 1448.2 765.2 1437.8 772.8 1429.8 780.8 1410.2 803.8 1405.2 811.8 1409.2 812.8 1439.2 806.8 1453.2 801.8 1472.2 790.8 1500.8 784.2 1501.2 766.2Z" fill="#387b41" fill-rule="evenodd"/><path d="M1497.2 765.8 1492.2 763.2 1473.2 758.8 1463.2 760.2 1452.8 763.8 1441.8 770.2 1430.8 780.8 1415.2 801.8 1412.2 808.2 1426.8 807.8 1445.8 803.8 1457.8 798.8 1472.2 789.2 1497.2 781.2 1498.2 778.2Z" fill="#34733c" fill-rule="evenodd"/><path d="M1493.8 769.8 1489.8 766.8 1475.2 761.8 1462.2 762.2 1451.8 765.2 1442.8 770.2 1432.2 780.2 1420.2 799.2 1418.8 804.8 1438.2 804.2 1453.8 799.8 1471.2 787.8 1492.8 778.2 1494.2 776.2Z" fill="#316d39" fill-rule="evenodd"/><path d="M1488.8 772.8 1484.2 769.2 1473.8 764.8 1462.8 764.2 1450.8 766.8 1441.2 772.2 1433.2 780.8 1426.8 792.2 1423.8 800.8 1426.2 802.2 1440.8 802.2 1452.2 799.2 1459.8 795.2 1469.8 786.2 1485.8 776.2Z" fill="#2d6534" fill-rule="evenodd"/><path d="M1478.8 772.2 1472.8 768.8 1461.8 766.8 1454.2 767.2 1444.8 770.8 1437.8 776.8 1433.8 782.2 1429.2 792.8 1428.8 798.8 1434.2 800.2 1443.2 800.2 1454.8 796.8 1465.8 787.8 1478.8 774.2Z" fill="#2a5e30" fill-rule="evenodd"/><path d="M1470.8 774.2 1467.8 771.8 1458.8 769.2 1452.8 769.2 1445.2 771.8 1438.2 777.8 1433.2 788.2 1432.8 796.2 1436.2 797.8 1445.2 798.2 1455.2 794.8 1462.2 788.8Z" fill="#27592d" fill-rule="evenodd"/><path d="M1464.2 775.8 1459.8 772.8 1453.8 771.2 1444.2 773.8 1440.2 777.2 1436.8 783.8 1436.2 793.8 1440.8 795.8 1448.2 795.8 1454.2 793.2 1461.2 786.2 1464.2 779.2Z" fill="#24542a" fill-rule="evenodd"/><path d="M1458.2 776.2 1452.8 773.8 1444.2 775.8 1439.8 781.8 1439.2 790.8 1442.8 793.2 1449.2 793.2 1454.2 790.8 1459.8 782.2 1459.8 778.2Z" fill="#204e27" fill-rule="evenodd"/><path d="M1453.2 777.8 1447.2 776.8 1443.2 779.8 1442.2 787.2 1444.2 789.8 1450.2 789.8 1454.2 786.2 1455.8 781.8Z" fill="#1d4924" fill-rule="evenodd"/></g>
<path d="M1477.2 724.6L1475.4 725.2L1473.5 725.9L1471.7 726.6L1470 727.4L1468.2 728.2L1466.5 729.2L1464.8 730.1L1463.2 731.1L1461.5 732.2L1459.9 733.3L1458.3 734.5L1456.7 735.7L1455.1 736.9L1453.6 738.1L1452 739.4L1450.5 740.7L1448.9 742L1447.4 743.3L1445.9 744.7L1444.3 746L1442.8 747.3L1441.3 748.7L1439.7 750L1438.2 751.3L1436.6 752.6L1435.1 753.9L1433.5 755.2L1431.9 756.5L1430.3 757.7L1428.7 758.9L1427.1 760.1L1425.5 761.3L1423.8 762.5L1422.2 763.7L1420.6 764.8L1418.9 766L1417.3 767.1L1415.6 768.2L1413.9 769.4L1412.3 770.5L1410.6 771.6L1408.9 772.7L1407.3 773.8L1405.6 774.9L1403.9 776L1402.3 777.1L1400.6 778.2L1398.9 779.4L1397.3 780.5L1395.6 781.6L1393.9 782.7L1392.3 783.9L1390.6 785L1389 786.1L1387.4 787.3L1385.7 788.5L1384.1 789.6L1382.5 790.8L1380.9 792L1379.2 793.2L1377.6 794.4L1376 795.6L1374.4 796.8L1372.8 798L1371.2 799.3L1369.6 800.5L1368 801.7L1366.4 803L1364.9 804.2L1363.3 805.5L1361.7 806.7L1360.1 808L1358.5 809.2L1357 810.5L1355.4 811.7L1353.8 813L1352.3 814.3L1350.7 815.5L1349.1 816.8L1347.6 818.1L1346 819.3L1344.4 820.6L1342.9 821.9L1341.3 823.2L1339.8 824.4L1338.2 825.7L1336.7 827L1335.1 828.3L1333.5 829.5L1332 830.8L1330.4 832.1L1328.9 833.3L1327.3 834.6L1325.8 835.9L1324.2 837.1L1322.6 838.4L1321.1 839.7L1319.5 840.9L1317.9 842.2L1316.4 843.4L1314.8 844.7L1313.3 845.9L1311.7 847.2L1310.1 848.4L1308.5 849.6L1307 850.9L1305.4 852.1L1303.8 853.3L1302.3 854.6L1300.7 855.8L1299.1 857L1297.5 858.3L1296 859.5L1294.4 860.7L1292.8 861.9L1291.2 863.1L1289.6 864.4L1288 865.6L1286.5 866.8L1284.9 868L1283.3 869.2L1281.7 870.4L1280.1 871.6L1278.5 872.8L1276.9 874L1275.3 875.2L1273.7 876.5L1272.1 877.7L1270.5 878.9L1268.9 880.1L1267.3 881.2L1265.7 882.4L1264.1 883.6L1262.5 884.8L1260.9 886L1259.3 887.2L1257.7 888.4L1256 889.6L1254.4 890.8L1252.8 892L1251.2 893.2L1249.6 894.3L1248 895.5L1246.3 896.7L1244.7 897.9L1243.1 899L1241.5 900.2L1239.8 901.4L1238.2 902.5L1236.6 903.7L1234.9 904.9L1233.3 906L1231.6 907.2L1230 908.3L1228.4 909.5L1226.7 910.6L1225.1 911.8L1223.4 912.9L1221.8 914.1L1220.1 915.2L1218.5 916.3L1216.9 917.5L1215.2 918.6L1213.5 919.7L1211.9 920.9L1210.2 922L1208.6 923.1L1206.9 924.2L1205.3 925.3L1203.6 926.4L1201.9 927.5L1200.3 928.6L1198.6 929.7L1196.9 930.8L1195.3 931.9L1193.6 933L1191.9 934L1190.3 935.1L1188.6 936.2L1186.9 937.3L1185.3 938.5L1183.7 939.7L1182.1 940.9L1180.6 942.3L1179.1 943.7L1177.7 945.2L1176.3 946.8L1174.9 948.5L1173.7 950.3L1172.5 952.3L1171.4 954.3L1170.4 956.4L1169.7 958.5L1169.1 960.5L1168.8 962.4L1168.7 964.1L1169 965.5L1169.6 966.6L1170.5 967.4L1171.7 967.8L1173.2 967.8L1174.9 967.6L1176.7 967.2L1178.7 966.6L1180.7 965.9L1182.6 965.2L1184.6 964.4L1186.6 963.7L1188.5 962.9L1190.4 962.1L1192.3 961.3L1194.2 960.5L1196.1 959.6L1198 958.8L1199.8 957.9L1201.7 957L1203.5 956.2L1205.4 955.3L1207.2 954.4L1209 953.4L1210.8 952.5L1212.6 951.6L1214.4 950.7L1216.2 949.8L1218 948.8L1219.8 947.9L1221.5 946.9L1223.3 946L1225.1 945.1L1226.9 944.2L1228.6 943.2L1230.4 942.3L1232.2 941.4L1234 940.4L1235.7 939.5L1237.5 938.6L1239.3 937.6L1241.1 936.7L1242.8 935.8L1244.6 934.8L1246.3 933.8L1248.1 932.9L1249.8 931.9L1251.6 930.9L1253.3 930L1255.1 929L1256.8 928L1258.5 927L1260.2 925.9L1261.9 924.9L1263.6 923.8L1265.3 922.8L1267 921.7L1268.7 920.6L1270.4 919.5L1272 918.4L1273.7 917.2L1275.4 916.1L1277 914.9L1278.7 913.8L1280.3 912.6L1281.9 911.5L1283.6 910.3L1285.2 909.1L1286.9 907.9L1288.5 906.8L1290.1 905.6L1291.8 904.4L1293.4 903.3L1295.1 902.1L1296.7 901L1298.4 899.8L1300.1 898.7L1301.8 897.6L1303.4 896.5L1305.1 895.4L1306.8 894.4L1308.6 893.3L1310.3 892.3L1312 891.3L1313.8 890.4L1315.5 889.4L1317.3 888.5L1319.1 887.6L1320.9 886.7L1322.7 885.9L1324.6 885.1L1326.4 884.3L1328.3 883.5L1330.1 882.7L1332 882L1333.9 881.2L1335.7 880.5L1337.6 879.7L1339.5 878.9L1341.3 878.1L1343.2 877.3L1345 876.5L1346.9 875.7L1348.7 874.8L1350.5 873.9L1352.3 873L1354.1 872.1L1355.9 871.1L1357.7 870.1L1359.4 869.2L1361.2 868.2L1363 867.3L1364.8 866.4L1366.6 865.6L1368.4 864.8L1370.3 864.1L1372.2 863.5L1374.1 863L1376 862.6L1378 862.3L1380 862L1382 861.8L1384 861.5L1386 861.3L1388.1 861L1390.1 860.8L1392.1 860.4L1394.1 860.1L1396.1 859.7L1398.1 859.3L1400 858.8L1402 858.4L1404 858L1406 857.5L1407.9 857.1L1409.9 856.7L1411.9 856.3L1413.8 855.9L1415.8 855.6L1417.8 855.3L1419.7 855.1L1421.7 854.9L1423.7 854.8L1425.7 854.8L1427.7 854.8L1429.7 854.9L1431.6 855L1433.6 855.1L1435.6 855.2L1437.6 855.1L1439.5 855L1441.4 854.7L1443.3 854.3L1445.2 853.8L1447 853.1L1448.8 852.3L1450.5 851.4L1452.2 850.3L1453.9 849.1L1455.5 847.8L1457.1 846.4L1458.6 844.9L1460.2 843.5L1461.7 842L1463.2 840.6L1464.8 839.3L1466.4 838.1L1468.1 837L1469.7 836.1L1471.5 835.3L1473.3 834.9L1475.2 834.6L1477.2 834.7" fill="none" stroke="#37593c" stroke-width="2.2" stroke-linejoin="round"/>
<path d="M1477.3 735.9L1475.4 736.6L1473.5 737.3L1471.7 738L1469.9 738.8L1468.1 739.7L1466.4 740.6L1464.6 741.5L1462.9 742.5L1461.2 743.5L1459.5 744.5L1457.9 745.6L1456.2 746.7L1454.6 747.8L1453 749L1451.4 750.2L1449.8 751.4L1448.2 752.6L1446.6 753.8L1445.1 755.1L1443.5 756.3L1441.9 757.6L1440.4 758.9L1438.8 760.2L1437.2 761.4L1435.7 762.7L1434.1 764L1432.5 765.3L1431 766.6L1429.4 767.9L1427.8 769.1L1426.2 770.4L1424.6 771.6L1423 772.8L1421.3 774L1419.7 775.2L1418 776.4L1416.4 777.6L1414.7 778.8L1413 779.9L1411.4 781.1L1409.7 782.2L1408 783.4L1406.3 784.5L1404.7 785.6L1403 786.8L1401.3 787.9L1399.7 789L1398 790.2L1396.3 791.3L1394.7 792.5L1393.1 793.6L1391.4 794.8L1389.8 796L1388.2 797.1L1386.6 798.3L1385 799.5L1383.4 800.8L1381.9 802L1380.3 803.2L1378.8 804.5L1377.3 805.8L1375.8 807.1L1374.3 808.4L1372.8 809.7L1371.4 811L1369.9 812.3L1368.4 813.6L1367 815L1365.5 816.3L1364 817.6L1362.6 819L1361.1 820.3L1359.6 821.7L1358.2 823L1356.7 824.3L1355.2 825.7L1353.7 827L1352.1 828.3L1350.6 829.6L1349 830.9L1347.5 832.1L1345.9 833.4L1344.2 834.7L1342.6 835.9L1341 837.1L1339.3 838.4L1337.7 839.6L1336 840.8L1334.3 842.1L1332.7 843.3L1331.1 844.6L1329.5 845.8L1327.9 847.1L1326.3 848.4L1324.8 849.7L1323.3 851.1L1321.9 852.4L1320.5 853.9L1319.1 855.3L1317.8 856.8L1316.6 858.3L1315.4 859.9L1314.3 861.5L1313.3 863.2L1312.3 864.9L1311.5 866.7L1310.7 868.4L1310.3 870.1L1310.4 871.3L1311.2 872.1L1312.4 872.4L1314 872.2L1316 871.6L1318.1 870.8L1320.3 869.8L1322.6 868.8L1324.9 867.9L1327.1 867.1L1329.2 866.4L1331.3 865.8L1333.3 865.2L1335.3 864.7L1337.2 864.3L1339.2 863.9L1341 863.5L1342.9 863.1L1344.8 862.6L1346.6 862.1L1348.5 861.6L1350.3 861.1L1352.2 860.4L1354.1 859.8L1355.9 859.1L1357.8 858.4L1359.7 857.7L1361.6 857L1363.4 856.2L1365.3 855.4L1367.2 854.6L1369.1 853.9L1371 853.1L1372.9 852.3L1374.8 851.6L1376.7 850.8L1378.6 850.1L1380.5 849.4L1382.4 848.7L1384.4 848L1386.3 847.4L1388.2 846.8L1390.1 846.2L1392.1 845.7L1394 845.2L1396 844.6L1397.9 844.1L1399.9 843.6L1401.8 843.2L1403.8 842.7L1405.7 842.2L1407.6 841.7L1409.6 841.2L1411.5 840.8L1413.5 840.3L1415.4 839.8L1417.3 839.3L1419.3 838.7L1421.2 838.2L1423.1 837.6L1425 837.1L1427 836.5L1428.9 835.8L1430.8 835.2L1432.6 834.5L1434.5 833.7L1436.4 833L1438.3 832.2L1440.1 831.4L1442 830.6L1443.9 829.7L1445.7 828.9L1447.6 828L1449.4 827.1L1451.2 826.3L1453.1 825.4L1454.9 824.5L1456.8 823.7L1458.6 822.9L1460.4 822.1L1462.3 821.3L1464.1 820.5L1466 819.8L1467.8 819.1L1469.7 818.5L1471.5 817.9L1473.4 817.3L1475.3 816.9L1477.1 816.4" fill="none" stroke="#37593c" stroke-width="2.2" stroke-linejoin="round"/>
<path d="M1477.4 749.9L1475.4 750.2L1473.4 750.5L1471.5 750.9L1469.5 751.4L1467.6 752L1465.8 752.6L1463.9 753.4L1462.1 754.1L1460.2 755L1458.4 755.9L1456.7 756.8L1454.9 757.8L1453.2 758.9L1451.4 759.9L1449.7 761.1L1448 762.2L1446.4 763.4L1444.7 764.7L1443.1 765.9L1441.4 767.2L1439.8 768.5L1438.2 769.8L1436.6 771.1L1435 772.4L1433.5 773.8L1431.9 775.1L1430.3 776.4L1428.8 777.8L1427.3 779.1L1425.7 780.4L1424.2 781.7L1422.7 782.9L1421.2 784.2L1419.7 785.4L1418.2 786.7L1416.7 787.9L1415.2 789.1L1413.7 790.4L1412.2 791.6L1410.7 792.9L1409.2 794.2L1407.6 795.5L1406.1 796.8L1404.6 798.2L1403 799.5L1401.5 800.9L1399.9 802.4L1398.3 803.9L1396.7 805.4L1395.1 807L1393.5 808.6L1391.9 810.3L1390.5 811.9L1389.2 813.6L1388.2 815.3L1387.5 816.9L1387.2 818.5L1387.4 820L1388 821.4L1389 822.7L1390.3 823.8L1391.9 824.7L1393.7 825.2L1395.7 825.4L1397.7 825.2L1399.8 824.8L1401.9 824.1L1404.1 823.3L1406.2 822.5L1408.2 821.8L1410.2 821.1L1412.2 820.4L1414.1 819.8L1416 819.2L1417.9 818.6L1419.8 818L1421.7 817.4L1423.5 816.7L1425.4 816L1427.3 815.2L1429.1 814.5L1431 813.7L1432.8 812.9L1434.7 812L1436.5 811.2L1438.4 810.3L1440.2 809.5L1442.1 808.6L1443.9 807.7L1445.8 806.8L1447.6 805.9L1449.5 805L1451.3 804.1L1453.2 803.3L1455 802.4L1456.9 801.6L1458.7 800.7L1460.6 799.9L1462.4 799.1L1464.3 798.4L1466.1 797.7L1468 797L1469.8 796.3L1471.7 795.7L1473.5 795.1L1475.4 794.5L1477.3 794" fill="none" stroke="#37593c" stroke-width="2.2" stroke-linejoin="round"/>
</g>
<path d="M1587 1004v-5M1587 695.2v5M1698.6 1004v-5M1698.6 695.2v5M1471.4 779.8h5M1783.4 779.8h-5M1471.4 869.4h5M1783.4 869.4h-5M1471.4 959.2h5M1783.4 959.2h-5" stroke="#a6a6a6" stroke-width="1.7"/>
<g clip-path="url(#Rclip21)">
<g filter="url(#bl)"><path d="M1731.2 736.2 1727.8 732.2 1719.8 729.2 1708.2 728.8 1698.2 730.2 1662.2 741.2 1613.8 761.8 1565.8 785.8 1522.8 811.8 1509.8 823.2 1505.2 829.8 1502.8 837.2 1503.8 843.2 1506.2 847.8 1512.2 853.2 1521.8 857.8 1533.2 860.2 1539.8 863.2 1552.2 875.2 1560.8 881.2 1589.2 895.2 1604.2 898.8 1612.2 898.8 1629.8 894.8 1640.2 888.2 1669.8 864.8 1684.2 848.8 1702.2 823.8 1714.2 803.2 1722.2 783.8 1731.2 748.8Z" fill="#fcfefe" fill-rule="evenodd"/><path d="M1727.8 738.2 1724.8 734.8 1715.8 731.2 1698.2 731.8 1662.8 742.2 1614.2 762.8 1567.2 786.2 1524.2 812.8 1514.2 822.2 1508.8 831.8 1509.2 839.8 1512.8 845.8 1519.8 852.2 1544.2 861.2 1563.2 875.2 1591.8 889.2 1603.8 892.2 1612.8 892.2 1627.2 888.8 1642.2 880.8 1667.2 862.8 1681.2 848.2 1695.2 829.8 1709.2 807.2 1717.2 790.8 1727.2 754.2Z" fill="#fafdfc" fill-rule="evenodd"/><path d="M1725.8 739.8 1722.2 735.8 1714.8 732.8 1698.2 732.8 1662.2 743.2 1611.8 764.8 1566.2 787.8 1530.2 809.8 1523.2 815.2 1514.2 825.2 1511.2 832.2 1512.2 838.2 1516.2 844.8 1523.8 851.2 1547.8 859.8 1564.8 872.2 1593.2 886.2 1610.8 889.2 1625.8 885.8 1655.8 868.8 1664.8 862.2 1677.2 850.2 1693.2 829.8 1708.2 805.8 1715.8 790.2 1725.2 755.8Z" fill="#f6fbfa" fill-rule="evenodd"/><path d="M1723.8 742.8 1720.8 737.8 1715.2 734.8 1699.8 733.8 1664.8 743.2 1624.8 759.8 1566.2 788.8 1531.8 810.2 1523.2 817.2 1516.2 825.8 1514.2 830.8 1515.2 837.2 1518.2 842.2 1525.8 848.8 1548.8 856.8 1566.8 869.8 1594.2 883.2 1609.8 886.2 1624.8 882.8 1665.8 858.8 1679.8 844.8 1692.2 828.2 1706.2 805.8 1715.2 786.8 1723.2 757.2Z" fill="#f3faf9" fill-rule="evenodd"/><path d="M1721.8 743.2 1719.8 739.8 1715.2 736.2 1709.8 734.8 1699.2 734.8 1662.8 744.8 1624.2 760.8 1567.8 788.8 1532.8 810.8 1518.2 825.2 1516.2 830.2 1517.2 836.2 1520.2 841.2 1526.8 846.8 1548.8 854.2 1566.8 867.2 1596.2 881.8 1603.8 883.8 1612.8 883.8 1622.8 881.2 1664.8 857.2 1675.8 847.2 1686.8 833.8 1704.8 805.8 1712.8 789.8 1721.8 758.8 1722.8 750.8Z" fill="#eff8f7" fill-rule="evenodd"/><path d="M1720.2 744.2 1716.8 738.8 1711.8 736.2 1706.2 735.2 1695.2 736.2 1663.2 745.2 1625.8 760.8 1573.8 786.2 1537.8 808.2 1521.2 822.8 1518.2 828.2 1518.8 835.8 1520.8 839.2 1528.2 845.8 1551.2 853.8 1569.2 866.8 1595.8 879.8 1604.8 882.2 1611.8 882.2 1624.2 878.8 1666.2 854.2 1677.8 843.2 1688.2 829.8 1705.8 801.8 1712.8 786.8 1720.8 758.2Z" fill="#eaf6f4" fill-rule="evenodd"/><path d="M1719.2 745.2 1714.8 738.8 1710.2 736.8 1693.2 737.2 1664.8 745.2 1623.8 762.2 1571.2 788.2 1538.2 808.8 1529.8 815.2 1521.2 824.2 1519.2 829.2 1520.2 835.8 1529.2 844.8 1552.2 852.8 1569.2 865.2 1596.8 878.8 1603.8 880.8 1612.8 880.8 1623.2 877.8 1664.8 853.8 1676.8 842.8 1687.8 828.8 1703.8 803.2 1711.8 786.8 1719.8 758.8Z" fill="#e6f4f1" fill-rule="evenodd"/><path d="M1718.2 745.8 1713.8 739.2 1709.2 737.2 1693.8 737.8 1666.2 745.2 1622.8 763.2 1572.2 788.2 1539.2 808.8 1523.2 822.8 1520.2 830.8 1521.2 835.2 1528.2 842.8 1552.8 851.8 1570.8 864.8 1596.2 877.2 1604.8 879.8 1612.2 879.8 1620.2 877.8 1664.2 852.8 1676.2 841.8 1684.8 831.2 1703.8 801.2 1710.8 786.8 1718.8 759.2Z" fill="#e1f2ee" fill-rule="evenodd"/><path d="M1717.2 745.8 1712.2 739.2 1708.8 737.8 1693.8 738.2 1664.8 746.2 1622.8 763.8 1573.2 788.2 1540.2 808.8 1524.2 822.8 1521.8 827.8 1521.8 833.8 1529.2 842.2 1551.2 849.8 1569.2 862.8 1598.8 877.2 1612.2 878.8 1620.2 876.8 1663.2 852.2 1677.8 838.8 1684.8 829.8 1701.2 803.8 1710.8 784.2 1717.8 760.2Z" fill="#ddf0eb" fill-rule="evenodd"/><path d="M1716.2 745.8 1712.2 740.2 1708.2 738.2 1700.8 737.8 1690.8 739.2 1663.2 747.2 1623.8 763.8 1572.2 789.2 1539.8 809.8 1525.2 822.8 1522.8 828.2 1522.8 833.2 1524.2 836.2 1531.2 842.2 1553.8 850.2 1569.2 861.8 1595.2 874.8 1603.8 877.8 1612.8 877.8 1620.2 875.8 1661.8 852.2 1674.8 840.8 1684.8 828.2 1701.8 801.2 1709.2 785.8 1717.2 758.8Z" fill="#d8ede8" fill-rule="evenodd"/><path d="M1715.2 745.2 1712.2 741.2 1704.8 738.2 1685.8 740.8 1656.2 750.2 1612.8 769.2 1571.2 790.2 1541.2 809.2 1526.2 822.8 1523.8 828.8 1524.2 833.8 1530.8 840.8 1553.8 849.2 1570.8 861.8 1599.8 875.8 1610.8 877.2 1624.8 872.8 1663.8 849.8 1673.8 840.8 1685.2 826.2 1700.2 802.2 1709.2 783.8 1716.2 759.8Z" fill="#d4ebe5" fill-rule="evenodd"/><path d="M1715.2 747.2 1712.8 742.8 1707.2 739.2 1699.8 738.8 1689.8 740.2 1657.2 750.2 1616.8 767.8 1570.2 791.2 1540.8 810.2 1527.8 822.2 1525.8 827.2 1526.2 833.2 1532.2 840.2 1554.2 848.8 1569.8 860.2 1598.2 874.2 1605.2 876.2 1611.2 876.2 1620.8 873.8 1661.2 850.8 1673.2 840.2 1682.2 829.2 1699.8 801.8 1706.8 788.2 1714.2 766.2 1715.8 758.8Z" fill="#cfe9e2" fill-rule="evenodd"/><path d="M1714.8 747.8 1712.2 743.2 1707.2 739.8 1698.8 739.2 1684.8 741.8 1658.2 750.2 1604.8 773.8 1563.2 795.8 1537.2 813.8 1529.2 823.2 1532.2 836.8 1537.2 841.2 1555.8 848.8 1570.2 859.8 1599.8 873.8 1610.8 875.2 1621.8 872.2 1662.2 849.2 1673.2 839.2 1683.2 826.8 1699.2 801.2 1707.2 785.2 1714.2 763.2Z" fill="#c8e6dd" fill-rule="evenodd"/><path d="M1713.2 745.8 1709.8 741.8 1704.8 739.8 1694.2 740.2 1676.8 744.2 1640.8 757.8 1580.8 786.2 1548.8 805.8 1534.8 817.2 1533.2 823.2 1537.2 836.2 1541.8 841.2 1554.8 847.2 1571.8 859.8 1595.8 870.8 1604.2 873.2 1612.2 873.2 1629.8 867.2 1661.8 848.8 1674.8 836.8 1683.2 825.8 1699.8 799.2 1706.2 786.2 1714.2 760.2 1714.8 752.8Z" fill="#c2e4da" fill-rule="evenodd"/><path d="M1712.2 745.2 1704.8 740.2 1693.8 740.8 1676.2 744.8 1639.2 758.8 1586.2 783.8 1556.8 800.8 1537.8 815.8 1536.8 817.8 1537.8 825.2 1541.2 834.8 1548.2 842.8 1557.2 847.8 1570.2 857.8 1594.2 867.8 1602.2 869.2 1618.8 868.8 1628.2 866.2 1637.8 861.8 1665.8 844.8 1675.2 835.2 1686.2 820.2 1700.8 796.2 1708.2 779.2 1713.8 759.8 1713.8 748.8Z" fill="#bbe2d5" fill-rule="evenodd"/><path d="M1711.8 745.8 1704.8 740.8 1692.8 741.2 1677.2 744.8 1644.8 756.8 1593.8 780.2 1558.2 800.2 1541.2 813.8 1540.2 818.2 1544.2 832.2 1552.8 843.2 1568.2 854.8 1576.2 859.2 1587.8 862.8 1605.2 865.8 1616.2 865.2 1632.2 862.2 1650.8 853.8 1662.8 846.2 1674.8 834.8 1683.2 823.8 1698.2 799.8 1704.2 788.2 1711.8 766.2 1713.2 758.8 1713.2 749.8Z" fill="#b4dfd1" fill-rule="evenodd"/><path d="M1710.8 745.8 1704.2 741.2 1695.8 741.2 1668.8 747.8 1629.2 763.8 1582.8 786.2 1556.8 801.8 1543.8 812.8 1543.8 817.8 1547.2 830.2 1558.2 843.8 1572.8 854.2 1581.2 857.8 1598.2 861.2 1609.2 862.2 1622.2 860.8 1640.2 856.8 1654.8 850.2 1666.2 842.2 1677.2 830.8 1701.8 792.2 1711.8 763.8 1712.8 753.2Z" fill="#adddcd" fill-rule="evenodd"/><path d="M1709.8 746.2 1703.2 741.8 1694.8 741.8 1669.8 747.8 1636.8 760.8 1588.2 783.8 1564.2 797.2 1547.8 809.8 1546.8 815.8 1550.8 829.2 1561.8 842.2 1575.2 851.8 1583.2 854.8 1600.8 858.2 1611.8 858.8 1632.8 855.2 1648.2 850.8 1659.8 845.2 1666.8 840.2 1678.2 828.2 1699.8 794.8 1705.2 782.8 1710.8 764.8 1711.8 753.2Z" fill="#a8dbc9" fill-rule="evenodd"/><path d="M1707.2 746.2 1701.8 742.2 1694.8 742.2 1669.2 748.2 1627.2 765.2 1583.2 786.8 1565.8 796.8 1550.2 808.8 1549.2 812.2 1553.2 827.2 1563.8 839.8 1575.8 848.2 1584.2 851.8 1602.2 855.2 1614.8 855.2 1631.8 852.2 1647.2 847.8 1659.2 842.2 1669.8 835.2 1678.2 826.8 1697.8 797.2 1704.2 783.8 1709.8 765.8 1710.2 756.2Z" fill="#a0d7c4" fill-rule="evenodd"/><path d="M1705.2 748.8 1701.2 743.8 1698.2 742.8 1687.2 743.8 1670.2 748.2 1631.2 763.8 1587.8 784.8 1565.8 797.2 1553.2 807.2 1552.2 812.2 1556.2 826.2 1563.8 835.8 1576.8 845.2 1584.8 848.8 1602.2 852.2 1614.8 852.2 1629.2 849.8 1646.2 844.8 1659.2 838.8 1671.8 830.2 1679.8 822.8 1697.2 796.8 1703.2 784.2 1708.2 767.2 1708.2 760.2Z" fill="#98d2bd" fill-rule="evenodd"/><path d="M1702.8 750.2 1696.8 743.8 1678.2 746.2 1644.8 758.2 1597.2 780.2 1569.8 795.2 1556.2 805.8 1555.2 812.8 1558.8 824.8 1568.8 836.2 1577.2 842.2 1586.2 846.2 1605.2 849.8 1619.8 848.8 1635.8 845.2 1657.8 836.2 1672.2 826.2 1684.2 814.8 1699.2 791.2 1702.8 782.8 1706.2 767.2Z" fill="#91ceb7" fill-rule="evenodd"/><path d="M1699.2 749.8 1694.2 744.8 1687.2 744.8 1669.2 749.2 1637.2 761.8 1589.2 784.8 1569.8 795.8 1558.8 804.8 1557.8 811.8 1561.2 823.8 1568.2 832.2 1579.2 840.2 1589.2 844.2 1602.8 846.8 1613.8 846.8 1628.8 844.2 1643.8 839.8 1654.8 834.8 1665.8 827.8 1677.8 817.8 1688.8 805.2 1696.2 793.8 1700.2 784.8 1703.2 770.8 1703.2 763.2Z" fill="#88c9b0" fill-rule="evenodd"/><path d="M1698.2 753.2 1691.8 745.8 1684.8 745.8 1668.8 749.8 1632.2 764.2 1588.2 785.8 1572.2 794.8 1561.8 803.2 1560.2 811.2 1563.8 822.8 1571.8 831.8 1580.2 837.8 1589.8 841.8 1603.2 844.2 1613.2 844.2 1628.2 841.8 1642.8 837.2 1654.8 831.8 1673.8 817.8 1682.8 808.8 1693.2 794.2 1698.2 782.8 1700.8 770.2Z" fill="#80c4a9" fill-rule="evenodd"/><path d="M1694.8 752.2 1688.8 746.8 1670.2 749.8 1630.8 765.2 1587.2 786.8 1570.2 796.8 1564.2 802.2 1562.8 811.8 1565.8 821.2 1573.8 830.2 1581.8 835.8 1590.2 839.2 1603.2 841.8 1623.8 840.2 1641.2 835.2 1653.2 829.8 1672.2 815.8 1680.8 807.2 1691.8 791.8 1695.8 782.2 1698.2 770.2 1697.8 760.8Z" fill="#78c1a0" fill-rule="evenodd"/><path d="M1693.8 755.2 1688.2 748.8 1685.8 747.8 1668.2 750.8 1637.2 762.8 1595.8 782.8 1575.2 794.2 1567.2 800.8 1565.2 806.8 1565.2 812.2 1568.2 820.8 1572.8 826.2 1582.2 833.2 1591.8 837.2 1602.2 839.2 1624.2 837.8 1639.8 833.2 1652.8 827.2 1673.2 811.8 1688.8 792.2 1692.8 783.8 1695.8 771.2 1695.8 762.8Z" fill="#72be99" fill-rule="evenodd"/><path d="M1690.8 754.8 1684.2 749.2 1668.2 751.2 1639.2 762.2 1598.8 781.8 1578.2 793.2 1570.2 799.8 1567.2 808.2 1569.8 818.8 1576.2 826.2 1584.2 831.8 1591.2 834.8 1604.2 837.2 1625.2 835.2 1650.8 825.8 1669.8 811.8 1681.2 799.2 1687.8 789.2 1691.2 781.2 1693.8 769.2 1692.8 759.2Z" fill="#6bbb90" fill-rule="evenodd"/><path d="M1688.8 755.8 1685.2 752.2 1679.2 750.2 1666.8 752.2 1632.2 765.8 1596.2 783.8 1582.2 791.8 1572.2 800.2 1569.8 806.8 1569.8 812.2 1571.8 817.8 1577.2 824.2 1584.2 829.2 1593.8 833.2 1606.2 835.2 1628.2 832.2 1649.8 823.8 1668.8 809.8 1679.2 798.2 1685.2 789.2 1691.2 771.8 1691.2 762.8Z" fill="#64b787" fill-rule="evenodd"/><path d="M1687.2 757.2 1683.8 753.8 1679.2 752.2 1665.8 753.2 1637.8 763.8 1606.2 779.2 1586.8 790.2 1575.2 799.8 1571.8 807.2 1571.8 811.8 1574.2 817.8 1578.8 822.8 1586.8 828.2 1602.2 832.8 1623.8 831.2 1638.2 826.8 1650.8 820.8 1667.2 808.2 1682.2 790.2 1686.2 782.2 1689.2 771.2 1689.2 763.2Z" fill="#60b27e" fill-rule="evenodd"/><path d="M1685.8 758.8 1683.8 756.2 1679.2 754.2 1667.8 753.8 1642.2 762.2 1619.2 773.2 1592.8 788.2 1581.8 796.2 1576.2 801.8 1574.2 805.8 1573.8 811.2 1575.8 816.2 1585.8 825.2 1593.2 828.8 1602.2 830.8 1621.2 829.8 1637.8 824.8 1649.2 819.2 1664.8 807.8 1672.2 800.2 1680.8 788.8 1685.2 779.2 1687.2 771.2 1687.2 763.2Z" fill="#5cac75" fill-rule="evenodd"/><path d="M1683.8 758.8 1675.8 755.2 1663.2 755.8 1647.2 760.8 1626.2 770.2 1598.8 786.2 1580.8 799.2 1577.2 803.2 1575.2 808.2 1576.8 814.8 1582.8 821.2 1588.2 824.8 1603.2 829.2 1618.2 828.8 1628.8 826.2 1648.8 817.8 1665.2 805.2 1679.8 787.2 1683.8 778.8 1685.8 770.2 1685.8 764.2Z" fill="#57a66b" fill-rule="evenodd"/><path d="M1683.2 760.2 1679.8 757.2 1674.8 756.2 1660.2 757.2 1644.8 762.2 1623.8 772.2 1583.8 798.2 1577.2 806.2 1576.8 811.2 1578.2 814.8 1587.2 822.8 1596.2 826.8 1604.8 828.2 1620.2 827.2 1635.8 822.8 1646.8 817.8 1663.8 805.2 1677.2 789.2 1683.8 774.8 1684.8 765.2Z" fill="#52a061" fill-rule="evenodd"/><path d="M1682.8 761.2 1677.8 757.8 1665.2 757.2 1655.2 759.2 1636.8 766.2 1620.8 774.8 1587.8 796.2 1579.8 803.8 1577.8 808.2 1578.2 812.2 1582.8 818.2 1589.2 822.8 1604.2 827.2 1620.8 826.2 1640.8 819.8 1658.2 809.2 1674.2 792.2 1682.8 774.8 1683.8 769.2Z" fill="#4e9b59" fill-rule="evenodd"/><path d="M1681.2 760.8 1677.8 758.8 1671.2 757.8 1660.8 758.8 1646.8 762.8 1630.8 769.8 1602.2 787.2 1585.8 799.2 1579.2 807.2 1580.2 813.8 1589.8 821.8 1604.2 826.2 1621.2 825.2 1635.2 821.2 1647.2 815.8 1663.8 803.2 1675.2 789.2 1682.2 772.8 1682.8 765.2Z" fill="#4a9453" fill-rule="evenodd"/><path d="M1680.8 762.2 1678.2 760.2 1670.8 758.8 1660.2 759.8 1645.8 763.8 1626.2 772.8 1588.8 798.2 1580.8 807.2 1581.8 813.2 1591.8 821.2 1605.2 825.2 1623.8 823.8 1645.8 815.8 1657.2 808.2 1666.8 799.2 1673.2 790.8 1680.8 774.8 1681.8 768.8Z" fill="#458e4f" fill-rule="evenodd"/><path d="M1679.8 764.2 1676.8 761.2 1664.2 760.2 1653.2 762.2 1637.2 767.8 1619.2 777.8 1596.8 793.8 1583.8 805.8 1582.8 810.8 1586.8 815.8 1592.8 819.8 1605.8 823.8 1623.2 822.8 1641.8 816.8 1657.2 807.2 1670.2 793.2 1679.2 775.2Z" fill="#41894a" fill-rule="evenodd"/><path d="M1677.8 764.8 1670.8 761.8 1655.8 762.8 1640.2 767.2 1626.8 773.8 1594.8 797.8 1586.2 806.8 1585.2 809.2 1586.2 811.8 1598.2 819.8 1608.2 822.2 1626.2 820.8 1646.8 813.2 1662.2 801.2 1670.2 791.2 1677.2 776.2Z" fill="#3c8245" fill-rule="evenodd"/><path d="M1675.2 765.8 1669.2 763.8 1655.2 764.2 1642.8 767.2 1629.8 772.8 1616.2 781.8 1602.8 793.2 1590.8 805.8 1589.2 810.2 1601.2 818.2 1613.8 820.2 1632.2 817.8 1646.2 812.2 1654.8 806.8 1664.8 796.8 1668.8 790.8 1674.8 777.8Z" fill="#387b41" fill-rule="evenodd"/><path d="M1672.8 767.8 1664.8 765.8 1652.8 766.2 1642.8 768.2 1630.2 773.2 1617.2 782.2 1607.2 791.8 1594.8 806.2 1594.2 810.2 1601.8 815.2 1613.2 817.8 1631.2 816.2 1646.2 810.8 1655.8 804.2 1666.8 790.8 1672.2 778.2Z" fill="#34733c" fill-rule="evenodd"/><path d="M1670.2 770.8 1663.8 768.2 1649.8 768.2 1639.8 770.2 1629.2 774.8 1613.2 788.2 1600.8 804.8 1599.8 809.8 1609.8 814.2 1623.8 815.2 1635.8 813.2 1646.8 808.8 1652.8 804.8 1662.8 793.8 1669.2 779.2Z" fill="#316d39" fill-rule="evenodd"/><path d="M1666.2 772.8 1659.8 770.8 1647.2 770.2 1638.8 771.8 1630.2 775.2 1623.2 780.2 1616.2 787.8 1609.2 798.2 1605.2 807.8 1614.2 811.8 1630.2 812.2 1640.8 809.8 1653.2 802.2 1660.8 793.2 1665.2 783.2Z" fill="#2d6534" fill-rule="evenodd"/><path d="M1662.8 776.2 1658.2 773.8 1649.8 772.2 1640.2 772.8 1630.8 776.2 1622.2 783.2 1617.2 790.2 1611.8 805.8 1615.8 808.2 1629.8 809.8 1638.8 808.2 1650.2 802.2 1658.8 792.2 1662.2 783.2Z" fill="#2a5e30" fill-rule="evenodd"/><path d="M1658.8 778.8 1645.8 774.2 1638.2 774.8 1630.8 777.8 1621.8 787.2 1618.8 794.2 1617.8 803.2 1622.2 805.8 1633.2 806.8 1639.2 805.8 1646.8 802.2 1655.2 793.2 1658.8 784.2Z" fill="#27592d" fill-rule="evenodd"/><path d="M1654.8 781.8 1648.8 777.8 1642.8 776.2 1635.2 777.2 1627.2 782.8 1623.8 788.8 1623.2 800.8 1626.2 802.8 1634.8 803.8 1646.2 799.8 1653.2 791.2Z" fill="#24542a" fill-rule="evenodd"/><path d="M1650.2 783.8 1647.2 780.8 1642.2 778.8 1633.2 780.2 1629.2 783.8 1626.8 789.2 1627.8 797.8 1632.8 800.2 1637.8 800.2 1643.2 798.2 1648.2 793.8 1650.2 789.8Z" fill="#204e27" fill-rule="evenodd"/><path d="M1640.8 781.8 1636.2 781.8 1631.8 785.2 1630.8 791.8 1633.8 795.8 1638.2 796.2 1644.8 792.2 1645.8 785.8Z" fill="#1d4924" fill-rule="evenodd"/></g>
<path d="M1473.4 853.8L1473.8 852.1L1474.4 850.4L1475.1 848.8L1476.1 847.2L1477.1 845.7L1478.4 844.2L1479.7 842.8L1481.2 841.3L1482.7 840L1484.3 838.6L1486 837.3L1487.7 836.1L1489.5 834.8L1491.3 833.6L1493.1 832.3L1494.8 831.1L1496.6 829.9L1498.3 828.7L1500 827.6L1501.6 826.4L1503.3 825.2L1504.9 824.1L1506.6 823L1508.2 821.8L1509.8 820.7L1511.4 819.6L1513 818.5L1514.6 817.4L1516.3 816.3L1517.9 815.2L1519.5 814.2L1521.2 813.1L1522.9 812.1L1524.5 811L1526.2 810L1527.9 808.9L1529.6 807.9L1531.3 806.8L1533 805.8L1534.8 804.8L1536.5 803.8L1538.2 802.8L1540 801.8L1541.7 800.8L1543.5 799.8L1545.2 798.8L1547 797.8L1548.8 796.8L1550.5 795.9L1552.3 794.9L1554.1 793.9L1555.9 793L1557.7 792L1559.4 791L1561.2 790.1L1563 789.1L1564.8 788.2L1566.6 787.2L1568.4 786.3L1570.2 785.4L1572 784.4L1573.8 783.5L1575.5 782.5L1577.3 781.6L1579.1 780.7L1580.9 779.8L1582.7 778.9L1584.5 777.9L1586.3 777L1588.1 776.1L1589.9 775.2L1591.7 774.3L1593.5 773.4L1595.3 772.5L1597.1 771.6L1598.9 770.7L1600.7 769.9L1602.5 769L1604.3 768.1L1606.1 767.2L1607.9 766.4L1609.7 765.5L1611.5 764.7L1613.3 763.8L1615.1 763L1616.9 762.1L1618.8 761.3L1620.6 760.5L1622.4 759.6L1624.2 758.8L1626.1 758L1627.9 757.2L1629.7 756.4L1631.5 755.6L1633.4 754.8L1635.2 754L1637.1 753.2L1638.9 752.4L1640.8 751.6L1642.6 750.9L1644.5 750.1L1646.3 749.4L1648.2 748.6L1650 747.9L1651.9 747.1L1653.8 746.4L1655.6 745.7L1657.5 744.9L1659.4 744.2L1661.3 743.5L1663.1 742.8L1665 742.1L1666.9 741.4L1668.8 740.8L1670.7 740.1L1672.6 739.4L1674.5 738.8L1676.4 738.1L1678.3 737.5L1680.3 736.8L1682.2 736.2L1684.1 735.6L1686 735L1688 734.4L1689.9 733.8L1691.8 733.2L1693.8 732.6L1695.7 732L1697.7 731.4L1699.7 730.9L1701.6 730.4L1703.6 729.9L1705.6 729.5L1707.5 729.1L1709.5 728.7L1711.5 728.4L1713.5 728.1L1715.4 727.9L1717.4 727.7L1719.4 727.6L1721.4 727.5L1723.4 727.5L1725.3 727.6L1727.3 727.8L1729.3 728L1731.2 728.4L1732.9 729L1734.3 730.1L1735.2 731.7L1735.6 733.7L1735.7 736L1735.6 738.3L1735.3 740.6L1734.9 742.7L1734.4 744.8L1733.7 746.7L1733.1 748.6L1732.3 750.5L1731.6 752.3L1730.8 754.1L1730 755.9L1729.3 757.7L1728.6 759.5L1728 761.4L1727.4 763.3L1726.9 765.2L1726.4 767.1L1726 769L1725.5 771L1725.1 772.9L1724.6 774.9L1724.2 776.9L1723.7 778.8L1723.2 780.8L1722.7 782.7L1722.1 784.6L1721.5 786.5L1720.8 788.4L1720.2 790.3L1719.5 792.2L1718.7 794L1718 795.9L1717.2 797.7L1716.3 799.5L1715.5 801.3L1714.6 803.1L1713.7 804.9L1712.8 806.7L1711.9 808.5L1710.9 810.3L1709.9 812L1708.9 813.8L1707.9 815.5L1706.8 817.2L1705.8 818.9L1704.7 820.6L1703.6 822.3L1702.5 824L1701.4 825.7L1700.3 827.4L1699.1 829.1L1698 830.7L1696.8 832.4L1695.6 834L1694.5 835.7L1693.3 837.3L1692.1 839L1690.9 840.6L1689.7 842.2L1688.5 843.8L1687.3 845.4L1686.1 847L1684.9 848.6L1683.7 850.2L1682.5 851.8L1681.3 853.4L1680 855L1678.8 856.5L1677.6 858.1L1676.3 859.7L1675.1 861.2L1673.8 862.8L1672.5 864.3L1671.3 865.8L1670 867.4L1668.7 868.9L1667.4 870.4L1666.1 871.9L1664.7 873.4L1663.4 874.9L1662 876.4L1660.7 877.8L1659.3 879.3L1657.9 880.8L1656.5 882.2L1655.1 883.7L1653.7 885.1L1652.3 886.5L1650.8 888L1649.4 889.4L1647.9 890.8L1646.6 892.3L1645.3 893.8L1644.1 895.5L1643.1 897.2L1642.3 899L1641.7 900.9L1641.1 902.9L1640.6 904.9L1640.1 906.9L1639.5 908.8L1638.7 910.6L1637.8 912.4L1636.8 914.1L1635.8 915.7L1634.6 917.3L1633.4 918.9L1632.2 920.5L1630.9 922L1629.7 923.6L1628.4 925.2L1627.2 926.8L1626.1 928.5L1625 930.2L1623.9 932L1622.8 933.8L1621.8 935.6L1620.8 937.4L1619.7 939.1L1618.7 940.8L1617.5 942.5L1616.4 944L1615.1 945.5L1613.8 946.8L1612.3 948.1L1610.8 949.2L1609.1 950.1L1607.3 951L1605.5 951.7L1603.6 952.4L1601.6 953L1599.6 953.5L1597.5 954L1595.5 954.4L1593.4 954.9L1591.3 955.3L1589.2 955.7L1587.2 956.2L1585.2 956.7L1583.2 957.2L1581.3 957.8L1579.4 958.4L1577.5 959.1L1575.6 959.7L1573.8 960.4L1572 961.2L1570.3 962L1568.5 962.8L1566.9 963.7L1565.2 964.7L1563.6 965.6L1561.9 966.6L1560.2 967.5L1558.5 968.4L1556.6 969.2L1554.6 969.9L1552.4 970.4L1550.1 970.7L1547.7 970.8L1545.3 970.7L1543.1 970.4L1541 970L1539.1 969.2L1537.6 968.3L1536.5 967.1L1535.8 965.7L1535.5 964.1L1535.4 962.3L1535.6 960.4L1535.8 958.3L1536.2 956.2L1536.4 954L1536.6 951.8L1536.6 949.7L1536.4 947.5L1535.9 945.5L1535.2 943.4L1534.4 941.4L1533.6 939.5L1532.9 937.6L1532.2 935.7L1531.6 933.8L1531.3 932L1531.3 930.2L1531.5 928.3L1531.9 926.5L1532.5 924.7L1533.3 923L1534.2 921.2L1535.2 919.4L1536.4 917.7L1537.6 915.9L1538.8 914.2L1540 912.4L1541.2 910.7L1542.4 908.9L1543.5 907.2L1544.6 905.4L1545.5 903.7L1546.2 901.9L1546.8 900.2L1547.2 898.4L1547.3 896.6L1547.2 894.9L1546.9 893.1L1546.3 891.3L1545.6 889.4L1544.9 887.6L1544.2 885.7L1543.5 883.7L1542.9 881.7L1542.3 879.7L1541.8 877.7L1541.2 875.7L1540.6 873.8L1539.8 872L1539 870.2L1537.9 868.6L1536.7 867.2L1535.3 865.9L1533.8 864.8L1532.4 864L1531.3 863.4L1530.4 863.1L1529.1 862.9L1527.6 862.8L1525.8 862.7L1523.8 862.5L1521.9 862.3L1519.8 862.1L1517.8 861.8L1515.8 861.5L1513.7 861.2L1511.7 860.8L1509.6 860.4L1507.6 860L1505.6 859.6L1503.6 859.2L1501.7 858.8L1499.9 858.3L1498 858L1496.2 857.7L1494.3 857.5L1492.4 857.4L1490.2 857.6L1487.9 858L1485.4 858.6L1482.9 859.3L1480.4 859.9L1478.2 860.3L1476.3 860.3L1474.8 859.8L1473.9 858.7L1473.4 857.3L1473.3 855.6L1473.4 853.8Z" fill="none" stroke="#37593c" stroke-width="2.2" stroke-linejoin="round"/>
<path d="M1523.3 832.5L1523.1 830.8L1523.3 829.1L1523.9 827.3L1524.7 825.5L1525.8 823.8L1527.1 822L1528.5 820.4L1530 818.9L1531.5 817.5L1533.1 816.1L1534.7 814.9L1536.4 813.7L1538.1 812.6L1539.8 811.5L1541.5 810.4L1543.2 809.3L1544.9 808.3L1546.6 807.2L1548.4 806.2L1550.1 805.1L1551.8 804.1L1553.5 803L1555.2 802L1556.9 800.9L1558.7 799.9L1560.4 798.9L1562.1 797.9L1563.8 796.9L1565.6 795.9L1567.3 794.9L1569 793.9L1570.8 792.9L1572.5 792L1574.3 791L1576.1 790L1577.8 789.1L1579.6 788.2L1581.4 787.2L1583.2 786.3L1585 785.4L1586.8 784.5L1588.6 783.6L1590.4 782.7L1592.2 781.8L1594 780.9L1595.9 780.1L1597.7 779.2L1599.5 778.3L1601.3 777.5L1603.2 776.6L1605 775.8L1606.9 774.9L1608.7 774.1L1610.6 773.3L1612.4 772.5L1614.2 771.6L1616.1 770.8L1618 770L1619.8 769.2L1621.7 768.4L1623.5 767.6L1625.4 766.8L1627.2 766L1629.1 765.2L1630.9 764.4L1632.8 763.6L1634.6 762.8L1636.4 762L1638.3 761.2L1640.1 760.4L1642 759.6L1643.8 758.8L1645.6 758L1647.5 757.2L1649.3 756.4L1651.1 755.6L1652.9 754.8L1654.8 754L1656.6 753.3L1658.4 752.5L1660.2 751.7L1662.1 751L1663.9 750.2L1665.8 749.5L1667.7 748.8L1669.5 748.1L1671.4 747.4L1673.3 746.8L1675.3 746.1L1677.2 745.5L1679.2 744.9L1681.2 744.4L1683.2 743.8L1685.2 743.3L1687.3 742.9L1689.3 742.4L1691.5 742L1693.6 741.7L1695.7 741.4L1697.9 741.2L1699.9 741.1L1701.9 741.1L1703.8 741.4L1705.6 741.8L1707.2 742.4L1708.7 743.3L1710 744.4L1711 745.8L1711.8 747.4L1712.3 749.1L1712.6 751L1712.7 752.9L1712.5 754.9L1712.2 757L1711.7 759.1L1711.2 761.2L1710.5 763.3L1709.8 765.5L1709.1 767.5L1708.4 769.6L1707.7 771.6L1707.1 773.5L1706.4 775.4L1705.8 777.3L1705.2 779.1L1704.5 780.9L1703.8 782.7L1703 784.5L1702.2 786.3L1701.4 788.1L1700.5 789.8L1699.6 791.6L1698.7 793.3L1697.8 795.1L1696.8 796.8L1695.8 798.5L1694.8 800.3L1693.8 802L1692.8 803.8L1691.8 805.5L1690.7 807.3L1689.7 809.1L1688.7 810.8L1687.6 812.6L1686.6 814.4L1685.5 816.1L1684.5 817.9L1683.4 819.6L1682.3 821.4L1681.2 823.1L1680.1 824.8L1679 826.5L1677.8 828.2L1676.7 829.8L1675.5 831.4L1674.3 833L1673.1 834.6L1671.8 836.1L1670.5 837.6L1669.2 839L1667.9 840.5L1666.5 841.8L1665.1 843.2L1663.7 844.4L1662.2 845.7L1660.7 846.8L1659.2 848L1657.6 849L1656 850.1L1654.4 851.1L1652.8 852.1L1651.1 853.1L1649.4 854.1L1647.7 855.1L1646 856.2L1644.3 857.2L1642.5 858.2L1640.8 859.3L1639.1 860.5L1637.3 861.6L1635.6 862.8L1633.8 864L1632 865.2L1630.3 866.3L1628.5 867.5L1626.7 868.6L1625 869.7L1623.2 870.7L1621.4 871.6L1619.6 872.5L1617.8 873.2L1616 873.9L1614.2 874.5L1612.4 874.9L1610.6 875.2L1608.8 875.4L1607 875.4L1605.2 875.2L1603.3 874.8L1601.5 874.3L1599.7 873.6L1597.8 872.8L1596 871.8L1594.2 870.8L1592.3 869.7L1590.5 868.5L1588.7 867.4L1586.8 866.3L1585 865.2L1583.2 864.2L1581.4 863.4L1579.7 862.5L1577.9 861.8L1576.2 861L1574.5 860.2L1572.8 859.4L1571.1 858.4L1569.5 857.4L1568 856.3L1566.4 855.1L1564.9 853.8L1563.3 852.6L1561.8 851.4L1560.2 850.2L1558.5 849.1L1556.9 848L1555.2 847L1553.5 846L1551.7 845.2L1549.9 844.5L1548 843.9L1546.1 843.4L1544 843L1542 842.7L1539.9 842.4L1537.8 842L1535.7 841.6L1533.6 840.9L1531.5 840.1L1529.6 839.2L1527.8 838.1L1526.2 836.9L1524.9 835.5L1523.9 834L1523.3 832.5Z" fill="none" stroke="#37593c" stroke-width="2.2" stroke-linejoin="round"/>
<path d="M1576.6 809.2L1576.8 807.6L1577.4 806L1578.2 804.4L1579.4 802.8L1580.7 801.3L1582.3 799.8L1583.9 798.3L1585.7 796.9L1587.5 795.6L1589.3 794.3L1591 793L1592.8 791.8L1594.6 790.7L1596.3 789.6L1598 788.5L1599.7 787.4L1601.4 786.4L1603.1 785.4L1604.8 784.4L1606.5 783.3L1608.1 782.3L1609.8 781.3L1611.5 780.3L1613.2 779.3L1614.8 778.3L1616.5 777.3L1618.2 776.3L1619.9 775.3L1621.6 774.3L1623.3 773.3L1625.1 772.3L1626.8 771.4L1628.6 770.4L1630.4 769.4L1632.2 768.5L1634 767.5L1635.9 766.6L1637.7 765.7L1639.6 764.8L1641.6 763.9L1643.5 763.1L1645.4 762.3L1647.4 761.5L1649.4 760.7L1651.4 760L1653.4 759.4L1655.4 758.8L1657.4 758.3L1659.4 757.8L1661.4 757.4L1663.4 757.1L1665.4 756.8L1667.4 756.6L1669.4 756.5L1671.4 756.5L1673.4 756.6L1675.4 756.8L1677.4 757.1L1679.2 757.6L1680.8 758.3L1682 759.4L1682.9 760.8L1683.4 762.5L1683.7 764.4L1683.8 766.3L1683.7 768.2L1683.6 770.1L1683.3 772L1682.9 773.9L1682.3 775.8L1681.7 777.7L1681 779.6L1680.1 781.5L1679.2 783.4L1678.2 785.3L1677.1 787.1L1676 788.9L1674.8 790.7L1673.5 792.5L1672.2 794.2L1670.9 795.9L1669.5 797.5L1668.1 799.1L1666.7 800.6L1665.2 802.1L1663.7 803.5L1662.2 804.9L1660.7 806.3L1659.2 807.6L1657.6 808.8L1656 810L1654.4 811.2L1652.8 812.3L1651.1 813.4L1649.5 814.5L1647.8 815.5L1646.1 816.4L1644.3 817.4L1642.6 818.2L1640.8 819.1L1639 819.9L1637.1 820.7L1635.3 821.4L1633.4 822.1L1631.5 822.8L1629.6 823.4L1627.7 824L1625.8 824.6L1623.8 825.1L1621.8 825.6L1619.8 826.1L1617.8 826.4L1615.8 826.8L1613.8 827L1611.8 827.2L1609.8 827.3L1607.7 827.3L1605.7 827.3L1603.7 827.2L1601.7 826.9L1599.7 826.6L1597.7 826.2L1595.7 825.6L1593.7 825L1591.7 824.2L1589.8 823.3L1587.9 822.3L1586 821.2L1584.1 819.9L1582.4 818.6L1580.8 817.1L1579.4 815.6L1578.3 814L1577.4 812.4L1576.8 810.8L1576.6 809.2Z" fill="none" stroke="#37593c" stroke-width="2.2" stroke-linejoin="round"/>
</g>
<rect x="1159.4" y="75.8" width="312" height="309.2" fill="none" stroke="#a6a6a6" stroke-width="1.7" stroke-linejoin="round"/>
<rect x="1159.4" y="385" width="312" height="310.2" fill="none" stroke="#a6a6a6" stroke-width="1.7" stroke-linejoin="round"/>
<rect x="1471.4" y="385" width="312" height="310.2" fill="none" stroke="#a6a6a6" stroke-width="1.7" stroke-linejoin="round"/>
<rect x="1159.4" y="695.2" width="312" height="308.8" fill="none" stroke="#a6a6a6" stroke-width="1.7" stroke-linejoin="round"/>
<rect x="1471.4" y="695.2" width="312" height="308.8" fill="none" stroke="#a6a6a6" stroke-width="1.7" stroke-linejoin="round"/>
<rect x="1783.4" y="695.2" width="311.9" height="308.8" fill="none" stroke="#a6a6a6" stroke-width="1.7" stroke-linejoin="round"/>
<g stroke="#000" stroke-width="0.2">
<text y="25.1" font-size="31"><tspan x="199.8" font-style="italic">R</tspan><tspan x="217.9" dy="4" font-size="21.7">eq</tspan><tspan x="246.4" dy="-4">[km]</tspan></text>
<text y="59.6" font-size="30.5" fill="#2a3d7d" stroke="#2a3d7d" stroke-width="0.25"><tspan x="147.9">CI</tspan><tspan x="178.8" dy="4.4" font-size="21.35">68%</tspan><tspan x="249.1" dy="-4.4">15.12</tspan></text>
<text transform="translate(222.6,60.8) scale(1.22,1)" x="0" y="0" font-size="30.5" fill="#2a3d7d" stroke="#2a3d7d" stroke-width="0.325">=</text>
<text x="317.5" y="47.5" font-size="22.27" fill="#2a3d7d" stroke="#2a3d7d" stroke-width="0.2">+0.64</text>
<text x="317.5" y="67.2" font-size="22.27" fill="#2a3d7d" stroke="#2a3d7d" stroke-width="0.2">−1.31</text>
<text x="451.2" y="38.4" font-size="53" textLength="533.5" lengthAdjust="spacingAndGlyphs" stroke="#000" stroke-width="0.7">NICER &amp; XMM Newton</text>
<text y="335.0" font-size="31"><tspan x="527.5" font-style="italic">M/R</tspan><tspan dy="4" font-size="21.7">eq</tspan></text>
<text y="368.6" font-size="30.5" fill="#2a3d7d" stroke="#2a3d7d" stroke-width="0.25"><tspan x="441.3">CI</tspan><tspan x="472.2" dy="4.4" font-size="21.35">68%</tspan><tspan x="540.9" dy="-4.4">0.1861</tspan></text>
<text transform="translate(516.0,369.8) scale(1.22,1)" x="0" y="0" font-size="30.5" fill="#2a3d7d" stroke="#2a3d7d" stroke-width="0.325">=</text>
<text x="626.0" y="356.5" font-size="22.27" fill="#2a3d7d" stroke="#2a3d7d" stroke-width="0.2">+0.0070</text>
<text x="626.0" y="376.2" font-size="22.27" fill="#2a3d7d" stroke="#2a3d7d" stroke-width="0.2">−0.0100</text>
<text y="645.0" font-size="31"><tspan x="828.4" font-style="italic">M</tspan><tspan x="861.0">[M</tspan><tspan dy="5.5" font-size="21.7" font-family="DejaVu Serif">⊙</tspan><tspan dy="-5.5" dx="-1">]</tspan></text>
<text y="679.7" font-size="30.5" fill="#2a3d7d" stroke="#2a3d7d" stroke-width="0.25"><tspan x="779.4">CI</tspan><tspan x="810.3" dy="4.4" font-size="21.35">68%</tspan><tspan x="880.6" dy="-4.4">1.88</tspan></text>
<text transform="translate(854.1,680.9) scale(1.22,1)" x="0" y="0" font-size="30.5" fill="#2a3d7d" stroke="#2a3d7d" stroke-width="0.325">=</text>
<text x="934.9" y="667.6" font-size="22.27" fill="#2a3d7d" stroke="#2a3d7d" stroke-width="0.2">+0.13</text>
<text x="934.9" y="687.3" font-size="22.27" fill="#2a3d7d" stroke="#2a3d7d" stroke-width="0.2">−0.19</text>
<rect x="806.1" y="196.7" width="143.89999999999998" height="105.10000000000002" rx="8" ry="8" fill="#fff" stroke="#666" stroke-width="2.2"/>
<text x="818.2 847.7 877.2 897.3" y="265.8" dy="0 0 0 0" font-size="52" stroke="#000" stroke-width="1.0">ST-U</text>
<text x="93.5" y="474.2" font-size="32" fill="#000" text-anchor="end">0.20</text>
<text x="93.5" y="552.4" font-size="32" fill="#000" text-anchor="end">0.18</text>
<text x="93.5" y="630.2" font-size="32" fill="#000" text-anchor="end">0.16</text>
<text x="93.5" y="805.6" font-size="32" fill="#000" text-anchor="end">2.0</text>
<text x="93.5" y="909.9" font-size="32" fill="#000" text-anchor="end">1.5</text>
<g transform="translate(150.0,1006.3) rotate(-90)"><text x="0" y="0" font-size="31" text-anchor="end">10</text></g>
<g transform="translate(238.5,1006.3) rotate(-90)"><text x="0" y="0" font-size="31" text-anchor="end">12</text></g>
<g transform="translate(327.0,1006.3) rotate(-90)"><text x="0" y="0" font-size="31" text-anchor="end">14</text></g>
<g transform="translate(490.0,1006.3) rotate(-90)"><text x="0" y="0" font-size="31" text-anchor="end">0.16</text></g>
<g transform="translate(569.0,1006.3) rotate(-90)"><text x="0" y="0" font-size="31" text-anchor="end">0.18</text></g>
<g transform="translate(648.0,1006.3) rotate(-90)"><text x="0" y="0" font-size="31" text-anchor="end">0.20</text></g>
<g transform="translate(832.6,1006.3) rotate(-90)"><text x="0" y="0" font-size="31" text-anchor="end">1.5</text></g>
<g transform="translate(938.2,1006.3) rotate(-90)"><text x="0" y="0" font-size="31" text-anchor="end">2.0</text></g>
<text y="1071.7" font-size="31"><tspan x="199.4" font-style="italic">R</tspan><tspan x="217.5" dy="4" font-size="21.7">eq</tspan><tspan x="246.0" dy="-4">[km]</tspan></text>
<text y="1093.6" font-size="31"><tspan x="526.9" font-style="italic">M/R</tspan><tspan dy="4" font-size="21.7">eq</tspan></text>
<text y="1078.4" font-size="31"><tspan x="827.1" font-style="italic">M</tspan><tspan x="859.7">[M</tspan><tspan dy="5.5" font-size="21.7" font-family="DejaVu Serif">⊙</tspan><tspan dy="-5.5" dx="-1">]</tspan></text>
<g transform="translate(26.0,540.0) rotate(-90)"><text x="0" y="0" font-size="31" text-anchor="middle"><tspan font-style="italic">M/R</tspan><tspan dy="4" font-size="21.7">eq</tspan></text></g>
<g transform="translate(44.0,848.0) rotate(-90)"><text x="0" y="0" font-size="31" text-anchor="middle"><tspan font-style="italic">M</tspan> [M<tspan dy="5.5" font-size="21.7" font-family="DejaVu Serif">⊙</tspan><tspan dy="-5.5" dx="-1">]</tspan></text></g>
<text y="25.7" font-size="31"><tspan x="1264.5" font-style="italic">R</tspan><tspan x="1282.6" dy="4" font-size="21.7">eq</tspan><tspan x="1311.1" dy="-4">[km]</tspan></text>
<text y="60.6" font-size="30.5" fill="#2a4d2d" stroke="#2a4d2d" stroke-width="0.25"><tspan x="1212.5">CI</tspan><tspan x="1243.4" dy="4.4" font-size="21.35">68%</tspan><tspan x="1313.7" dy="-4.4">15.23</tspan></text>
<text transform="translate(1287.2,61.8) scale(1.22,1)" x="0" y="0" font-size="30.5" fill="#2a4d2d" stroke="#2a4d2d" stroke-width="0.325">=</text>
<text x="1381.7" y="48.5" font-size="22.27" fill="#2a4d2d" stroke="#2a4d2d" stroke-width="0.2">+0.53</text>
<text x="1381.7" y="68.2" font-size="22.27" fill="#2a4d2d" stroke="#2a4d2d" stroke-width="0.2">−0.85</text>
<text x="1499.2" y="38.0" font-size="53" textLength="533.5" lengthAdjust="spacingAndGlyphs" stroke="#000" stroke-width="0.7">NICER &amp; XMM Newton</text>
<text y="335.7" font-size="31"><tspan x="1591.8" font-style="italic">M/R</tspan><tspan dy="4" font-size="21.7">eq</tspan></text>
<text y="370.0" font-size="30.5" fill="#2a4d2d" stroke="#2a4d2d" stroke-width="0.25"><tspan x="1505.8">CI</tspan><tspan x="1536.7" dy="4.4" font-size="21.35">68%</tspan><tspan x="1605.4" dy="-4.4">0.1880</tspan></text>
<text transform="translate(1580.5,371.2) scale(1.22,1)" x="0" y="0" font-size="30.5" fill="#2a4d2d" stroke="#2a4d2d" stroke-width="0.325">=</text>
<text x="1691.0" y="357.9" font-size="22.27" fill="#2a4d2d" stroke="#2a4d2d" stroke-width="0.2">+0.0057</text>
<text x="1691.0" y="377.6" font-size="22.27" fill="#2a4d2d" stroke="#2a4d2d" stroke-width="0.2">−0.0065</text>
<text y="645.9" font-size="31"><tspan x="1892.4" font-style="italic">M</tspan><tspan x="1925.0">[M</tspan><tspan dy="5.5" font-size="21.7" font-family="DejaVu Serif">⊙</tspan><tspan dy="-5.5" dx="-1">]</tspan></text>
<text y="680.3" font-size="30.5" fill="#2a4d2d" stroke="#2a4d2d" stroke-width="0.25"><tspan x="1830.7">CI</tspan><tspan x="1861.6" dy="4.4" font-size="21.35">68%</tspan><tspan x="1931.9" dy="-4.4">1.927</tspan></text>
<text transform="translate(1905.4,681.5) scale(1.22,1)" x="0" y="0" font-size="30.5" fill="#2a4d2d" stroke="#2a4d2d" stroke-width="0.325">=</text>
<text x="1999.9" y="668.2" font-size="22.27" fill="#2a4d2d" stroke="#2a4d2d" stroke-width="0.2">+0.097</text>
<text x="1999.9" y="687.9" font-size="22.27" fill="#2a4d2d" stroke="#2a4d2d" stroke-width="0.2">−0.125</text>
<rect x="1839.2" y="196.8" width="217.29999999999995" height="105.19999999999999" rx="8" ry="8" fill="#fff" stroke="#666" stroke-width="2.2"/>
<text x="1862.3 1891.5 1915.2 1941.1 1969.4 1998.6" y="266.1" dy="0 0 6.5 -6.5 0 0" font-size="52" stroke="#000" stroke-width="1.0">ST+PST</text>
<text x="1156.2" y="480.9" font-size="32" fill="#000" text-anchor="end">0.20</text>
<text x="1156.2" y="591.6" font-size="32" fill="#000" text-anchor="end">0.18</text>
<text x="1157.0" y="791.2" font-size="32" fill="#000" text-anchor="end">2.0</text>
<text x="1157.0" y="880.8" font-size="32" fill="#000" text-anchor="end">1.6</text>
<text x="1157.0" y="970.6" font-size="32" fill="#000" text-anchor="end">1.2</text>
<g transform="translate(1209.2,1006.3) rotate(-90)"><text x="0" y="0" font-size="31" text-anchor="end">10.5</text></g>
<g transform="translate(1331.5,1006.3) rotate(-90)"><text x="0" y="0" font-size="31" text-anchor="end">13.0</text></g>
<g transform="translate(1454.7,1006.3) rotate(-90)"><text x="0" y="0" font-size="31" text-anchor="end">15.5</text></g>
<g transform="translate(1595.0,1006.3) rotate(-90)"><text x="0" y="0" font-size="31" text-anchor="end">0.18</text></g>
<g transform="translate(1706.6,1006.3) rotate(-90)"><text x="0" y="0" font-size="31" text-anchor="end">0.20</text></g>
<g transform="translate(1836.8,1006.3) rotate(-90)"><text x="0" y="0" font-size="31" text-anchor="end">1.2</text></g>
<g transform="translate(1926.6,1006.3) rotate(-90)"><text x="0" y="0" font-size="31" text-anchor="end">1.6</text></g>
<g transform="translate(2017.5,1006.3) rotate(-90)"><text x="0" y="0" font-size="31" text-anchor="end">2.0</text></g>
<text y="1095.6" font-size="31"><tspan x="1263.0" font-style="italic">R</tspan><tspan x="1281.1" dy="4" font-size="21.7">eq</tspan><tspan x="1309.6" dy="-4">[km]</tspan></text>
<text y="1095.6" font-size="31"><tspan x="1590.8" font-style="italic">M/R</tspan><tspan dy="4" font-size="21.7">eq</tspan></text>
<text y="1080.6" font-size="31"><tspan x="1892.2" font-style="italic">M</tspan><tspan x="1924.8">[M</tspan><tspan dy="5.5" font-size="21.7" font-family="DejaVu Serif">⊙</tspan><tspan dy="-5.5" dx="-1">]</tspan></text>
<g transform="translate(1090.0,540.0) rotate(-90)"><text x="0" y="0" font-size="31" text-anchor="middle"><tspan font-style="italic">M/R</tspan><tspan dy="4" font-size="21.7">eq</tspan></text></g>
<g transform="translate(1107.0,850.0) rotate(-90)"><text x="0" y="0" font-size="31" text-anchor="middle"><tspan font-style="italic">M</tspan> [M<tspan dy="5.5" font-size="21.7" font-family="DejaVu Serif">⊙</tspan><tspan dy="-5.5" dx="-1">]</tspan></text></g>
</g>
</svg>
</body></html>
